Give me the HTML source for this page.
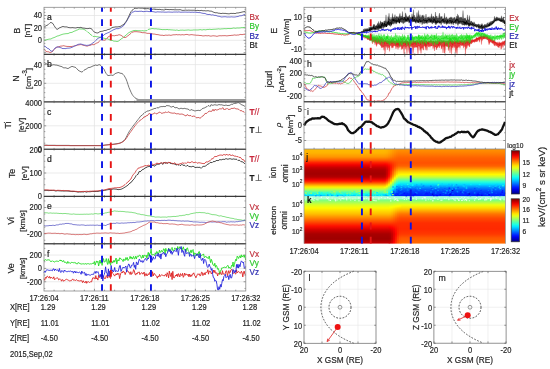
<!DOCTYPE html>
<html><head><meta charset="utf-8"><title>Figure</title>
<style>html,body{margin:0;padding:0;background:#fff;width:550px;height:369px;overflow:hidden}svg{display:block;filter:blur(0.25px)}</style>
</head><body>
<svg width="550" height="369" viewBox="0 0 550 369"><defs><linearGradient id="g1" gradientUnits="userSpaceOnUse" x1="0" y1="149.0" x2="0" y2="196.4"><stop offset="0.000" stop-color="#ffbd00"/><stop offset="0.084" stop-color="#ffb300"/><stop offset="0.169" stop-color="#ff9400"/><stop offset="0.232" stop-color="#ff6100"/><stop offset="0.285" stop-color="#ff2400"/><stop offset="0.338" stop-color="#f00000"/><stop offset="0.390" stop-color="#c70000"/><stop offset="0.443" stop-color="#ad0000"/><stop offset="0.527" stop-color="#a30000"/><stop offset="0.591" stop-color="#b30000"/><stop offset="0.633" stop-color="#db0000"/><stop offset="0.675" stop-color="#ff0f00"/><stop offset="0.717" stop-color="#ff5700"/><stop offset="0.759" stop-color="#ffa800"/><stop offset="0.802" stop-color="#fff000"/><stop offset="0.844" stop-color="#c7ff38"/><stop offset="0.886" stop-color="#80ff80"/><stop offset="0.928" stop-color="#38ffc7"/><stop offset="0.966" stop-color="#00f0ff"/><stop offset="1.000" stop-color="#00b3ff"/></linearGradient><linearGradient id="g2" gradientUnits="userSpaceOnUse" x1="0" y1="149.0" x2="0" y2="196.4"><stop offset="0.000" stop-color="#ff9400"/><stop offset="0.084" stop-color="#ff8000"/><stop offset="0.190" stop-color="#ff6100"/><stop offset="0.295" stop-color="#ff5200"/><stop offset="0.359" stop-color="#ff6100"/><stop offset="0.422" stop-color="#ff9400"/><stop offset="0.485" stop-color="#ffd100"/><stop offset="0.538" stop-color="#fffa00"/><stop offset="0.591" stop-color="#c7ff38"/><stop offset="0.643" stop-color="#75ff8a"/><stop offset="0.696" stop-color="#24ffdb"/><stop offset="0.749" stop-color="#00dbff"/><stop offset="0.802" stop-color="#0094ff"/><stop offset="0.854" stop-color="#0061ff"/><stop offset="0.907" stop-color="#003dff"/><stop offset="0.960" stop-color="#0024ff"/><stop offset="1.000" stop-color="#001aff"/></linearGradient><linearGradient id="g3" gradientUnits="userSpaceOnUse" x1="0" y1="149.0" x2="0" y2="196.4"><stop offset="0.000" stop-color="#ffbc00"/><stop offset="0.021" stop-color="#ffba00"/><stop offset="0.042" stop-color="#ffb700"/><stop offset="0.063" stop-color="#ffb500"/><stop offset="0.083" stop-color="#ffb200"/><stop offset="0.104" stop-color="#ffab00"/><stop offset="0.125" stop-color="#ffa300"/><stop offset="0.146" stop-color="#ff9c00"/><stop offset="0.167" stop-color="#ff9400"/><stop offset="0.187" stop-color="#ff8400"/><stop offset="0.208" stop-color="#ff7400"/><stop offset="0.229" stop-color="#ff6300"/><stop offset="0.250" stop-color="#ff4c00"/><stop offset="0.271" stop-color="#ff3400"/><stop offset="0.292" stop-color="#ff1e00"/><stop offset="0.312" stop-color="#ff0a00"/><stop offset="0.333" stop-color="#f50000"/><stop offset="0.354" stop-color="#e40000"/><stop offset="0.375" stop-color="#d40000"/><stop offset="0.396" stop-color="#c60000"/><stop offset="0.417" stop-color="#bd0000"/><stop offset="0.438" stop-color="#b30000"/><stop offset="0.458" stop-color="#af0000"/><stop offset="0.479" stop-color="#ac0000"/><stop offset="0.500" stop-color="#aa0000"/><stop offset="0.521" stop-color="#a80000"/><stop offset="0.542" stop-color="#aa0000"/><stop offset="0.562" stop-color="#b00000"/><stop offset="0.583" stop-color="#b50000"/><stop offset="0.604" stop-color="#c40000"/><stop offset="0.625" stop-color="#d80000"/><stop offset="0.646" stop-color="#f00000"/><stop offset="0.667" stop-color="#ff0a00"/><stop offset="0.688" stop-color="#ff2900"/><stop offset="0.708" stop-color="#ff4c00"/><stop offset="0.729" stop-color="#ff7200"/><stop offset="0.750" stop-color="#ff9a00"/><stop offset="0.771" stop-color="#ffc000"/><stop offset="0.792" stop-color="#ffe300"/><stop offset="0.812" stop-color="#f8ff07"/><stop offset="0.833" stop-color="#d5ff2a"/><stop offset="0.854" stop-color="#b2ff4d"/><stop offset="0.875" stop-color="#8fff70"/><stop offset="0.896" stop-color="#6cff93"/><stop offset="0.917" stop-color="#49ffb6"/><stop offset="0.937" stop-color="#24ffdb"/><stop offset="0.958" stop-color="#00fcff"/><stop offset="0.979" stop-color="#00d6ff"/><stop offset="1.000" stop-color="#00b1ff"/></linearGradient><linearGradient id="g4" gradientUnits="userSpaceOnUse" x1="0" y1="149.0" x2="0" y2="196.4"><stop offset="0.000" stop-color="#ffb900"/><stop offset="0.021" stop-color="#ffb600"/><stop offset="0.042" stop-color="#ffb300"/><stop offset="0.063" stop-color="#ffb100"/><stop offset="0.083" stop-color="#ffae00"/><stop offset="0.104" stop-color="#ffa700"/><stop offset="0.125" stop-color="#ff9f00"/><stop offset="0.146" stop-color="#ff9800"/><stop offset="0.167" stop-color="#ff9100"/><stop offset="0.187" stop-color="#ff8200"/><stop offset="0.208" stop-color="#ff7200"/><stop offset="0.229" stop-color="#ff6200"/><stop offset="0.250" stop-color="#ff4d00"/><stop offset="0.271" stop-color="#ff3700"/><stop offset="0.292" stop-color="#ff2200"/><stop offset="0.312" stop-color="#ff1000"/><stop offset="0.333" stop-color="#fd0000"/><stop offset="0.354" stop-color="#ee0000"/><stop offset="0.375" stop-color="#e10000"/><stop offset="0.396" stop-color="#d50000"/><stop offset="0.417" stop-color="#ce0000"/><stop offset="0.438" stop-color="#c60000"/><stop offset="0.458" stop-color="#c40000"/><stop offset="0.479" stop-color="#c40000"/><stop offset="0.500" stop-color="#c30000"/><stop offset="0.521" stop-color="#c20000"/><stop offset="0.542" stop-color="#c60000"/><stop offset="0.562" stop-color="#cd0000"/><stop offset="0.583" stop-color="#d40000"/><stop offset="0.604" stop-color="#e40000"/><stop offset="0.625" stop-color="#f90000"/><stop offset="0.646" stop-color="#ff1200"/><stop offset="0.667" stop-color="#ff2c00"/><stop offset="0.688" stop-color="#ff4b00"/><stop offset="0.708" stop-color="#ff6e00"/><stop offset="0.729" stop-color="#ff9300"/><stop offset="0.750" stop-color="#ffbb00"/><stop offset="0.771" stop-color="#ffdf00"/><stop offset="0.792" stop-color="#fcff03"/><stop offset="0.812" stop-color="#daff25"/><stop offset="0.833" stop-color="#b8ff47"/><stop offset="0.854" stop-color="#96ff69"/><stop offset="0.875" stop-color="#75ff8a"/><stop offset="0.896" stop-color="#54ffab"/><stop offset="0.917" stop-color="#32ffcd"/><stop offset="0.937" stop-color="#10ffef"/><stop offset="0.958" stop-color="#00eaff"/><stop offset="0.979" stop-color="#00c7ff"/><stop offset="1.000" stop-color="#00a4ff"/></linearGradient><linearGradient id="g5" gradientUnits="userSpaceOnUse" x1="0" y1="149.0" x2="0" y2="196.4"><stop offset="0.000" stop-color="#ffb300"/><stop offset="0.021" stop-color="#ffb000"/><stop offset="0.042" stop-color="#ffad00"/><stop offset="0.063" stop-color="#ffaa00"/><stop offset="0.083" stop-color="#ffa700"/><stop offset="0.104" stop-color="#ffa000"/><stop offset="0.125" stop-color="#ff9900"/><stop offset="0.146" stop-color="#ff9100"/><stop offset="0.167" stop-color="#ff8a00"/><stop offset="0.187" stop-color="#ff7d00"/><stop offset="0.208" stop-color="#ff6f00"/><stop offset="0.229" stop-color="#ff6100"/><stop offset="0.250" stop-color="#ff4f00"/><stop offset="0.271" stop-color="#ff3c00"/><stop offset="0.292" stop-color="#ff2900"/><stop offset="0.312" stop-color="#ff1b00"/><stop offset="0.333" stop-color="#ff0c00"/><stop offset="0.354" stop-color="#ff0100"/><stop offset="0.375" stop-color="#f70000"/><stop offset="0.396" stop-color="#ef0000"/><stop offset="0.417" stop-color="#eb0000"/><stop offset="0.438" stop-color="#e80000"/><stop offset="0.458" stop-color="#e90000"/><stop offset="0.479" stop-color="#ec0000"/><stop offset="0.500" stop-color="#ee0000"/><stop offset="0.521" stop-color="#f00000"/><stop offset="0.542" stop-color="#f60000"/><stop offset="0.562" stop-color="#ff0100"/><stop offset="0.583" stop-color="#ff0a00"/><stop offset="0.604" stop-color="#ff1c00"/><stop offset="0.625" stop-color="#ff3300"/><stop offset="0.646" stop-color="#ff4d00"/><stop offset="0.667" stop-color="#ff6700"/><stop offset="0.688" stop-color="#ff8700"/><stop offset="0.708" stop-color="#ffa900"/><stop offset="0.729" stop-color="#ffcd00"/><stop offset="0.750" stop-color="#fff200"/><stop offset="0.771" stop-color="#e9ff16"/><stop offset="0.792" stop-color="#c7ff38"/><stop offset="0.812" stop-color="#a6ff59"/><stop offset="0.833" stop-color="#87ff78"/><stop offset="0.854" stop-color="#67ff98"/><stop offset="0.875" stop-color="#48ffb7"/><stop offset="0.896" stop-color="#2affd5"/><stop offset="0.917" stop-color="#0cfff3"/><stop offset="0.937" stop-color="#00ecff"/><stop offset="0.958" stop-color="#00ccff"/><stop offset="0.979" stop-color="#00adff"/><stop offset="1.000" stop-color="#008fff"/></linearGradient><linearGradient id="g6" gradientUnits="userSpaceOnUse" x1="0" y1="149.0" x2="0" y2="196.4"><stop offset="0.000" stop-color="#ffac00"/><stop offset="0.021" stop-color="#ffa900"/><stop offset="0.042" stop-color="#ffa500"/><stop offset="0.063" stop-color="#ffa100"/><stop offset="0.083" stop-color="#ff9e00"/><stop offset="0.104" stop-color="#ff9700"/><stop offset="0.125" stop-color="#ff9000"/><stop offset="0.146" stop-color="#ff8900"/><stop offset="0.167" stop-color="#ff8200"/><stop offset="0.187" stop-color="#ff7600"/><stop offset="0.208" stop-color="#ff6b00"/><stop offset="0.229" stop-color="#ff6000"/><stop offset="0.250" stop-color="#ff5100"/><stop offset="0.271" stop-color="#ff4100"/><stop offset="0.292" stop-color="#ff3300"/><stop offset="0.312" stop-color="#ff2800"/><stop offset="0.333" stop-color="#ff1e00"/><stop offset="0.354" stop-color="#ff1600"/><stop offset="0.375" stop-color="#ff1300"/><stop offset="0.396" stop-color="#ff1100"/><stop offset="0.417" stop-color="#ff1200"/><stop offset="0.438" stop-color="#ff1300"/><stop offset="0.458" stop-color="#ff1900"/><stop offset="0.479" stop-color="#ff2000"/><stop offset="0.500" stop-color="#ff2500"/><stop offset="0.521" stop-color="#ff2a00"/><stop offset="0.542" stop-color="#ff3300"/><stop offset="0.562" stop-color="#ff4000"/><stop offset="0.583" stop-color="#ff4d00"/><stop offset="0.604" stop-color="#ff6100"/><stop offset="0.625" stop-color="#ff7a00"/><stop offset="0.646" stop-color="#ff9500"/><stop offset="0.667" stop-color="#ffb100"/><stop offset="0.688" stop-color="#ffd100"/><stop offset="0.708" stop-color="#fff200"/><stop offset="0.729" stop-color="#eaff15"/><stop offset="0.750" stop-color="#c7ff38"/><stop offset="0.771" stop-color="#a5ff5a"/><stop offset="0.792" stop-color="#84ff7b"/><stop offset="0.812" stop-color="#66ff99"/><stop offset="0.833" stop-color="#49ffb6"/><stop offset="0.854" stop-color="#2bffd4"/><stop offset="0.875" stop-color="#11ffee"/><stop offset="0.896" stop-color="#00f5ff"/><stop offset="0.917" stop-color="#00dbff"/><stop offset="0.937" stop-color="#00c1ff"/><stop offset="0.958" stop-color="#00a6ff"/><stop offset="0.979" stop-color="#008dff"/><stop offset="1.000" stop-color="#0074ff"/></linearGradient><linearGradient id="g7" gradientUnits="userSpaceOnUse" x1="0" y1="149.0" x2="0" y2="196.4"><stop offset="0.000" stop-color="#ffa400"/><stop offset="0.021" stop-color="#ffa000"/><stop offset="0.042" stop-color="#ff9c00"/><stop offset="0.063" stop-color="#ff9800"/><stop offset="0.083" stop-color="#ff9400"/><stop offset="0.104" stop-color="#ff8e00"/><stop offset="0.125" stop-color="#ff8700"/><stop offset="0.146" stop-color="#ff8100"/><stop offset="0.167" stop-color="#ff7a00"/><stop offset="0.187" stop-color="#ff7000"/><stop offset="0.208" stop-color="#ff6700"/><stop offset="0.229" stop-color="#ff5e00"/><stop offset="0.250" stop-color="#ff5300"/><stop offset="0.271" stop-color="#ff4800"/><stop offset="0.292" stop-color="#ff3d00"/><stop offset="0.312" stop-color="#ff3600"/><stop offset="0.333" stop-color="#ff3100"/><stop offset="0.354" stop-color="#ff2d00"/><stop offset="0.375" stop-color="#ff2f00"/><stop offset="0.396" stop-color="#ff3300"/><stop offset="0.417" stop-color="#ff3900"/><stop offset="0.438" stop-color="#ff4100"/><stop offset="0.458" stop-color="#ff4b00"/><stop offset="0.479" stop-color="#ff5600"/><stop offset="0.500" stop-color="#ff5f00"/><stop offset="0.521" stop-color="#ff6700"/><stop offset="0.542" stop-color="#ff7300"/><stop offset="0.562" stop-color="#ff8300"/><stop offset="0.583" stop-color="#ff9400"/><stop offset="0.604" stop-color="#ffab00"/><stop offset="0.625" stop-color="#ffc600"/><stop offset="0.646" stop-color="#ffe300"/><stop offset="0.667" stop-color="#feff01"/><stop offset="0.688" stop-color="#deff21"/><stop offset="0.708" stop-color="#beff41"/><stop offset="0.729" stop-color="#9eff61"/><stop offset="0.750" stop-color="#7cff83"/><stop offset="0.771" stop-color="#5cffa3"/><stop offset="0.792" stop-color="#3dffc2"/><stop offset="0.812" stop-color="#21ffde"/><stop offset="0.833" stop-color="#06fff9"/><stop offset="0.854" stop-color="#00ebff"/><stop offset="0.875" stop-color="#00d4ff"/><stop offset="0.896" stop-color="#00beff"/><stop offset="0.917" stop-color="#00a8ff"/><stop offset="0.937" stop-color="#0093ff"/><stop offset="0.958" stop-color="#007dff"/><stop offset="0.979" stop-color="#006aff"/><stop offset="1.000" stop-color="#0058ff"/></linearGradient><linearGradient id="g8" gradientUnits="userSpaceOnUse" x1="0" y1="149.0" x2="0" y2="196.4"><stop offset="0.000" stop-color="#ff9d00"/><stop offset="0.021" stop-color="#ff9900"/><stop offset="0.042" stop-color="#ff9400"/><stop offset="0.063" stop-color="#ff9000"/><stop offset="0.083" stop-color="#ff8c00"/><stop offset="0.104" stop-color="#ff8500"/><stop offset="0.125" stop-color="#ff7f00"/><stop offset="0.146" stop-color="#ff7800"/><stop offset="0.167" stop-color="#ff7200"/><stop offset="0.187" stop-color="#ff6a00"/><stop offset="0.208" stop-color="#ff6300"/><stop offset="0.229" stop-color="#ff5d00"/><stop offset="0.250" stop-color="#ff5500"/><stop offset="0.271" stop-color="#ff4d00"/><stop offset="0.292" stop-color="#ff4600"/><stop offset="0.312" stop-color="#ff4400"/><stop offset="0.333" stop-color="#ff4300"/><stop offset="0.354" stop-color="#ff4300"/><stop offset="0.375" stop-color="#ff4a00"/><stop offset="0.396" stop-color="#ff5400"/><stop offset="0.417" stop-color="#ff5e00"/><stop offset="0.438" stop-color="#ff6b00"/><stop offset="0.458" stop-color="#ff7900"/><stop offset="0.479" stop-color="#ff8800"/><stop offset="0.500" stop-color="#ff9500"/><stop offset="0.521" stop-color="#ffa100"/><stop offset="0.542" stop-color="#ffaf00"/><stop offset="0.562" stop-color="#ffc200"/><stop offset="0.583" stop-color="#ffd600"/><stop offset="0.604" stop-color="#fff000"/><stop offset="0.625" stop-color="#f0ff0f"/><stop offset="0.646" stop-color="#d2ff2d"/><stop offset="0.667" stop-color="#b4ff4b"/><stop offset="0.688" stop-color="#94ff6b"/><stop offset="0.708" stop-color="#75ff8a"/><stop offset="0.729" stop-color="#56ffa9"/><stop offset="0.750" stop-color="#37ffc8"/><stop offset="0.771" stop-color="#19ffe6"/><stop offset="0.792" stop-color="#00faff"/><stop offset="0.812" stop-color="#00dfff"/><stop offset="0.833" stop-color="#00c8ff"/><stop offset="0.854" stop-color="#00b0ff"/><stop offset="0.875" stop-color="#009dff"/><stop offset="0.896" stop-color="#008aff"/><stop offset="0.917" stop-color="#0078ff"/><stop offset="0.937" stop-color="#0068ff"/><stop offset="0.958" stop-color="#0057ff"/><stop offset="0.979" stop-color="#004aff"/><stop offset="1.000" stop-color="#003dff"/></linearGradient><linearGradient id="g9" gradientUnits="userSpaceOnUse" x1="0" y1="149.0" x2="0" y2="196.4"><stop offset="0.000" stop-color="#ff9800"/><stop offset="0.021" stop-color="#ff9300"/><stop offset="0.042" stop-color="#ff8e00"/><stop offset="0.063" stop-color="#ff8900"/><stop offset="0.083" stop-color="#ff8400"/><stop offset="0.104" stop-color="#ff7e00"/><stop offset="0.125" stop-color="#ff7800"/><stop offset="0.146" stop-color="#ff7200"/><stop offset="0.167" stop-color="#ff6c00"/><stop offset="0.187" stop-color="#ff6500"/><stop offset="0.208" stop-color="#ff6000"/><stop offset="0.229" stop-color="#ff5c00"/><stop offset="0.250" stop-color="#ff5700"/><stop offset="0.271" stop-color="#ff5200"/><stop offset="0.292" stop-color="#ff4d00"/><stop offset="0.312" stop-color="#ff4f00"/><stop offset="0.333" stop-color="#ff5100"/><stop offset="0.354" stop-color="#ff5400"/><stop offset="0.375" stop-color="#ff6000"/><stop offset="0.396" stop-color="#ff6e00"/><stop offset="0.417" stop-color="#ff7c00"/><stop offset="0.438" stop-color="#ff8d00"/><stop offset="0.458" stop-color="#ff9e00"/><stop offset="0.479" stop-color="#ffb100"/><stop offset="0.500" stop-color="#ffc000"/><stop offset="0.521" stop-color="#ffce00"/><stop offset="0.542" stop-color="#ffdf00"/><stop offset="0.562" stop-color="#fff500"/><stop offset="0.583" stop-color="#f3ff0c"/><stop offset="0.604" stop-color="#d7ff28"/><stop offset="0.625" stop-color="#b7ff48"/><stop offset="0.646" stop-color="#98ff67"/><stop offset="0.667" stop-color="#78ff87"/><stop offset="0.688" stop-color="#58ffa7"/><stop offset="0.708" stop-color="#3affc5"/><stop offset="0.729" stop-color="#1dffe2"/><stop offset="0.750" stop-color="#00ffff"/><stop offset="0.771" stop-color="#00e1ff"/><stop offset="0.792" stop-color="#00c5ff"/><stop offset="0.812" stop-color="#00acff"/><stop offset="0.833" stop-color="#0096ff"/><stop offset="0.854" stop-color="#0080ff"/><stop offset="0.875" stop-color="#0070ff"/><stop offset="0.896" stop-color="#0060ff"/><stop offset="0.917" stop-color="#0052ff"/><stop offset="0.937" stop-color="#0045ff"/><stop offset="0.958" stop-color="#0039ff"/><stop offset="0.979" stop-color="#0030ff"/><stop offset="1.000" stop-color="#0028ff"/></linearGradient><linearGradient id="g10" gradientUnits="userSpaceOnUse" x1="0" y1="149.0" x2="0" y2="196.4"><stop offset="0.000" stop-color="#ff9400"/><stop offset="0.021" stop-color="#ff8f00"/><stop offset="0.042" stop-color="#ff8a00"/><stop offset="0.063" stop-color="#ff8500"/><stop offset="0.083" stop-color="#ff8000"/><stop offset="0.104" stop-color="#ff7a00"/><stop offset="0.125" stop-color="#ff7400"/><stop offset="0.146" stop-color="#ff6e00"/><stop offset="0.167" stop-color="#ff6800"/><stop offset="0.187" stop-color="#ff6200"/><stop offset="0.208" stop-color="#ff5e00"/><stop offset="0.229" stop-color="#ff5b00"/><stop offset="0.250" stop-color="#ff5800"/><stop offset="0.271" stop-color="#ff5500"/><stop offset="0.292" stop-color="#ff5200"/><stop offset="0.312" stop-color="#ff5500"/><stop offset="0.333" stop-color="#ff5a00"/><stop offset="0.354" stop-color="#ff5e00"/><stop offset="0.375" stop-color="#ff6c00"/><stop offset="0.396" stop-color="#ff7d00"/><stop offset="0.417" stop-color="#ff8d00"/><stop offset="0.438" stop-color="#ffa000"/><stop offset="0.458" stop-color="#ffb400"/><stop offset="0.479" stop-color="#ffc800"/><stop offset="0.500" stop-color="#ffd900"/><stop offset="0.521" stop-color="#ffe900"/><stop offset="0.542" stop-color="#fffa00"/><stop offset="0.562" stop-color="#ecff13"/><stop offset="0.583" stop-color="#d4ff2b"/><stop offset="0.604" stop-color="#b7ff48"/><stop offset="0.625" stop-color="#96ff69"/><stop offset="0.646" stop-color="#76ff89"/><stop offset="0.667" stop-color="#56ffa9"/><stop offset="0.688" stop-color="#36ffc9"/><stop offset="0.708" stop-color="#18ffe7"/><stop offset="0.729" stop-color="#00fbff"/><stop offset="0.750" stop-color="#00deff"/><stop offset="0.771" stop-color="#00c2ff"/><stop offset="0.792" stop-color="#00a6ff"/><stop offset="0.812" stop-color="#008eff"/><stop offset="0.833" stop-color="#0079ff"/><stop offset="0.854" stop-color="#0065ff"/><stop offset="0.875" stop-color="#0057ff"/><stop offset="0.896" stop-color="#0048ff"/><stop offset="0.917" stop-color="#003cff"/><stop offset="0.937" stop-color="#0031ff"/><stop offset="0.958" stop-color="#0027ff"/><stop offset="0.979" stop-color="#0021ff"/><stop offset="1.000" stop-color="#001bff"/></linearGradient><linearGradient id="g11" gradientUnits="userSpaceOnUse" x1="0" y1="196.4" x2="0" y2="243.6"><stop offset="0.000" stop-color="#57ffa8"/><stop offset="0.055" stop-color="#6bff94"/><stop offset="0.119" stop-color="#9eff61"/><stop offset="0.182" stop-color="#dbff24"/><stop offset="0.246" stop-color="#fffa00"/><stop offset="0.309" stop-color="#ffdb00"/><stop offset="0.373" stop-color="#ffbd00"/><stop offset="0.458" stop-color="#ff8500"/><stop offset="0.542" stop-color="#ff4c00"/><stop offset="0.627" stop-color="#ff0f00"/><stop offset="0.712" stop-color="#d10000"/><stop offset="0.797" stop-color="#a80000"/><stop offset="0.903" stop-color="#9e0000"/><stop offset="1.000" stop-color="#c70000"/></linearGradient><linearGradient id="g12" gradientUnits="userSpaceOnUse" x1="0" y1="196.4" x2="0" y2="243.6"><stop offset="0.000" stop-color="#42ffbd"/><stop offset="0.055" stop-color="#61ff9e"/><stop offset="0.119" stop-color="#a8ff57"/><stop offset="0.182" stop-color="#f0ff0f"/><stop offset="0.246" stop-color="#ffdb00"/><stop offset="0.309" stop-color="#ffa800"/><stop offset="0.373" stop-color="#ff7500"/><stop offset="0.458" stop-color="#ff4c00"/><stop offset="0.564" stop-color="#ff2e00"/><stop offset="0.691" stop-color="#ff2900"/><stop offset="0.797" stop-color="#ff3800"/><stop offset="0.881" stop-color="#ff5700"/><stop offset="1.000" stop-color="#ff6b00"/></linearGradient><linearGradient id="g13" gradientUnits="userSpaceOnUse" x1="0" y1="196.4" x2="0" y2="243.6"><stop offset="0.000" stop-color="#56ffa9"/><stop offset="0.021" stop-color="#5effa1"/><stop offset="0.042" stop-color="#66ff99"/><stop offset="0.062" stop-color="#71ff8e"/><stop offset="0.083" stop-color="#82ff7d"/><stop offset="0.104" stop-color="#93ff6c"/><stop offset="0.125" stop-color="#a4ff5b"/><stop offset="0.146" stop-color="#b9ff46"/><stop offset="0.167" stop-color="#cdff32"/><stop offset="0.187" stop-color="#dfff20"/><stop offset="0.208" stop-color="#edff12"/><stop offset="0.229" stop-color="#faff05"/><stop offset="0.250" stop-color="#fff700"/><stop offset="0.271" stop-color="#ffed00"/><stop offset="0.292" stop-color="#ffe300"/><stop offset="0.313" stop-color="#ffd900"/><stop offset="0.333" stop-color="#ffcf00"/><stop offset="0.354" stop-color="#ffc400"/><stop offset="0.375" stop-color="#ffba00"/><stop offset="0.396" stop-color="#ffac00"/><stop offset="0.417" stop-color="#ff9e00"/><stop offset="0.438" stop-color="#ff9100"/><stop offset="0.458" stop-color="#ff8300"/><stop offset="0.479" stop-color="#ff7500"/><stop offset="0.500" stop-color="#ff6800"/><stop offset="0.521" stop-color="#ff5a00"/><stop offset="0.542" stop-color="#ff4c00"/><stop offset="0.562" stop-color="#ff3e00"/><stop offset="0.583" stop-color="#ff2f00"/><stop offset="0.604" stop-color="#ff2000"/><stop offset="0.625" stop-color="#ff1100"/><stop offset="0.646" stop-color="#ff0300"/><stop offset="0.667" stop-color="#f30000"/><stop offset="0.687" stop-color="#e40000"/><stop offset="0.708" stop-color="#d50000"/><stop offset="0.729" stop-color="#cb0000"/><stop offset="0.750" stop-color="#c10000"/><stop offset="0.771" stop-color="#b70000"/><stop offset="0.792" stop-color="#ad0000"/><stop offset="0.813" stop-color="#aa0000"/><stop offset="0.833" stop-color="#a80000"/><stop offset="0.854" stop-color="#a60000"/><stop offset="0.875" stop-color="#a40000"/><stop offset="0.896" stop-color="#a20000"/><stop offset="0.917" stop-color="#a80000"/><stop offset="0.937" stop-color="#b00000"/><stop offset="0.958" stop-color="#b90000"/><stop offset="0.979" stop-color="#c10000"/><stop offset="1.000" stop-color="#ca0000"/></linearGradient><linearGradient id="g14" gradientUnits="userSpaceOnUse" x1="0" y1="196.4" x2="0" y2="243.6"><stop offset="0.000" stop-color="#54ffab"/><stop offset="0.021" stop-color="#5cffa3"/><stop offset="0.042" stop-color="#64ff9b"/><stop offset="0.062" stop-color="#70ff8f"/><stop offset="0.083" stop-color="#82ff7d"/><stop offset="0.104" stop-color="#93ff6c"/><stop offset="0.125" stop-color="#a6ff59"/><stop offset="0.146" stop-color="#bbff44"/><stop offset="0.167" stop-color="#cfff30"/><stop offset="0.187" stop-color="#e2ff1d"/><stop offset="0.208" stop-color="#f0ff0f"/><stop offset="0.229" stop-color="#feff01"/><stop offset="0.250" stop-color="#fff300"/><stop offset="0.271" stop-color="#ffe800"/><stop offset="0.292" stop-color="#ffdd00"/><stop offset="0.313" stop-color="#ffd200"/><stop offset="0.333" stop-color="#ffc700"/><stop offset="0.354" stop-color="#ffbb00"/><stop offset="0.375" stop-color="#ffb000"/><stop offset="0.396" stop-color="#ffa300"/><stop offset="0.417" stop-color="#ff9600"/><stop offset="0.438" stop-color="#ff8900"/><stop offset="0.458" stop-color="#ff7b00"/><stop offset="0.479" stop-color="#ff6f00"/><stop offset="0.500" stop-color="#ff6200"/><stop offset="0.521" stop-color="#ff5600"/><stop offset="0.542" stop-color="#ff4900"/><stop offset="0.562" stop-color="#ff3c00"/><stop offset="0.583" stop-color="#ff2f00"/><stop offset="0.604" stop-color="#ff2200"/><stop offset="0.625" stop-color="#ff1500"/><stop offset="0.646" stop-color="#ff0800"/><stop offset="0.667" stop-color="#fa0000"/><stop offset="0.687" stop-color="#ee0000"/><stop offset="0.708" stop-color="#e10000"/><stop offset="0.729" stop-color="#d80000"/><stop offset="0.750" stop-color="#d00000"/><stop offset="0.771" stop-color="#c90000"/><stop offset="0.792" stop-color="#c10000"/><stop offset="0.813" stop-color="#be0000"/><stop offset="0.833" stop-color="#be0000"/><stop offset="0.854" stop-color="#bd0000"/><stop offset="0.875" stop-color="#bd0000"/><stop offset="0.896" stop-color="#bc0000"/><stop offset="0.917" stop-color="#c10000"/><stop offset="0.937" stop-color="#c90000"/><stop offset="0.958" stop-color="#d10000"/><stop offset="0.979" stop-color="#d80000"/><stop offset="1.000" stop-color="#e00000"/></linearGradient><linearGradient id="g15" gradientUnits="userSpaceOnUse" x1="0" y1="196.4" x2="0" y2="243.6"><stop offset="0.000" stop-color="#4fffb0"/><stop offset="0.021" stop-color="#58ffa7"/><stop offset="0.042" stop-color="#61ff9e"/><stop offset="0.062" stop-color="#6eff91"/><stop offset="0.083" stop-color="#81ff7e"/><stop offset="0.104" stop-color="#95ff6a"/><stop offset="0.125" stop-color="#a8ff57"/><stop offset="0.146" stop-color="#beff41"/><stop offset="0.167" stop-color="#d3ff2c"/><stop offset="0.187" stop-color="#e7ff18"/><stop offset="0.208" stop-color="#f5ff0a"/><stop offset="0.229" stop-color="#fffa00"/><stop offset="0.250" stop-color="#ffec00"/><stop offset="0.271" stop-color="#ffdf00"/><stop offset="0.292" stop-color="#ffd300"/><stop offset="0.313" stop-color="#ffc600"/><stop offset="0.333" stop-color="#ffba00"/><stop offset="0.354" stop-color="#ffad00"/><stop offset="0.375" stop-color="#ffa100"/><stop offset="0.396" stop-color="#ff9400"/><stop offset="0.417" stop-color="#ff8800"/><stop offset="0.438" stop-color="#ff7b00"/><stop offset="0.458" stop-color="#ff6f00"/><stop offset="0.479" stop-color="#ff6400"/><stop offset="0.500" stop-color="#ff5900"/><stop offset="0.521" stop-color="#ff4f00"/><stop offset="0.542" stop-color="#ff4400"/><stop offset="0.562" stop-color="#ff3800"/><stop offset="0.583" stop-color="#ff2e00"/><stop offset="0.604" stop-color="#ff2500"/><stop offset="0.625" stop-color="#ff1b00"/><stop offset="0.646" stop-color="#ff1100"/><stop offset="0.667" stop-color="#ff0700"/><stop offset="0.687" stop-color="#fd0000"/><stop offset="0.708" stop-color="#f40000"/><stop offset="0.729" stop-color="#ef0000"/><stop offset="0.750" stop-color="#e90000"/><stop offset="0.771" stop-color="#e40000"/><stop offset="0.792" stop-color="#df0000"/><stop offset="0.813" stop-color="#df0000"/><stop offset="0.833" stop-color="#e10000"/><stop offset="0.854" stop-color="#e20000"/><stop offset="0.875" stop-color="#e40000"/><stop offset="0.896" stop-color="#e50000"/><stop offset="0.917" stop-color="#e90000"/><stop offset="0.937" stop-color="#f00000"/><stop offset="0.958" stop-color="#f70000"/><stop offset="0.979" stop-color="#fe0000"/><stop offset="1.000" stop-color="#ff0500"/></linearGradient><linearGradient id="g16" gradientUnits="userSpaceOnUse" x1="0" y1="196.4" x2="0" y2="243.6"><stop offset="0.000" stop-color="#4affb5"/><stop offset="0.021" stop-color="#54ffab"/><stop offset="0.042" stop-color="#5effa1"/><stop offset="0.062" stop-color="#6cff93"/><stop offset="0.083" stop-color="#81ff7e"/><stop offset="0.104" stop-color="#96ff69"/><stop offset="0.125" stop-color="#abff54"/><stop offset="0.146" stop-color="#c1ff3e"/><stop offset="0.167" stop-color="#d8ff27"/><stop offset="0.187" stop-color="#ecff13"/><stop offset="0.208" stop-color="#fbff04"/><stop offset="0.229" stop-color="#fff300"/><stop offset="0.250" stop-color="#ffe400"/><stop offset="0.271" stop-color="#ffd600"/><stop offset="0.292" stop-color="#ffc800"/><stop offset="0.313" stop-color="#ffb900"/><stop offset="0.333" stop-color="#ffab00"/><stop offset="0.354" stop-color="#ff9d00"/><stop offset="0.375" stop-color="#ff8f00"/><stop offset="0.396" stop-color="#ff8400"/><stop offset="0.417" stop-color="#ff7800"/><stop offset="0.438" stop-color="#ff6d00"/><stop offset="0.458" stop-color="#ff6100"/><stop offset="0.479" stop-color="#ff5800"/><stop offset="0.500" stop-color="#ff4f00"/><stop offset="0.521" stop-color="#ff4600"/><stop offset="0.542" stop-color="#ff3e00"/><stop offset="0.562" stop-color="#ff3400"/><stop offset="0.583" stop-color="#ff2e00"/><stop offset="0.604" stop-color="#ff2800"/><stop offset="0.625" stop-color="#ff2100"/><stop offset="0.646" stop-color="#ff1b00"/><stop offset="0.667" stop-color="#ff1500"/><stop offset="0.687" stop-color="#ff0f00"/><stop offset="0.708" stop-color="#ff0b00"/><stop offset="0.729" stop-color="#ff0900"/><stop offset="0.750" stop-color="#ff0700"/><stop offset="0.771" stop-color="#ff0500"/><stop offset="0.792" stop-color="#ff0300"/><stop offset="0.813" stop-color="#ff0500"/><stop offset="0.833" stop-color="#ff0900"/><stop offset="0.854" stop-color="#ff0d00"/><stop offset="0.875" stop-color="#ff1100"/><stop offset="0.896" stop-color="#ff1300"/><stop offset="0.917" stop-color="#ff1800"/><stop offset="0.937" stop-color="#ff1d00"/><stop offset="0.958" stop-color="#ff2300"/><stop offset="0.979" stop-color="#ff2800"/><stop offset="1.000" stop-color="#ff2e00"/></linearGradient><linearGradient id="g17" gradientUnits="userSpaceOnUse" x1="0" y1="196.4" x2="0" y2="243.6"><stop offset="0.000" stop-color="#45ffba"/><stop offset="0.021" stop-color="#50ffaf"/><stop offset="0.042" stop-color="#5bffa4"/><stop offset="0.062" stop-color="#6aff95"/><stop offset="0.083" stop-color="#81ff7e"/><stop offset="0.104" stop-color="#97ff68"/><stop offset="0.125" stop-color="#aeff51"/><stop offset="0.146" stop-color="#c5ff3a"/><stop offset="0.167" stop-color="#dbff24"/><stop offset="0.187" stop-color="#f1ff0e"/><stop offset="0.208" stop-color="#fffd00"/><stop offset="0.229" stop-color="#ffed00"/><stop offset="0.250" stop-color="#ffdd00"/><stop offset="0.271" stop-color="#ffcd00"/><stop offset="0.292" stop-color="#ffbe00"/><stop offset="0.313" stop-color="#ffae00"/><stop offset="0.333" stop-color="#ff9e00"/><stop offset="0.354" stop-color="#ff8f00"/><stop offset="0.375" stop-color="#ff7f00"/><stop offset="0.396" stop-color="#ff7500"/><stop offset="0.417" stop-color="#ff6a00"/><stop offset="0.438" stop-color="#ff6000"/><stop offset="0.458" stop-color="#ff5500"/><stop offset="0.479" stop-color="#ff4e00"/><stop offset="0.500" stop-color="#ff4700"/><stop offset="0.521" stop-color="#ff3f00"/><stop offset="0.542" stop-color="#ff3800"/><stop offset="0.562" stop-color="#ff3100"/><stop offset="0.583" stop-color="#ff2d00"/><stop offset="0.604" stop-color="#ff2a00"/><stop offset="0.625" stop-color="#ff2700"/><stop offset="0.646" stop-color="#ff2400"/><stop offset="0.667" stop-color="#ff2100"/><stop offset="0.687" stop-color="#ff1e00"/><stop offset="0.708" stop-color="#ff1e00"/><stop offset="0.729" stop-color="#ff1f00"/><stop offset="0.750" stop-color="#ff2000"/><stop offset="0.771" stop-color="#ff2100"/><stop offset="0.792" stop-color="#ff2200"/><stop offset="0.813" stop-color="#ff2600"/><stop offset="0.833" stop-color="#ff2c00"/><stop offset="0.854" stop-color="#ff3200"/><stop offset="0.875" stop-color="#ff3800"/><stop offset="0.896" stop-color="#ff3c00"/><stop offset="0.917" stop-color="#ff4000"/><stop offset="0.937" stop-color="#ff4400"/><stop offset="0.958" stop-color="#ff4900"/><stop offset="0.979" stop-color="#ff4d00"/><stop offset="1.000" stop-color="#ff5200"/></linearGradient><linearGradient id="g18" gradientUnits="userSpaceOnUse" x1="0" y1="196.4" x2="0" y2="243.6"><stop offset="0.000" stop-color="#43ffbc"/><stop offset="0.021" stop-color="#4effb1"/><stop offset="0.042" stop-color="#5affa5"/><stop offset="0.062" stop-color="#69ff96"/><stop offset="0.083" stop-color="#81ff7e"/><stop offset="0.104" stop-color="#98ff67"/><stop offset="0.125" stop-color="#afff50"/><stop offset="0.146" stop-color="#c7ff38"/><stop offset="0.167" stop-color="#deff21"/><stop offset="0.187" stop-color="#f4ff0b"/><stop offset="0.208" stop-color="#fffa00"/><stop offset="0.229" stop-color="#ffe900"/><stop offset="0.250" stop-color="#ffd900"/><stop offset="0.271" stop-color="#ffc800"/><stop offset="0.292" stop-color="#ffb700"/><stop offset="0.313" stop-color="#ffa700"/><stop offset="0.333" stop-color="#ff9600"/><stop offset="0.354" stop-color="#ff8600"/><stop offset="0.375" stop-color="#ff7600"/><stop offset="0.396" stop-color="#ff6c00"/><stop offset="0.417" stop-color="#ff6100"/><stop offset="0.438" stop-color="#ff5700"/><stop offset="0.458" stop-color="#ff4d00"/><stop offset="0.479" stop-color="#ff4700"/><stop offset="0.500" stop-color="#ff4100"/><stop offset="0.521" stop-color="#ff3b00"/><stop offset="0.542" stop-color="#ff3500"/><stop offset="0.562" stop-color="#ff2f00"/><stop offset="0.583" stop-color="#ff2d00"/><stop offset="0.604" stop-color="#ff2c00"/><stop offset="0.625" stop-color="#ff2b00"/><stop offset="0.646" stop-color="#ff2a00"/><stop offset="0.667" stop-color="#ff2900"/><stop offset="0.687" stop-color="#ff2800"/><stop offset="0.708" stop-color="#ff2a00"/><stop offset="0.729" stop-color="#ff2c00"/><stop offset="0.750" stop-color="#ff2f00"/><stop offset="0.771" stop-color="#ff3200"/><stop offset="0.792" stop-color="#ff3500"/><stop offset="0.813" stop-color="#ff3b00"/><stop offset="0.833" stop-color="#ff4200"/><stop offset="0.854" stop-color="#ff4a00"/><stop offset="0.875" stop-color="#ff5100"/><stop offset="0.896" stop-color="#ff5600"/><stop offset="0.917" stop-color="#ff5900"/><stop offset="0.937" stop-color="#ff5d00"/><stop offset="0.958" stop-color="#ff6100"/><stop offset="0.979" stop-color="#ff6400"/><stop offset="1.000" stop-color="#ff6800"/></linearGradient><linearGradient id="g19" gradientUnits="userSpaceOnUse" x1="0" y1="150.7" x2="0" y2="194.0"><stop offset="0.000" stop-color="#800000"/><stop offset="0.050" stop-color="#b30000"/><stop offset="0.100" stop-color="#e50000"/><stop offset="0.150" stop-color="#ff1a00"/><stop offset="0.200" stop-color="#ff4c00"/><stop offset="0.250" stop-color="#ff8000"/><stop offset="0.300" stop-color="#ffb300"/><stop offset="0.350" stop-color="#ffe500"/><stop offset="0.400" stop-color="#e5ff1a"/><stop offset="0.450" stop-color="#b3ff4c"/><stop offset="0.500" stop-color="#80ff80"/><stop offset="0.550" stop-color="#4cffb3"/><stop offset="0.600" stop-color="#1affe5"/><stop offset="0.650" stop-color="#00e5ff"/><stop offset="0.700" stop-color="#00b3ff"/><stop offset="0.750" stop-color="#0080ff"/><stop offset="0.800" stop-color="#004cff"/><stop offset="0.850" stop-color="#001aff"/><stop offset="0.900" stop-color="#0000e5"/><stop offset="0.950" stop-color="#0000b3"/><stop offset="1.000" stop-color="#000080"/></linearGradient><linearGradient id="g20" gradientUnits="userSpaceOnUse" x1="0" y1="198.8" x2="0" y2="241.8"><stop offset="0.000" stop-color="#800000"/><stop offset="0.050" stop-color="#b30000"/><stop offset="0.100" stop-color="#e50000"/><stop offset="0.150" stop-color="#ff1a00"/><stop offset="0.200" stop-color="#ff4c00"/><stop offset="0.250" stop-color="#ff8000"/><stop offset="0.300" stop-color="#ffb300"/><stop offset="0.350" stop-color="#ffe500"/><stop offset="0.400" stop-color="#e5ff1a"/><stop offset="0.450" stop-color="#b3ff4c"/><stop offset="0.500" stop-color="#80ff80"/><stop offset="0.550" stop-color="#4cffb3"/><stop offset="0.600" stop-color="#1affe5"/><stop offset="0.650" stop-color="#00e5ff"/><stop offset="0.700" stop-color="#00b3ff"/><stop offset="0.750" stop-color="#0080ff"/><stop offset="0.800" stop-color="#004cff"/><stop offset="0.850" stop-color="#001aff"/><stop offset="0.900" stop-color="#0000e5"/><stop offset="0.950" stop-color="#0000b3"/><stop offset="1.000" stop-color="#000080"/></linearGradient></defs><rect width="550" height="369" fill="#fff"/><g font-family='"Liberation Sans", Arial, Helvetica, sans-serif'>
<line x1="44.0" y1="15.50" x2="245.8" y2="15.50" stroke="#e2e2e2" stroke-width="0.7"/>
<line x1="44.0" y1="27.90" x2="245.8" y2="27.90" stroke="#e2e2e2" stroke-width="0.7"/>
<line x1="44.0" y1="40.30" x2="245.8" y2="40.30" stroke="#e2e2e2" stroke-width="0.7"/>
<line x1="94.45" y1="7.3" x2="94.45" y2="54.4" stroke="#e2e2e2" stroke-width="0.7"/>
<line x1="144.90" y1="7.3" x2="144.90" y2="54.4" stroke="#e2e2e2" stroke-width="0.7"/>
<line x1="195.35" y1="7.3" x2="195.35" y2="54.4" stroke="#e2e2e2" stroke-width="0.7"/>
<path d="M44.0,15.50h2.2M245.8,15.50h-2.2M44.0,27.90h2.2M245.8,27.90h-2.2M44.0,40.30h2.2M245.8,40.30h-2.2M44.0,52.70h2.2M245.8,52.70h-2.2M44.0,49.60h1.3M245.8,49.60h-1.3M44.0,46.50h1.3M245.8,46.50h-1.3M44.0,43.40h1.3M245.8,43.40h-1.3M44.0,37.20h1.3M245.8,37.20h-1.3M44.0,34.10h1.3M245.8,34.10h-1.3M44.0,31.00h1.3M245.8,31.00h-1.3M44.0,24.80h1.3M245.8,24.80h-1.3M44.0,21.70h1.3M245.8,21.70h-1.3M44.0,18.60h1.3M245.8,18.60h-1.3M44.0,12.40h1.3M245.8,12.40h-1.3M44.0,9.30h1.3M245.8,9.30h-1.3M94.45,7.3v2.2M94.45,54.4v-2.2M144.90,7.3v2.2M144.90,54.4v-2.2M195.35,7.3v2.2M195.35,54.4v-2.2M54.09,7.3v1.3M54.09,54.4v-1.3M64.18,7.3v1.3M64.18,54.4v-1.3M74.27,7.3v1.3M74.27,54.4v-1.3M84.36,7.3v1.3M84.36,54.4v-1.3M104.54,7.3v1.3M104.54,54.4v-1.3M114.63,7.3v1.3M114.63,54.4v-1.3M124.72,7.3v1.3M124.72,54.4v-1.3M134.81,7.3v1.3M134.81,54.4v-1.3M154.99,7.3v1.3M154.99,54.4v-1.3M165.08,7.3v1.3M165.08,54.4v-1.3M175.17,7.3v1.3M175.17,54.4v-1.3M185.26,7.3v1.3M185.26,54.4v-1.3M205.44,7.3v1.3M205.44,54.4v-1.3M215.53,7.3v1.3M215.53,54.4v-1.3M225.62,7.3v1.3M225.62,54.4v-1.3M235.71,7.3v1.3M235.71,54.4v-1.3" stroke="#555" stroke-width="0.6" fill="none"/>
<path d="M44.0,40.2 L45.0,40.1 L46.0,39.9 L47.0,39.6 L48.0,39.4 L49.0,39.1 L50.0,39.0 L51.0,39.0 L52.0,38.3 L53.0,37.9 L54.0,37.6 L55.0,37.2 L56.0,36.7 L57.0,36.1 L58.0,35.9 L59.0,35.7 L60.0,35.1 L61.0,34.9 L62.0,34.4 L63.0,34.2 L64.0,33.9 L65.0,33.9 L66.0,33.6 L67.0,33.7 L68.0,33.5 L69.0,33.2 L70.0,32.5 L71.0,32.6 L72.0,32.3 L73.0,31.9 L74.0,31.2 L75.0,31.0 L76.0,30.5 L77.0,30.0 L78.0,29.8 L79.0,29.0 L80.0,28.9 L81.0,29.1 L82.0,28.9 L83.0,29.1 L84.0,29.4 L85.0,30.0 L86.0,30.5 L87.0,31.5 L88.0,32.5 L89.0,32.7 L90.0,34.1 L91.0,34.9 L92.0,35.5 L93.0,36.5 L94.0,36.5 L95.0,36.3 L96.0,36.6 L97.0,36.8 L98.0,36.8 L99.0,37.1 L100.0,37.2 L101.0,37.6 L102.0,38.0 L103.0,37.9 L104.0,38.3 L105.0,38.4 L106.0,38.7 L107.0,38.7 L108.0,39.1 L109.0,39.5 L110.0,40.0 L111.0,40.5 L112.0,40.4 L113.0,40.7 L114.0,41.3 L115.0,41.0 L116.0,41.4 L117.0,41.4 L118.0,41.4 L119.0,40.7 L120.0,39.9 L121.0,39.1 L122.0,38.3 L123.0,37.9 L124.0,36.8 L125.0,35.9 L126.0,35.1 L127.0,34.2 L128.0,33.3 L129.0,32.5 L130.0,32.1 L131.0,31.5 L132.0,31.3 L133.0,30.8 L134.0,30.5 L135.0,30.5 L136.0,30.4 L137.0,30.7 L138.0,30.6 L139.0,30.8 L140.0,30.6 L141.0,31.0 L142.0,30.7 L143.0,30.7 L144.0,31.0 L145.0,30.8 L146.0,30.7 L147.0,30.6 L148.0,29.6 L149.0,29.2 L150.0,29.0 L151.0,28.8 L152.0,28.6 L153.0,28.6 L154.0,28.8 L155.0,28.9 L156.0,28.7 L157.0,29.0 L158.0,29.1 L159.0,29.0 L160.0,29.4 L161.0,29.3 L162.0,29.7 L163.0,29.6 L164.0,29.6 L165.0,29.6 L166.0,29.7 L167.0,29.4 L168.0,29.6 L169.0,29.9 L170.0,29.5 L171.0,30.1 L172.0,29.7 L173.0,30.2 L174.0,29.9 L175.0,30.3 L176.0,30.2 L177.0,29.9 L178.0,30.4 L179.0,30.5 L180.0,30.2 L181.0,30.1 L182.0,30.2 L183.0,30.0 L184.0,30.4 L185.0,30.1 L186.0,30.2 L187.0,30.0 L188.0,30.0 L189.0,29.9 L190.0,30.3 L191.0,30.1 L192.0,30.2 L193.0,30.0 L194.0,29.9 L195.0,30.0 L196.0,29.9 L197.0,30.0 L198.0,29.9 L199.0,29.9 L200.0,29.6 L201.0,29.7 L202.0,30.1 L203.0,29.7 L204.0,29.6 L205.0,29.8 L206.0,29.9 L207.0,29.4 L208.0,29.5 L209.0,29.4 L210.0,29.2 L211.0,29.6 L212.0,29.4 L213.0,29.4 L214.0,29.2 L215.0,29.3 L216.0,29.1 L217.0,29.1 L218.0,28.9 L219.0,28.8 L220.0,29.2 L221.0,28.9 L222.0,28.9 L223.0,28.8 L224.0,28.7 L225.0,28.6 L226.0,28.8 L227.0,28.6 L228.0,28.5 L229.0,28.5 L230.0,28.6 L231.0,28.5 L232.0,28.4 L233.0,28.1 L234.0,27.9 L235.0,28.3 L236.0,28.2 L237.0,27.9 L238.0,28.0 L239.0,28.0 L240.0,27.9 L241.0,27.8 L242.0,27.5 L243.0,27.8 L244.0,27.2 L245.0,27.5" fill="none" stroke="#6ad86a" stroke-width="0.9" stroke-linejoin="round" />
<path d="M44.0,49.4 L45.0,50.4 L46.0,51.3 L47.0,51.8 L48.0,51.7 L49.0,52.0 L50.0,52.6 L51.0,52.2 L52.0,51.9 L53.0,51.1 L54.0,49.6 L55.0,48.4 L56.0,47.9 L57.0,47.3 L58.0,46.9 L59.0,46.7 L60.0,46.3 L61.0,46.0 L62.0,46.1 L63.0,45.8 L64.0,45.7 L65.0,46.2 L66.0,46.2 L67.0,46.5 L68.0,46.4 L69.0,46.5 L70.0,46.5 L71.0,46.5 L72.0,46.5 L73.0,46.2 L74.0,46.1 L75.0,45.8 L76.0,45.8 L77.0,45.0 L78.0,45.1 L79.0,44.8 L80.0,44.7 L81.0,44.5 L82.0,44.8 L83.0,45.3 L84.0,45.4 L85.0,45.7 L86.0,45.9 L87.0,46.2 L88.0,45.9 L89.0,45.4 L90.0,45.5 L91.0,45.0 L92.0,44.5 L93.0,44.7 L94.0,44.7 L95.0,44.1 L96.0,43.4 L97.0,42.9 L98.0,42.7 L99.0,41.8 L100.0,40.5 L101.0,39.5 L102.0,39.6 L103.0,40.0 L104.0,40.2 L105.0,40.2 L106.0,39.5 L107.0,38.5 L108.0,36.9 L109.0,36.5 L110.0,35.9 L111.0,35.9 L112.0,35.8 L113.0,35.5 L114.0,35.9 L115.0,35.7 L116.0,35.3 L117.0,35.4 L118.0,35.2 L119.0,34.6 L120.0,35.0 L121.0,35.2 L122.0,36.0 L123.0,36.7 L124.0,37.5 L125.0,37.5 L126.0,37.3 L127.0,36.5 L128.0,35.6 L129.0,35.1 L130.0,34.0 L131.0,33.3 L132.0,32.2 L133.0,32.1 L134.0,31.7 L135.0,31.7 L136.0,31.7 L137.0,31.7 L138.0,31.9 L139.0,31.9 L140.0,32.1 L141.0,32.3 L142.0,32.7 L143.0,32.7 L144.0,32.7 L145.0,32.8 L146.0,32.9 L147.0,33.4 L148.0,33.3 L149.0,33.4 L150.0,33.4 L151.0,33.4 L152.0,33.7 L153.0,34.1 L154.0,34.0 L155.0,34.2 L156.0,34.4 L157.0,34.7 L158.0,34.5 L159.0,35.0 L160.0,35.0 L161.0,35.4 L162.0,35.1 L163.0,35.4 L164.0,35.6 L165.0,35.2 L166.0,35.1 L167.0,35.3 L168.0,35.2 L169.0,35.0 L170.0,35.2 L171.0,35.4 L172.0,35.0 L173.0,34.9 L174.0,34.7 L175.0,34.9 L176.0,34.6 L177.0,34.6 L178.0,35.0 L179.0,34.5 L180.0,34.9 L181.0,34.9 L182.0,34.7 L183.0,34.7 L184.0,35.0 L185.0,34.6 L186.0,34.5 L187.0,34.4 L188.0,34.7 L189.0,35.0 L190.0,34.9 L191.0,34.6 L192.0,34.7 L193.0,34.8 L194.0,35.0 L195.0,35.0 L196.0,35.2 L197.0,35.3 L198.0,35.2 L199.0,35.4 L200.0,35.5 L201.0,35.5 L202.0,35.7 L203.0,36.0 L204.0,35.8 L205.0,35.8 L206.0,35.5 L207.0,36.0 L208.0,35.6 L209.0,35.7 L210.0,36.1 L211.0,36.1 L212.0,36.0 L213.0,35.7 L214.0,35.9 L215.0,35.9 L216.0,36.1 L217.0,36.4 L218.0,36.0 L219.0,35.8 L220.0,35.7 L221.0,35.8 L222.0,35.8 L223.0,35.6 L224.0,35.8 L225.0,35.5 L226.0,35.9 L227.0,35.8 L228.0,35.8 L229.0,35.5 L230.0,35.6 L231.0,35.4 L232.0,35.3 L233.0,35.3 L234.0,35.0 L235.0,34.9 L236.0,35.3 L237.0,35.0 L238.0,35.0 L239.0,35.0 L240.0,34.4 L241.0,34.5 L242.0,34.6 L243.0,34.5 L244.0,34.2 L245.0,34.4" fill="none" stroke="#d06060" stroke-width="0.9" stroke-linejoin="round" />
<path d="M44.0,46.0 L45.0,46.4 L46.0,47.0 L47.0,48.0 L48.0,48.6 L49.0,48.8 L50.0,50.2 L51.0,51.0 L52.0,51.4 L53.0,50.5 L54.0,49.4 L55.0,48.0 L56.0,47.6 L57.0,46.7 L58.0,47.1 L59.0,47.0 L60.0,47.6 L61.0,47.7 L62.0,48.3 L63.0,48.7 L64.0,48.4 L65.0,48.7 L66.0,48.5 L67.0,48.2 L68.0,48.2 L69.0,48.1 L70.0,48.0 L71.0,47.7 L72.0,47.3 L73.0,46.9 L74.0,46.3 L75.0,45.7 L76.0,45.4 L77.0,45.1 L78.0,44.3 L79.0,44.3 L80.0,44.0 L81.0,44.0 L82.0,44.4 L83.0,44.5 L84.0,45.1 L85.0,45.0 L86.0,45.4 L87.0,45.4 L88.0,45.2 L89.0,45.2 L90.0,44.6 L91.0,44.3 L92.0,43.6 L93.0,42.8 L94.0,42.3 L95.0,41.3 L96.0,40.3 L97.0,39.0 L98.0,38.5 L99.0,37.7 L100.0,37.6 L101.0,36.8 L102.0,36.1 L103.0,35.7 L104.0,35.1 L105.0,34.0 L106.0,33.6 L107.0,33.2 L108.0,32.7 L109.0,32.5 L110.0,31.7 L111.0,31.1 L112.0,30.7 L113.0,29.9 L114.0,29.7 L115.0,29.1 L116.0,28.8 L117.0,28.5 L118.0,28.9 L119.0,28.3 L120.0,28.0 L121.0,27.5 L122.0,26.8 L123.0,26.0 L124.0,25.3 L125.0,23.7 L126.0,22.1 L127.0,20.7 L128.0,18.7 L129.0,17.0 L130.0,15.3 L131.0,13.5 L132.0,12.3 L133.0,11.9 L134.0,11.8 L135.0,10.9 L136.0,11.5 L137.0,11.2 L138.0,11.6 L139.0,11.2 L140.0,11.4 L141.0,11.2 L142.0,11.3 L143.0,11.7 L144.0,11.6 L145.0,11.4 L146.0,11.4 L147.0,11.2 L148.0,11.5 L149.0,11.6 L150.0,11.6 L151.0,11.6 L152.0,11.5 L153.0,11.7 L154.0,11.8 L155.0,12.1 L156.0,12.2 L157.0,11.9 L158.0,11.8 L159.0,12.0 L160.0,11.9 L161.0,12.0 L162.0,12.1 L163.0,11.9 L164.0,12.2 L165.0,12.1 L166.0,12.2 L167.0,12.1 L168.0,12.0 L169.0,12.0 L170.0,12.1 L171.0,12.1 L172.0,12.2 L173.0,12.2 L174.0,11.9 L175.0,12.2 L176.0,11.9 L177.0,12.1 L178.0,12.1 L179.0,11.8 L180.0,12.2 L181.0,12.2 L182.0,12.2 L183.0,12.1 L184.0,12.2 L185.0,12.0 L186.0,12.2 L187.0,12.1 L188.0,12.3 L189.0,12.0 L190.0,12.3 L191.0,12.3 L192.0,12.2 L193.0,12.2 L194.0,12.4 L195.0,12.0 L196.0,12.4 L197.0,12.4 L198.0,12.5 L199.0,12.6 L200.0,12.6 L201.0,12.8 L202.0,13.2 L203.0,13.3 L204.0,13.5 L205.0,13.4 L206.0,14.0 L207.0,14.3 L208.0,14.5 L209.0,14.5 L210.0,14.4 L211.0,15.0 L212.0,15.0 L213.0,14.7 L214.0,15.4 L215.0,15.3 L216.0,15.5 L217.0,15.8 L218.0,16.3 L219.0,16.2 L220.0,16.5 L221.0,16.9 L222.0,17.0 L223.0,16.8 L224.0,16.8 L225.0,16.7 L226.0,16.8 L227.0,17.0 L228.0,17.0 L229.0,16.9 L230.0,17.1 L231.0,16.8 L232.0,16.9 L233.0,17.0 L234.0,17.0 L235.0,17.0 L236.0,16.8 L237.0,16.6 L238.0,16.5 L239.0,16.1 L240.0,15.7 L241.0,15.9 L242.0,15.5 L243.0,15.2 L244.0,14.5 L245.0,14.4" fill="none" stroke="#6262c8" stroke-width="0.9" stroke-linejoin="round" />
<path d="M44.0,27.1 L45.0,26.5 L46.0,25.7 L47.0,25.4 L48.0,24.8 L49.0,23.8 L50.0,22.8 L51.0,22.4 L52.0,23.0 L53.0,23.6 L54.0,25.5 L55.0,27.0 L56.0,28.5 L57.0,29.4 L58.0,29.0 L59.0,28.1 L60.0,27.6 L61.0,27.3 L62.0,26.7 L63.0,26.5 L64.0,26.7 L65.0,27.0 L66.0,26.8 L67.0,27.0 L68.0,27.3 L69.0,27.7 L70.0,27.6 L71.0,27.9 L72.0,27.5 L73.0,27.7 L74.0,27.8 L75.0,27.9 L76.0,28.0 L77.0,27.5 L78.0,27.5 L79.0,27.7 L80.0,27.5 L81.0,27.3 L82.0,27.9 L83.0,28.0 L84.0,28.2 L85.0,28.2 L86.0,28.6 L87.0,28.5 L88.0,28.7 L89.0,28.3 L90.0,28.3 L91.0,28.6 L92.0,29.2 L93.0,30.7 L94.0,31.9 L95.0,32.3 L96.0,32.8 L97.0,32.9 L98.0,33.0 L99.0,32.2 L100.0,31.6 L101.0,31.4 L102.0,31.3 L103.0,31.1 L104.0,30.6 L105.0,30.4 L106.0,30.5 L107.0,29.9 L108.0,29.5 L109.0,29.4 L110.0,29.1 L111.0,28.3 L112.0,27.7 L113.0,27.2 L114.0,27.3 L115.0,26.9 L116.0,26.9 L117.0,26.9 L118.0,26.9 L119.0,26.6 L120.0,26.6 L121.0,26.0 L122.0,25.5 L123.0,24.7 L124.0,24.2 L125.0,22.9 L126.0,21.5 L127.0,20.0 L128.0,18.0 L129.0,15.9 L130.0,13.5 L131.0,11.7 L132.0,10.3 L133.0,9.8 L134.0,8.6 L135.0,8.2 L136.0,8.2 L137.0,8.4 L138.0,8.0 L139.0,7.9 L140.0,8.2 L141.0,8.1 L142.0,8.2 L143.0,8.1 L144.0,8.6 L145.0,8.7 L146.0,8.6 L147.0,8.8 L148.0,8.4 L149.0,9.0 L150.0,9.0 L151.0,9.2 L152.0,9.3 L153.0,9.2 L154.0,9.0 L155.0,9.5 L156.0,9.3 L157.0,9.4 L158.0,9.4 L159.0,9.5 L160.0,9.2 L161.0,9.8 L162.0,9.7 L163.0,9.8 L164.0,10.0 L165.0,9.7 L166.0,9.3 L167.0,9.5 L168.0,9.5 L169.0,9.6 L170.0,9.7 L171.0,9.4 L172.0,9.8 L173.0,9.5 L174.0,9.8 L175.0,9.8 L176.0,9.8 L177.0,9.8 L178.0,9.8 L179.0,9.8 L180.0,9.6 L181.0,9.9 L182.0,10.3 L183.0,10.4 L184.0,10.3 L185.0,10.2 L186.0,10.0 L187.0,10.4 L188.0,10.1 L189.0,10.2 L190.0,10.2 L191.0,10.3 L192.0,10.2 L193.0,10.3 L194.0,10.2 L195.0,10.3 L196.0,10.8 L197.0,10.4 L198.0,10.4 L199.0,10.6 L200.0,10.7 L201.0,10.3 L202.0,10.5 L203.0,10.8 L204.0,10.7 L205.0,10.7 L206.0,11.0 L207.0,10.7 L208.0,10.8 L209.0,10.8 L210.0,11.3 L211.0,10.9 L212.0,11.5 L213.0,11.9 L214.0,12.4 L215.0,12.6 L216.0,12.9 L217.0,12.6 L218.0,13.2 L219.0,13.2 L220.0,13.3 L221.0,13.6 L222.0,13.4 L223.0,13.2 L224.0,13.5 L225.0,13.3 L226.0,13.5 L227.0,13.7 L228.0,13.7 L229.0,13.9 L230.0,13.6 L231.0,13.3 L232.0,13.5 L233.0,13.4 L234.0,13.4 L235.0,13.6 L236.0,13.3 L237.0,12.8 L238.0,13.1 L239.0,12.7 L240.0,12.6 L241.0,12.3 L242.0,12.1 L243.0,11.8 L244.0,11.7 L245.0,11.2" fill="none" stroke="#555555" stroke-width="0.9" stroke-linejoin="round" />
<text transform="translate(47.00,20.20) scale(1.0,1)" font-size="8.6" text-anchor="start" fill="#222" stroke="#222" stroke-width="0.2" >a</text>
<text transform="translate(42.00,18.47) scale(0.835,1)" font-size="9.0" text-anchor="end" fill="#262626" stroke="#262626" stroke-width="0.2" >40</text>
<text transform="translate(42.00,30.87) scale(0.835,1)" font-size="9.0" text-anchor="end" fill="#262626" stroke="#262626" stroke-width="0.2" >20</text>
<text transform="translate(42.00,43.27) scale(0.835,1)" font-size="9.0" text-anchor="end" fill="#262626" stroke="#262626" stroke-width="0.2" >0</text>
<line x1="44.0" y1="64.60" x2="245.8" y2="64.60" stroke="#e2e2e2" stroke-width="0.7"/>
<line x1="44.0" y1="83.30" x2="245.8" y2="83.30" stroke="#e2e2e2" stroke-width="0.7"/>
<line x1="94.45" y1="54.4" x2="94.45" y2="101.8" stroke="#e2e2e2" stroke-width="0.7"/>
<line x1="144.90" y1="54.4" x2="144.90" y2="101.8" stroke="#e2e2e2" stroke-width="0.7"/>
<line x1="195.35" y1="54.4" x2="195.35" y2="101.8" stroke="#e2e2e2" stroke-width="0.7"/>
<path d="M44.0,64.60h2.2M245.8,64.60h-2.2M44.0,83.30h2.2M245.8,83.30h-2.2M44.0,97.33h1.3M245.8,97.33h-1.3M44.0,92.65h1.3M245.8,92.65h-1.3M44.0,87.97h1.3M245.8,87.97h-1.3M44.0,78.62h1.3M245.8,78.62h-1.3M44.0,73.95h1.3M245.8,73.95h-1.3M44.0,69.28h1.3M245.8,69.28h-1.3M44.0,59.92h1.3M245.8,59.92h-1.3M94.45,54.4v2.2M94.45,101.8v-2.2M144.90,54.4v2.2M144.90,101.8v-2.2M195.35,54.4v2.2M195.35,101.8v-2.2M54.09,54.4v1.3M54.09,101.8v-1.3M64.18,54.4v1.3M64.18,101.8v-1.3M74.27,54.4v1.3M74.27,101.8v-1.3M84.36,54.4v1.3M84.36,101.8v-1.3M104.54,54.4v1.3M104.54,101.8v-1.3M114.63,54.4v1.3M114.63,101.8v-1.3M124.72,54.4v1.3M124.72,101.8v-1.3M134.81,54.4v1.3M134.81,101.8v-1.3M154.99,54.4v1.3M154.99,101.8v-1.3M165.08,54.4v1.3M165.08,101.8v-1.3M175.17,54.4v1.3M175.17,101.8v-1.3M185.26,54.4v1.3M185.26,101.8v-1.3M205.44,54.4v1.3M205.44,101.8v-1.3M215.53,54.4v1.3M215.53,101.8v-1.3M225.62,54.4v1.3M225.62,101.8v-1.3M235.71,54.4v1.3M235.71,101.8v-1.3" stroke="#555" stroke-width="0.6" fill="none"/>
<path d="M44.0,62.4 L45.0,63.1 L46.0,63.4 L47.0,64.3 L48.0,64.7 L49.0,65.1 L50.0,64.8 L51.0,65.5 L52.0,65.1 L53.0,64.8 L54.0,64.7 L55.0,65.0 L56.0,65.1 L57.0,65.1 L58.0,65.6 L59.0,65.7 L60.0,66.3 L61.0,66.3 L62.0,66.8 L63.0,67.4 L64.0,68.1 L65.0,67.6 L66.0,68.0 L67.0,68.2 L68.0,68.7 L69.0,67.9 L70.0,67.4 L71.0,66.8 L72.0,66.4 L73.0,66.6 L74.0,67.1 L75.0,67.1 L76.0,67.8 L77.0,68.9 L78.0,70.0 L79.0,70.9 L80.0,71.2 L81.0,71.9 L82.0,72.0 L83.0,71.3 L84.0,70.3 L85.0,69.5 L86.0,69.3 L87.0,68.5 L88.0,67.8 L89.0,67.4 L90.0,67.5 L91.0,66.8 L92.0,66.6 L93.0,65.8 L94.0,65.8 L95.0,65.1 L96.0,65.0 L97.0,65.6 L98.0,65.1 L99.0,64.7 L100.0,64.8 L101.0,65.7 L102.0,67.2 L103.0,68.2 L104.0,69.2 L105.0,71.4 L106.0,73.3 L107.0,74.7 L108.0,75.6 L109.0,75.4 L110.0,75.4 L111.0,74.9 L112.0,75.3 L113.0,75.4 L114.0,74.6 L115.0,73.8 L116.0,73.1 L117.0,73.1 L118.0,72.4 L119.0,72.7 L120.0,73.1 L121.0,73.4 L122.0,73.4 L123.0,74.3 L124.0,75.4 L125.0,77.1 L126.0,78.9 L127.0,81.5 L128.0,84.6 L129.0,87.6 L130.0,89.9 L131.0,92.2 L132.0,94.2 L133.0,95.7 L134.0,96.8 L135.0,97.8 L136.0,98.5 L137.0,99.0 L138.0,99.3 L139.0,99.6 L140.0,99.8 L141.0,100.0 L142.0,100.1 L143.0,100.2 L144.0,100.3 L145.0,100.4 L146.0,100.4 L147.0,100.4 L148.0,100.4 L149.0,100.4 L150.0,100.4 L151.0,100.4 L152.0,100.5 L153.0,100.5 L154.0,100.5 L155.0,100.5 L156.0,100.5 L157.0,100.5 L158.0,100.5 L159.0,100.5 L160.0,100.5 L161.0,100.5 L162.0,100.5 L163.0,100.5 L164.0,100.5 L165.0,100.5 L166.0,100.5 L167.0,100.5 L168.0,100.5 L169.0,100.5 L170.0,100.6 L171.0,100.6 L172.0,100.6 L173.0,100.6 L174.0,100.6 L175.0,100.6 L176.0,100.6 L177.0,100.6 L178.0,100.6 L179.0,100.6 L180.0,100.6 L181.0,100.6 L182.0,100.6 L183.0,100.6 L184.0,100.6 L185.0,100.6 L186.0,100.6 L187.0,100.6 L188.0,100.6 L189.0,100.6 L190.0,100.6 L191.0,100.6 L192.0,100.6 L193.0,100.6 L194.0,100.6 L195.0,100.6 L196.0,100.6 L197.0,100.6 L198.0,100.6 L199.0,100.6 L200.0,100.6 L201.0,100.6 L202.0,100.6 L203.0,100.6 L204.0,100.6 L205.0,100.6 L206.0,100.6 L207.0,100.6 L208.0,100.6 L209.0,100.6 L210.0,100.6 L211.0,100.6 L212.0,100.6 L213.0,100.6 L214.0,100.6 L215.0,100.6 L216.0,100.6 L217.0,100.6 L218.0,100.6 L219.0,100.6 L220.0,100.6 L221.0,100.6 L222.0,100.6 L223.0,100.6 L224.0,100.6 L225.0,100.6 L226.0,100.6 L227.0,100.6 L228.0,100.6 L229.0,100.6 L230.0,100.6 L231.0,100.6 L232.0,100.6 L233.0,100.6 L234.0,100.6 L235.0,100.6 L236.0,100.6 L237.0,100.6 L238.0,100.6 L239.0,100.6 L240.0,100.6 L241.0,100.6 L242.0,100.6 L243.0,100.6 L244.0,100.6 L245.0,100.6" fill="none" stroke="#666" stroke-width="0.9" stroke-linejoin="round" />
<text transform="translate(47.00,67.30) scale(1.0,1)" font-size="8.6" text-anchor="start" fill="#222" stroke="#222" stroke-width="0.2" >b</text>
<text transform="translate(42.00,67.57) scale(0.835,1)" font-size="9.0" text-anchor="end" fill="#262626" stroke="#262626" stroke-width="0.2" >40</text>
<text transform="translate(42.00,86.27) scale(0.835,1)" font-size="9.0" text-anchor="end" fill="#262626" stroke="#262626" stroke-width="0.2" >20</text>
<line x1="44.0" y1="125.80" x2="245.8" y2="125.80" stroke="#e2e2e2" stroke-width="0.7"/>
<line x1="94.45" y1="101.8" x2="94.45" y2="149.2" stroke="#e2e2e2" stroke-width="0.7"/>
<line x1="144.90" y1="101.8" x2="144.90" y2="149.2" stroke="#e2e2e2" stroke-width="0.7"/>
<line x1="195.35" y1="101.8" x2="195.35" y2="149.2" stroke="#e2e2e2" stroke-width="0.7"/>
<path d="M44.0,125.80h2.2M245.8,125.80h-2.2M44.0,143.20h1.3M245.8,143.20h-1.3M44.0,137.40h1.3M245.8,137.40h-1.3M44.0,131.60h1.3M245.8,131.60h-1.3M44.0,120.00h1.3M245.8,120.00h-1.3M44.0,114.20h1.3M245.8,114.20h-1.3M44.0,108.40h1.3M245.8,108.40h-1.3M94.45,101.8v2.2M94.45,149.2v-2.2M144.90,101.8v2.2M144.90,149.2v-2.2M195.35,101.8v2.2M195.35,149.2v-2.2M54.09,101.8v1.3M54.09,149.2v-1.3M64.18,101.8v1.3M64.18,149.2v-1.3M74.27,101.8v1.3M74.27,149.2v-1.3M84.36,101.8v1.3M84.36,149.2v-1.3M104.54,101.8v1.3M104.54,149.2v-1.3M114.63,101.8v1.3M114.63,149.2v-1.3M124.72,101.8v1.3M124.72,149.2v-1.3M134.81,101.8v1.3M134.81,149.2v-1.3M154.99,101.8v1.3M154.99,149.2v-1.3M165.08,101.8v1.3M165.08,149.2v-1.3M175.17,101.8v1.3M175.17,149.2v-1.3M185.26,101.8v1.3M185.26,149.2v-1.3M205.44,101.8v1.3M205.44,149.2v-1.3M215.53,101.8v1.3M215.53,149.2v-1.3M225.62,101.8v1.3M225.62,149.2v-1.3M235.71,101.8v1.3M235.71,149.2v-1.3" stroke="#555" stroke-width="0.6" fill="none"/>
<path d="M44.0,145.2 L45.0,145.2 L46.0,145.2 L47.0,145.2 L48.0,145.3 L49.0,145.3 L50.0,145.3 L51.0,145.3 L52.0,145.3 L53.0,145.3 L54.0,145.3 L55.0,145.3 L56.0,145.4 L57.0,145.4 L58.0,145.4 L59.0,145.4 L60.0,145.4 L61.0,145.4 L62.0,145.4 L63.0,145.4 L64.0,145.4 L65.0,145.4 L66.0,145.4 L67.0,145.4 L68.0,145.4 L69.0,145.4 L70.0,145.5 L71.0,145.5 L72.0,145.5 L73.0,145.5 L74.0,145.5 L75.0,145.5 L76.0,145.5 L77.0,145.5 L78.0,145.5 L79.0,145.5 L80.0,145.5 L81.0,145.5 L82.0,145.5 L83.0,145.5 L84.0,145.5 L85.0,145.5 L86.0,145.5 L87.0,145.5 L88.0,145.5 L89.0,145.5 L90.0,145.5 L91.0,145.5 L92.0,145.5 L93.0,145.5 L94.0,145.5 L95.0,145.5 L96.0,145.5 L97.0,145.5 L98.0,145.5 L99.0,145.5 L100.0,145.5 L101.0,145.5 L102.0,145.4 L103.0,145.3 L104.0,145.2 L105.0,145.0 L106.0,144.9 L107.0,144.8 L108.0,144.7 L109.0,144.6 L110.0,144.5 L111.0,144.4 L112.0,144.3 L113.0,144.2 L114.0,144.1 L115.0,143.9 L116.0,143.8 L117.0,143.6 L118.0,143.5 L119.0,143.3 L120.0,143.0 L121.0,142.6 L122.0,142.1 L123.0,141.3 L124.0,140.5 L125.0,139.3 L126.0,137.7 L127.0,135.7 L128.0,133.8 L129.0,131.9 L130.0,130.3 L131.0,128.9 L132.0,127.5 L133.0,126.1 L134.0,124.8 L135.0,123.5 L136.0,122.2 L137.0,120.9 L138.0,119.6 L139.0,118.3 L140.0,117.0 L141.0,115.7 L142.0,115.4 L143.0,114.1 L144.0,113.3 L145.0,112.3 L146.0,112.1 L147.0,111.1 L148.0,110.9 L149.0,110.9 L150.0,110.2 L151.0,109.9 L152.0,109.5 L153.0,109.1 L154.0,108.7 L155.0,108.3 L156.0,108.5 L157.0,107.4 L158.0,108.2 L159.0,107.4 L160.0,106.8 L161.0,106.7 L162.0,106.5 L163.0,106.7 L164.0,106.2 L165.0,106.9 L166.0,106.0 L167.0,105.3 L168.0,106.0 L169.0,105.5 L170.0,106.4 L171.0,107.0 L172.0,107.0 L173.0,106.2 L174.0,106.7 L175.0,108.0 L176.0,107.5 L177.0,107.6 L178.0,108.2 L179.0,109.0 L180.0,108.6 L181.0,108.2 L182.0,108.5 L183.0,108.8 L184.0,108.4 L185.0,108.3 L186.0,109.0 L187.0,108.7 L188.0,109.3 L189.0,109.5 L190.0,110.7 L191.0,109.4 L192.0,110.0 L193.0,110.2 L194.0,110.6 L195.0,111.1 L196.0,110.6 L197.0,110.6 L198.0,110.3 L199.0,110.4 L200.0,110.7 L201.0,109.9 L202.0,108.8 L203.0,108.4 L204.0,108.0 L205.0,107.8 L206.0,106.9 L207.0,106.7 L208.0,105.7 L209.0,105.6 L210.0,106.6 L211.0,104.6 L212.0,105.2 L213.0,105.3 L214.0,104.9 L215.0,104.7 L216.0,105.1 L217.0,105.1 L218.0,105.1 L219.0,104.3 L220.0,105.0 L221.0,104.7 L222.0,104.9 L223.0,105.2 L224.0,105.4 L225.0,105.5 L226.0,104.9 L227.0,105.5 L228.0,105.5 L229.0,105.4 L230.0,105.3 L231.0,104.4 L232.0,104.1 L233.0,104.4 L234.0,103.1 L235.0,103.6 L236.0,103.1 L237.0,103.1 L238.0,102.4 L239.0,102.9 L240.0,103.5 L241.0,104.4 L242.0,105.0 L243.0,105.2 L244.0,105.9 L245.0,106.4" fill="none" stroke="#555555" stroke-width="0.8" stroke-linejoin="round" />
<path d="M44.0,145.4 L45.0,145.4 L46.0,145.4 L47.0,145.4 L48.0,145.5 L49.0,145.5 L50.0,145.5 L51.0,145.5 L52.0,145.5 L53.0,145.5 L54.0,145.5 L55.0,145.5 L56.0,145.6 L57.0,145.6 L58.0,145.6 L59.0,145.6 L60.0,145.6 L61.0,145.6 L62.0,145.6 L63.0,145.6 L64.0,145.6 L65.0,145.6 L66.0,145.6 L67.0,145.6 L68.0,145.6 L69.0,145.6 L70.0,145.7 L71.0,145.7 L72.0,145.7 L73.0,145.7 L74.0,145.7 L75.0,145.7 L76.0,145.7 L77.0,145.7 L78.0,145.7 L79.0,145.7 L80.0,145.7 L81.0,145.7 L82.0,145.7 L83.0,145.7 L84.0,145.7 L85.0,145.7 L86.0,145.7 L87.0,145.7 L88.0,145.7 L89.0,145.7 L90.0,145.7 L91.0,145.7 L92.0,145.7 L93.0,145.7 L94.0,145.7 L95.0,145.7 L96.0,145.7 L97.0,145.7 L98.0,145.7 L99.0,145.7 L100.0,145.7 L101.0,145.7 L102.0,145.6 L103.0,145.5 L104.0,145.4 L105.0,145.2 L106.0,145.1 L107.0,145.0 L108.0,144.9 L109.0,144.8 L110.0,144.7 L111.0,144.7 L112.0,144.6 L113.0,144.5 L114.0,144.4 L115.0,144.2 L116.0,144.1 L117.0,143.9 L118.0,143.7 L119.0,143.5 L120.0,143.2 L121.0,142.8 L122.0,142.3 L123.0,141.7 L124.0,141.0 L125.0,140.0 L126.0,138.8 L127.0,137.3 L128.0,135.7 L129.0,134.2 L130.0,132.8 L131.0,131.4 L132.0,130.0 L133.0,128.5 L134.0,127.2 L135.0,125.8 L136.0,124.6 L137.0,123.4 L138.0,122.3 L139.0,121.3 L140.0,120.4 L141.0,119.9 L142.0,118.8 L143.0,118.4 L144.0,116.7 L145.0,117.2 L146.0,115.8 L147.0,115.8 L148.0,115.1 L149.0,113.4 L150.0,113.9 L151.0,114.1 L152.0,114.5 L153.0,113.8 L154.0,113.6 L155.0,112.7 L156.0,113.8 L157.0,113.8 L158.0,112.9 L159.0,112.6 L160.0,111.9 L161.0,112.9 L162.0,113.6 L163.0,112.7 L164.0,112.9 L165.0,112.5 L166.0,111.8 L167.0,112.8 L168.0,111.7 L169.0,112.2 L170.0,112.6 L171.0,113.0 L172.0,113.0 L173.0,113.3 L174.0,113.0 L175.0,113.0 L176.0,113.9 L177.0,113.8 L178.0,113.7 L179.0,113.9 L180.0,114.4 L181.0,113.9 L182.0,114.2 L183.0,114.2 L184.0,115.1 L185.0,115.3 L186.0,116.1 L187.0,114.6 L188.0,115.0 L189.0,115.9 L190.0,115.5 L191.0,115.6 L192.0,116.7 L193.0,116.1 L194.0,116.1 L195.0,116.4 L196.0,117.6 L197.0,117.9 L198.0,117.4 L199.0,117.7 L200.0,118.2 L201.0,117.7 L202.0,116.3 L203.0,116.0 L204.0,115.1 L205.0,113.4 L206.0,113.5 L207.0,113.2 L208.0,112.2 L209.0,111.0 L210.0,111.3 L211.0,111.3 L212.0,111.2 L213.0,109.2 L214.0,111.1 L215.0,109.2 L216.0,110.0 L217.0,110.0 L218.0,109.7 L219.0,109.2 L220.0,108.5 L221.0,109.2 L222.0,108.5 L223.0,107.6 L224.0,109.9 L225.0,108.9 L226.0,109.4 L227.0,108.2 L228.0,109.3 L229.0,109.4 L230.0,109.4 L231.0,108.7 L232.0,108.2 L233.0,108.7 L234.0,107.9 L235.0,108.2 L236.0,109.1 L237.0,108.7 L238.0,109.2 L239.0,109.4 L240.0,110.6 L241.0,110.8 L242.0,110.7 L243.0,111.9 L244.0,111.7 L245.0,112.7" fill="none" stroke="#c84040" stroke-width="0.8" stroke-linejoin="round" />
<text transform="translate(47.00,114.70) scale(1.0,1)" font-size="8.6" text-anchor="start" fill="#222" stroke="#222" stroke-width="0.2" >c</text>
<text transform="translate(42.00,106.17) scale(0.835,1)" font-size="9.0" text-anchor="end" fill="#262626" stroke="#262626" stroke-width="0.2" >4000</text>
<text transform="translate(42.00,128.77) scale(0.835,1)" font-size="9.0" text-anchor="end" fill="#262626" stroke="#262626" stroke-width="0.2" >2000</text>
<line x1="44.0" y1="173.00" x2="245.8" y2="173.00" stroke="#e2e2e2" stroke-width="0.7"/>
<line x1="94.45" y1="149.2" x2="94.45" y2="196.4" stroke="#e2e2e2" stroke-width="0.7"/>
<line x1="144.90" y1="149.2" x2="144.90" y2="196.4" stroke="#e2e2e2" stroke-width="0.7"/>
<line x1="195.35" y1="149.2" x2="195.35" y2="196.4" stroke="#e2e2e2" stroke-width="0.7"/>
<path d="M44.0,173.00h2.2M245.8,173.00h-2.2M44.0,190.62h1.3M245.8,190.62h-1.3M44.0,184.75h1.3M245.8,184.75h-1.3M44.0,178.88h1.3M245.8,178.88h-1.3M44.0,167.12h1.3M245.8,167.12h-1.3M44.0,161.25h1.3M245.8,161.25h-1.3M44.0,155.38h1.3M245.8,155.38h-1.3M94.45,149.2v2.2M94.45,196.4v-2.2M144.90,149.2v2.2M144.90,196.4v-2.2M195.35,149.2v2.2M195.35,196.4v-2.2M54.09,149.2v1.3M54.09,196.4v-1.3M64.18,149.2v1.3M64.18,196.4v-1.3M74.27,149.2v1.3M74.27,196.4v-1.3M84.36,149.2v1.3M84.36,196.4v-1.3M104.54,149.2v1.3M104.54,196.4v-1.3M114.63,149.2v1.3M114.63,196.4v-1.3M124.72,149.2v1.3M124.72,196.4v-1.3M134.81,149.2v1.3M134.81,196.4v-1.3M154.99,149.2v1.3M154.99,196.4v-1.3M165.08,149.2v1.3M165.08,196.4v-1.3M175.17,149.2v1.3M175.17,196.4v-1.3M185.26,149.2v1.3M185.26,196.4v-1.3M205.44,149.2v1.3M205.44,196.4v-1.3M215.53,149.2v1.3M215.53,196.4v-1.3M225.62,149.2v1.3M225.62,196.4v-1.3M235.71,149.2v1.3M235.71,196.4v-1.3" stroke="#555" stroke-width="0.6" fill="none"/>
<path d="M44.0,190.5 L45.0,190.2 L46.0,190.4 L47.0,190.3 L48.0,190.5 L49.0,190.7 L50.0,190.4 L51.0,190.6 L52.0,190.4 L53.0,190.4 L54.0,190.4 L55.0,190.9 L56.0,191.0 L57.0,190.8 L58.0,190.6 L59.0,190.9 L60.0,190.8 L61.0,191.0 L62.0,190.9 L63.0,191.0 L64.0,191.1 L65.0,190.9 L66.0,191.0 L67.0,190.9 L68.0,191.1 L69.0,191.1 L70.0,191.3 L71.0,191.3 L72.0,191.5 L73.0,191.6 L74.0,191.4 L75.0,191.6 L76.0,191.6 L77.0,191.9 L78.0,192.1 L79.0,192.0 L80.0,191.8 L81.0,192.1 L82.0,191.7 L83.0,192.1 L84.0,191.8 L85.0,191.4 L86.0,192.2 L87.0,192.0 L88.0,191.6 L89.0,191.8 L90.0,191.7 L91.0,191.7 L92.0,191.4 L93.0,191.4 L94.0,191.6 L95.0,191.5 L96.0,191.5 L97.0,191.3 L98.0,191.6 L99.0,191.0 L100.0,191.1 L101.0,190.7 L102.0,190.6 L103.0,190.8 L104.0,190.3 L105.0,190.3 L106.0,190.1 L107.0,189.8 L108.0,189.7 L109.0,189.5 L110.0,189.4 L111.0,189.4 L112.0,189.3 L113.0,189.0 L114.0,188.9 L115.0,189.1 L116.0,189.1 L117.0,189.3 L118.0,189.7 L119.0,189.5 L120.0,189.4 L121.0,189.3 L122.0,188.8 L123.0,188.4 L124.0,187.7 L125.0,187.2 L126.0,186.4 L127.0,185.9 L128.0,185.0 L129.0,184.1 L130.0,182.9 L131.0,182.7 L132.0,181.0 L133.0,180.3 L134.0,178.7 L135.0,177.8 L136.0,175.7 L137.0,174.7 L138.0,174.4 L139.0,171.6 L140.0,171.7 L141.0,171.2 L142.0,169.9 L143.0,169.4 L144.0,169.1 L145.0,167.8 L146.0,167.9 L147.0,167.0 L148.0,166.7 L149.0,166.5 L150.0,166.4 L151.0,166.3 L152.0,166.1 L153.0,165.0 L154.0,166.3 L155.0,165.6 L156.0,165.1 L157.0,164.3 L158.0,164.2 L159.0,164.2 L160.0,163.9 L161.0,162.7 L162.0,163.6 L163.0,164.4 L164.0,162.1 L165.0,163.3 L166.0,162.9 L167.0,162.7 L168.0,163.4 L169.0,162.3 L170.0,163.0 L171.0,163.8 L172.0,163.3 L173.0,163.5 L174.0,164.0 L175.0,164.0 L176.0,165.2 L177.0,164.3 L178.0,165.3 L179.0,164.5 L180.0,165.5 L181.0,165.3 L182.0,164.2 L183.0,165.5 L184.0,165.1 L185.0,165.5 L186.0,166.5 L187.0,165.4 L188.0,165.5 L189.0,166.8 L190.0,166.3 L191.0,167.0 L192.0,166.6 L193.0,166.2 L194.0,166.7 L195.0,167.5 L196.0,167.5 L197.0,167.2 L198.0,167.4 L199.0,167.4 L200.0,167.2 L201.0,168.4 L202.0,167.3 L203.0,166.4 L204.0,166.3 L205.0,166.3 L206.0,165.7 L207.0,164.8 L208.0,164.0 L209.0,163.8 L210.0,162.5 L211.0,162.3 L212.0,162.8 L213.0,161.7 L214.0,161.6 L215.0,161.5 L216.0,160.8 L217.0,160.2 L218.0,160.9 L219.0,160.0 L220.0,159.5 L221.0,159.9 L222.0,159.7 L223.0,159.1 L224.0,159.5 L225.0,159.3 L226.0,158.4 L227.0,159.2 L228.0,159.1 L229.0,159.0 L230.0,158.5 L231.0,159.1 L232.0,159.2 L233.0,159.2 L234.0,158.7 L235.0,159.6 L236.0,158.9 L237.0,159.6 L238.0,160.6 L239.0,160.1 L240.0,160.6 L241.0,161.8 L242.0,161.6 L243.0,162.2 L244.0,163.0 L245.0,163.9" fill="none" stroke="#222222" stroke-width="0.8" stroke-linejoin="round" />
<path d="M44.0,189.7 L45.0,189.9 L46.0,189.9 L47.0,189.9 L48.0,189.9 L49.0,190.0 L50.0,190.2 L51.0,190.0 L52.0,190.2 L53.0,190.3 L54.0,190.1 L55.0,190.3 L56.0,190.5 L57.0,190.4 L58.0,190.2 L59.0,190.4 L60.0,190.3 L61.0,190.5 L62.0,190.6 L63.0,190.4 L64.0,190.5 L65.0,190.8 L66.0,190.6 L67.0,190.8 L68.0,190.6 L69.0,190.7 L70.0,190.9 L71.0,191.3 L72.0,191.0 L73.0,191.1 L74.0,191.1 L75.0,191.3 L76.0,191.4 L77.0,191.4 L78.0,191.7 L79.0,191.5 L80.0,191.7 L81.0,191.5 L82.0,191.6 L83.0,191.3 L84.0,191.5 L85.0,191.4 L86.0,191.4 L87.0,191.1 L88.0,191.5 L89.0,191.3 L90.0,191.2 L91.0,191.2 L92.0,191.2 L93.0,191.2 L94.0,190.9 L95.0,190.9 L96.0,191.0 L97.0,190.9 L98.0,190.8 L99.0,190.7 L100.0,190.5 L101.0,190.5 L102.0,190.5 L103.0,190.0 L104.0,190.1 L105.0,189.8 L106.0,189.4 L107.0,189.3 L108.0,188.8 L109.0,188.6 L110.0,188.5 L111.0,188.4 L112.0,188.3 L113.0,188.1 L114.0,188.1 L115.0,187.6 L116.0,188.0 L117.0,187.6 L118.0,187.7 L119.0,187.6 L120.0,187.4 L121.0,187.1 L122.0,186.6 L123.0,186.1 L124.0,185.4 L125.0,184.6 L126.0,183.6 L127.0,182.8 L128.0,181.9 L129.0,181.1 L130.0,179.6 L131.0,179.0 L132.0,176.6 L133.0,174.9 L134.0,173.8 L135.0,172.7 L136.0,170.8 L137.0,169.7 L138.0,168.2 L139.0,168.0 L140.0,167.7 L141.0,166.8 L142.0,167.2 L143.0,166.4 L144.0,166.2 L145.0,165.5 L146.0,165.7 L147.0,166.0 L148.0,164.9 L149.0,165.7 L150.0,165.4 L151.0,165.2 L152.0,163.9 L153.0,164.6 L154.0,164.8 L155.0,164.0 L156.0,164.1 L157.0,162.8 L158.0,164.0 L159.0,163.2 L160.0,163.8 L161.0,162.4 L162.0,163.4 L163.0,162.9 L164.0,163.2 L165.0,162.4 L166.0,162.4 L167.0,163.7 L168.0,162.3 L169.0,162.4 L170.0,162.7 L171.0,162.5 L172.0,163.7 L173.0,164.0 L174.0,163.1 L175.0,162.8 L176.0,164.2 L177.0,164.3 L178.0,164.2 L179.0,164.4 L180.0,163.5 L181.0,163.7 L182.0,163.0 L183.0,162.8 L184.0,163.6 L185.0,162.6 L186.0,163.7 L187.0,162.5 L188.0,162.0 L189.0,162.5 L190.0,162.8 L191.0,162.2 L192.0,161.5 L193.0,162.3 L194.0,162.9 L195.0,162.2 L196.0,162.2 L197.0,163.2 L198.0,163.0 L199.0,162.6 L200.0,163.0 L201.0,163.0 L202.0,163.5 L203.0,163.4 L204.0,163.7 L205.0,163.2 L206.0,161.8 L207.0,162.1 L208.0,161.8 L209.0,161.0 L210.0,160.8 L211.0,159.5 L212.0,158.6 L213.0,158.8 L214.0,157.2 L215.0,156.1 L216.0,157.0 L217.0,156.0 L218.0,155.9 L219.0,155.3 L220.0,155.1 L221.0,155.0 L222.0,155.2 L223.0,155.4 L224.0,154.1 L225.0,155.4 L226.0,154.5 L227.0,154.5 L228.0,155.2 L229.0,154.9 L230.0,154.3 L231.0,155.9 L232.0,154.8 L233.0,155.5 L234.0,155.7 L235.0,156.5 L236.0,155.9 L237.0,156.9 L238.0,156.4 L239.0,157.6 L240.0,157.2 L241.0,157.9 L242.0,159.5 L243.0,159.5 L244.0,160.1 L245.0,161.9" fill="none" stroke="#d03030" stroke-width="0.8" stroke-linejoin="round" />
<text transform="translate(47.00,162.10) scale(1.0,1)" font-size="8.6" text-anchor="start" fill="#222" stroke="#222" stroke-width="0.2" >d</text>
<text transform="translate(42.00,152.97) scale(0.835,1)" font-size="9.0" text-anchor="end" fill="#262626" stroke="#262626" stroke-width="0.2" >200</text>
<text transform="translate(42.00,175.97) scale(0.835,1)" font-size="9.0" text-anchor="end" fill="#262626" stroke="#262626" stroke-width="0.2" >100</text>
<text transform="translate(42.00,199.37) scale(0.835,1)" font-size="9.0" text-anchor="end" fill="#262626" stroke="#262626" stroke-width="0.2" >0</text>
<text transform="translate(42.00,151.67) scale(0.835,1)" font-size="9.0" text-anchor="end" fill="#262626" stroke="#262626" stroke-width="0.2" >0</text>
<line x1="44.0" y1="207.50" x2="245.8" y2="207.50" stroke="#e2e2e2" stroke-width="0.7"/>
<line x1="44.0" y1="220.60" x2="245.8" y2="220.60" stroke="#e2e2e2" stroke-width="0.7"/>
<line x1="44.0" y1="233.70" x2="245.8" y2="233.70" stroke="#e2e2e2" stroke-width="0.7"/>
<line x1="94.45" y1="196.4" x2="94.45" y2="243.8" stroke="#e2e2e2" stroke-width="0.7"/>
<line x1="144.90" y1="196.4" x2="144.90" y2="243.8" stroke="#e2e2e2" stroke-width="0.7"/>
<line x1="195.35" y1="196.4" x2="195.35" y2="243.8" stroke="#e2e2e2" stroke-width="0.7"/>
<path d="M44.0,207.50h2.2M245.8,207.50h-2.2M44.0,220.60h2.2M245.8,220.60h-2.2M44.0,233.70h2.2M245.8,233.70h-2.2M44.0,240.25h1.3M245.8,240.25h-1.3M44.0,227.15h1.3M245.8,227.15h-1.3M44.0,214.05h1.3M245.8,214.05h-1.3M44.0,200.95h1.3M245.8,200.95h-1.3M94.45,196.4v2.2M94.45,243.8v-2.2M144.90,196.4v2.2M144.90,243.8v-2.2M195.35,196.4v2.2M195.35,243.8v-2.2M54.09,196.4v1.3M54.09,243.8v-1.3M64.18,196.4v1.3M64.18,243.8v-1.3M74.27,196.4v1.3M74.27,243.8v-1.3M84.36,196.4v1.3M84.36,243.8v-1.3M104.54,196.4v1.3M104.54,243.8v-1.3M114.63,196.4v1.3M114.63,243.8v-1.3M124.72,196.4v1.3M124.72,243.8v-1.3M134.81,196.4v1.3M134.81,243.8v-1.3M154.99,196.4v1.3M154.99,243.8v-1.3M165.08,196.4v1.3M165.08,243.8v-1.3M175.17,196.4v1.3M175.17,243.8v-1.3M185.26,196.4v1.3M185.26,243.8v-1.3M205.44,196.4v1.3M205.44,243.8v-1.3M215.53,196.4v1.3M215.53,243.8v-1.3M225.62,196.4v1.3M225.62,243.8v-1.3M235.71,196.4v1.3M235.71,243.8v-1.3" stroke="#555" stroke-width="0.6" fill="none"/>
<path d="M44.0,212.8 L45.0,212.6 L46.0,212.9 L47.0,212.7 L48.0,213.1 L49.0,213.2 L50.0,212.9 L51.0,213.0 L52.0,213.2 L53.0,213.2 L54.0,213.0 L55.0,213.4 L56.0,213.0 L57.0,213.3 L58.0,213.3 L59.0,213.4 L60.0,213.6 L61.0,213.3 L62.0,213.7 L63.0,213.6 L64.0,213.5 L65.0,213.5 L66.0,213.5 L67.0,213.8 L68.0,213.7 L69.0,213.9 L70.0,214.1 L71.0,214.1 L72.0,214.3 L73.0,214.0 L74.0,213.9 L75.0,214.3 L76.0,214.2 L77.0,214.4 L78.0,214.2 L79.0,214.4 L80.0,214.3 L81.0,214.3 L82.0,214.3 L83.0,214.3 L84.0,214.2 L85.0,214.2 L86.0,214.3 L87.0,214.0 L88.0,214.4 L89.0,214.1 L90.0,214.2 L91.0,214.0 L92.0,213.9 L93.0,214.3 L94.0,213.8 L95.0,213.6 L96.0,213.7 L97.0,213.7 L98.0,214.1 L99.0,213.7 L100.0,213.8 L101.0,213.3 L102.0,213.5 L103.0,213.4 L104.0,213.5 L105.0,212.9 L106.0,212.9 L107.0,212.7 L108.0,212.3 L109.0,212.3 L110.0,212.0 L111.0,211.4 L112.0,211.6 L113.0,211.4 L114.0,211.0 L115.0,210.8 L116.0,211.3 L117.0,211.1 L118.0,211.3 L119.0,211.5 L120.0,211.2 L121.0,211.5 L122.0,211.4 L123.0,211.5 L124.0,211.6 L125.0,211.7 L126.0,212.0 L127.0,211.9 L128.0,212.0 L129.0,212.1 L130.0,212.3 L131.0,212.2 L132.0,212.4 L133.0,212.7 L134.0,212.7 L135.0,213.0 L136.0,213.1 L137.0,213.8 L138.0,213.9 L139.0,214.0 L140.0,214.1 L141.0,214.7 L142.0,214.6 L143.0,214.7 L144.0,214.9 L145.0,215.1 L146.0,215.5 L147.0,215.4 L148.0,216.0 L149.0,215.6 L150.0,216.1 L151.0,216.0 L152.0,216.7 L153.0,216.5 L154.0,216.7 L155.0,217.0 L156.0,217.2 L157.0,216.9 L158.0,217.1 L159.0,216.9 L160.0,217.2 L161.0,217.2 L162.0,217.1 L163.0,217.0 L164.0,217.1 L165.0,217.0 L166.0,217.1 L167.0,217.3 L168.0,216.6 L169.0,216.9 L170.0,216.7 L171.0,216.8 L172.0,216.5 L173.0,216.6 L174.0,216.3 L175.0,216.6 L176.0,216.4 L177.0,216.2 L178.0,216.2 L179.0,215.9 L180.0,215.5 L181.0,215.8 L182.0,215.5 L183.0,215.3 L184.0,215.3 L185.0,215.2 L186.0,214.6 L187.0,214.5 L188.0,214.8 L189.0,214.5 L190.0,214.0 L191.0,213.7 L192.0,213.5 L193.0,213.4 L194.0,213.0 L195.0,213.1 L196.0,212.7 L197.0,212.5 L198.0,212.8 L199.0,212.4 L200.0,212.5 L201.0,212.6 L202.0,212.7 L203.0,212.6 L204.0,212.8 L205.0,212.7 L206.0,213.4 L207.0,213.3 L208.0,213.2 L209.0,213.6 L210.0,214.0 L211.0,214.2 L212.0,214.6 L213.0,214.7 L214.0,214.6 L215.0,214.9 L216.0,214.8 L217.0,215.3 L218.0,215.5 L219.0,216.1 L220.0,215.9 L221.0,215.7 L222.0,216.2 L223.0,216.5 L224.0,216.5 L225.0,216.8 L226.0,217.1 L227.0,217.4 L228.0,217.5 L229.0,217.6 L230.0,218.1 L231.0,218.1 L232.0,218.4 L233.0,218.4 L234.0,218.7 L235.0,219.2 L236.0,219.0 L237.0,219.4 L238.0,219.7 L239.0,219.6 L240.0,219.9 L241.0,219.7 L242.0,220.3 L243.0,220.3 L244.0,220.2 L245.0,219.9" fill="none" stroke="#6ad86a" stroke-width="0.8" stroke-linejoin="round" />
<path d="M44.0,225.5 L45.0,225.9 L46.0,226.0 L47.0,225.7 L48.0,225.9 L49.0,225.5 L50.0,225.5 L51.0,225.5 L52.0,225.5 L53.0,225.1 L54.0,225.5 L55.0,225.5 L56.0,225.0 L57.0,224.8 L58.0,225.0 L59.0,224.6 L60.0,224.0 L61.0,224.4 L62.0,224.1 L63.0,223.8 L64.0,224.1 L65.0,223.6 L66.0,223.4 L67.0,223.5 L68.0,223.4 L69.0,223.5 L70.0,223.9 L71.0,223.8 L72.0,224.0 L73.0,224.6 L74.0,224.6 L75.0,224.7 L76.0,224.8 L77.0,224.9 L78.0,225.1 L79.0,224.9 L80.0,225.3 L81.0,224.8 L82.0,225.0 L83.0,224.9 L84.0,225.1 L85.0,225.3 L86.0,225.5 L87.0,225.1 L88.0,225.3 L89.0,225.2 L90.0,225.2 L91.0,225.1 L92.0,225.3 L93.0,225.0 L94.0,225.3 L95.0,225.3 L96.0,225.2 L97.0,225.1 L98.0,225.1 L99.0,225.6 L100.0,225.1 L101.0,225.6 L102.0,225.4 L103.0,225.2 L104.0,225.1 L105.0,225.5 L106.0,225.5 L107.0,224.7 L108.0,224.4 L109.0,224.2 L110.0,223.7 L111.0,223.8 L112.0,223.3 L113.0,223.5 L114.0,223.1 L115.0,223.6 L116.0,223.1 L117.0,222.8 L118.0,223.2 L119.0,223.1 L120.0,223.4 L121.0,223.0 L122.0,223.0 L123.0,223.1 L124.0,223.2 L125.0,222.9 L126.0,223.1 L127.0,222.9 L128.0,222.7 L129.0,222.8 L130.0,222.7 L131.0,222.5 L132.0,222.8 L133.0,222.3 L134.0,222.6 L135.0,222.5 L136.0,222.2 L137.0,222.0 L138.0,222.0 L139.0,222.0 L140.0,221.9 L141.0,221.7 L142.0,221.7 L143.0,221.3 L144.0,221.3 L145.0,220.9 L146.0,221.2 L147.0,221.0 L148.0,220.8 L149.0,221.0 L150.0,220.9 L151.0,220.2 L152.0,220.7 L153.0,220.4 L154.0,220.8 L155.0,221.0 L156.0,220.4 L157.0,220.5 L158.0,220.4 L159.0,220.5 L160.0,220.5 L161.0,220.6 L162.0,220.2 L163.0,220.6 L164.0,220.2 L165.0,220.4 L166.0,220.5 L167.0,220.4 L168.0,220.1 L169.0,220.2 L170.0,220.2 L171.0,220.3 L172.0,220.6 L173.0,220.2 L174.0,220.6 L175.0,220.6 L176.0,220.7 L177.0,220.7 L178.0,221.0 L179.0,220.8 L180.0,221.0 L181.0,221.0 L182.0,221.3 L183.0,220.7 L184.0,221.3 L185.0,221.1 L186.0,221.1 L187.0,221.1 L188.0,221.0 L189.0,221.3 L190.0,221.4 L191.0,221.7 L192.0,221.4 L193.0,222.0 L194.0,221.9 L195.0,221.9 L196.0,221.9 L197.0,222.0 L198.0,222.0 L199.0,222.2 L200.0,222.3 L201.0,222.3 L202.0,222.1 L203.0,222.4 L204.0,222.2 L205.0,222.4 L206.0,222.7 L207.0,222.4 L208.0,222.2 L209.0,221.9 L210.0,221.9 L211.0,221.8 L212.0,222.2 L213.0,221.9 L214.0,222.0 L215.0,221.9 L216.0,222.0 L217.0,222.2 L218.0,221.8 L219.0,221.8 L220.0,221.8 L221.0,222.1 L222.0,221.7 L223.0,221.7 L224.0,221.7 L225.0,221.6 L226.0,222.0 L227.0,222.4 L228.0,221.7 L229.0,222.1 L230.0,221.9 L231.0,221.7 L232.0,221.9 L233.0,221.9 L234.0,221.8 L235.0,222.2 L236.0,221.5 L237.0,221.8 L238.0,221.6 L239.0,221.3 L240.0,221.3 L241.0,221.2 L242.0,220.9 L243.0,220.8 L244.0,220.6 L245.0,219.9" fill="none" stroke="#6262c8" stroke-width="0.8" stroke-linejoin="round" />
<path d="M44.0,233.4 L45.0,233.5 L46.0,233.3 L47.0,233.4 L48.0,233.0 L49.0,233.2 L50.0,233.1 L51.0,233.2 L52.0,233.5 L53.0,233.2 L54.0,233.4 L55.0,233.1 L56.0,233.4 L57.0,233.5 L58.0,233.4 L59.0,233.4 L60.0,233.9 L61.0,233.4 L62.0,233.5 L63.0,233.6 L64.0,234.0 L65.0,234.2 L66.0,233.9 L67.0,233.8 L68.0,233.9 L69.0,234.2 L70.0,234.0 L71.0,234.4 L72.0,234.5 L73.0,234.3 L74.0,234.5 L75.0,234.6 L76.0,234.8 L77.0,234.3 L78.0,234.8 L79.0,234.5 L80.0,234.5 L81.0,234.6 L82.0,234.6 L83.0,234.4 L84.0,234.2 L85.0,234.3 L86.0,234.6 L87.0,234.6 L88.0,234.3 L89.0,234.3 L90.0,233.8 L91.0,233.8 L92.0,233.8 L93.0,233.4 L94.0,233.3 L95.0,233.4 L96.0,233.2 L97.0,233.0 L98.0,233.2 L99.0,233.1 L100.0,233.3 L101.0,233.1 L102.0,233.0 L103.0,233.1 L104.0,233.0 L105.0,232.9 L106.0,232.9 L107.0,233.1 L108.0,233.1 L109.0,233.2 L110.0,232.7 L111.0,232.9 L112.0,233.0 L113.0,233.1 L114.0,233.0 L115.0,233.1 L116.0,233.3 L117.0,233.3 L118.0,233.1 L119.0,233.5 L120.0,233.5 L121.0,233.2 L122.0,233.4 L123.0,233.0 L124.0,233.2 L125.0,232.8 L126.0,232.6 L127.0,232.5 L128.0,232.2 L129.0,232.1 L130.0,231.9 L131.0,231.6 L132.0,231.2 L133.0,230.3 L134.0,230.6 L135.0,229.7 L136.0,229.5 L137.0,229.1 L138.0,228.3 L139.0,227.7 L140.0,227.2 L141.0,226.7 L142.0,226.2 L143.0,225.7 L144.0,225.1 L145.0,225.0 L146.0,224.3 L147.0,223.9 L148.0,223.0 L149.0,222.4 L150.0,222.0 L151.0,222.0 L152.0,222.1 L153.0,222.1 L154.0,222.0 L155.0,222.2 L156.0,222.8 L157.0,222.6 L158.0,222.8 L159.0,223.2 L160.0,223.3 L161.0,223.3 L162.0,223.2 L163.0,223.8 L164.0,223.5 L165.0,223.7 L166.0,223.6 L167.0,223.5 L168.0,223.6 L169.0,224.0 L170.0,224.1 L171.0,224.0 L172.0,223.9 L173.0,224.0 L174.0,224.2 L175.0,224.1 L176.0,224.6 L177.0,224.7 L178.0,225.0 L179.0,224.7 L180.0,224.5 L181.0,224.5 L182.0,224.1 L183.0,224.7 L184.0,224.8 L185.0,225.0 L186.0,225.0 L187.0,225.0 L188.0,225.0 L189.0,225.1 L190.0,225.3 L191.0,224.8 L192.0,224.9 L193.0,224.8 L194.0,225.3 L195.0,225.2 L196.0,225.1 L197.0,224.8 L198.0,225.0 L199.0,225.0 L200.0,225.0 L201.0,224.9 L202.0,224.9 L203.0,224.5 L204.0,224.3 L205.0,223.8 L206.0,223.2 L207.0,222.7 L208.0,222.2 L209.0,222.0 L210.0,221.5 L211.0,221.4 L212.0,221.1 L213.0,221.0 L214.0,221.5 L215.0,221.4 L216.0,221.9 L217.0,222.1 L218.0,222.0 L219.0,222.4 L220.0,222.7 L221.0,222.8 L222.0,223.0 L223.0,223.6 L224.0,223.7 L225.0,224.1 L226.0,224.2 L227.0,224.6 L228.0,224.6 L229.0,224.9 L230.0,225.1 L231.0,225.0 L232.0,224.9 L233.0,224.8 L234.0,225.0 L235.0,225.1 L236.0,225.0 L237.0,224.9 L238.0,225.1 L239.0,225.4 L240.0,224.9 L241.0,225.1 L242.0,225.1 L243.0,224.5 L244.0,225.0 L245.0,224.9" fill="none" stroke="#d06060" stroke-width="0.8" stroke-linejoin="round" />
<text transform="translate(47.00,209.30) scale(1.0,1)" font-size="8.6" text-anchor="start" fill="#222" stroke="#222" stroke-width="0.2" >e</text>
<text transform="translate(42.00,210.47) scale(0.835,1)" font-size="9.0" text-anchor="end" fill="#262626" stroke="#262626" stroke-width="0.2" >200</text>
<text transform="translate(42.00,223.57) scale(0.835,1)" font-size="9.0" text-anchor="end" fill="#262626" stroke="#262626" stroke-width="0.2" >0</text>
<text transform="translate(42.00,236.67) scale(0.835,1)" font-size="9.0" text-anchor="end" fill="#262626" stroke="#262626" stroke-width="0.2" >-200</text>
<line x1="44.0" y1="255.04" x2="245.8" y2="255.04" stroke="#e2e2e2" stroke-width="0.7"/>
<line x1="44.0" y1="268.40" x2="245.8" y2="268.40" stroke="#e2e2e2" stroke-width="0.7"/>
<line x1="44.0" y1="281.76" x2="245.8" y2="281.76" stroke="#e2e2e2" stroke-width="0.7"/>
<line x1="94.45" y1="243.8" x2="94.45" y2="291.0" stroke="#e2e2e2" stroke-width="0.7"/>
<line x1="144.90" y1="243.8" x2="144.90" y2="291.0" stroke="#e2e2e2" stroke-width="0.7"/>
<line x1="195.35" y1="243.8" x2="195.35" y2="291.0" stroke="#e2e2e2" stroke-width="0.7"/>
<path d="M44.0,255.04h2.2M245.8,255.04h-2.2M44.0,268.40h2.2M245.8,268.40h-2.2M44.0,281.76h2.2M245.8,281.76h-2.2M44.0,288.44h1.3M245.8,288.44h-1.3M44.0,275.08h1.3M245.8,275.08h-1.3M44.0,261.72h1.3M245.8,261.72h-1.3M44.0,248.36h1.3M245.8,248.36h-1.3M94.45,243.8v2.2M94.45,291.0v-2.2M144.90,243.8v2.2M144.90,291.0v-2.2M195.35,243.8v2.2M195.35,291.0v-2.2M54.09,243.8v1.3M54.09,291.0v-1.3M64.18,243.8v1.3M64.18,291.0v-1.3M74.27,243.8v1.3M74.27,291.0v-1.3M84.36,243.8v1.3M84.36,291.0v-1.3M104.54,243.8v1.3M104.54,291.0v-1.3M114.63,243.8v1.3M114.63,291.0v-1.3M124.72,243.8v1.3M124.72,291.0v-1.3M134.81,243.8v1.3M134.81,291.0v-1.3M154.99,243.8v1.3M154.99,291.0v-1.3M165.08,243.8v1.3M165.08,291.0v-1.3M175.17,243.8v1.3M175.17,291.0v-1.3M185.26,243.8v1.3M185.26,291.0v-1.3M205.44,243.8v1.3M205.44,291.0v-1.3M215.53,243.8v1.3M215.53,291.0v-1.3M225.62,243.8v1.3M225.62,291.0v-1.3M235.71,243.8v1.3M235.71,291.0v-1.3" stroke="#555" stroke-width="0.6" fill="none"/>
<path d="M44.0,261.0 L44.7,259.9 L45.4,259.6 L46.1,260.0 L46.8,260.3 L47.5,259.9 L48.2,260.3 L48.9,259.4 L49.6,260.3 L50.3,261.0 L51.0,261.9 L51.7,261.1 L52.4,260.8 L53.1,261.5 L53.8,261.5 L54.5,262.0 L55.2,261.7 L55.9,260.9 L56.6,261.2 L57.3,261.2 L58.0,261.4 L58.7,261.4 L59.4,260.7 L60.1,259.9 L60.8,261.0 L61.5,260.1 L62.2,261.6 L62.9,261.6 L63.6,260.5 L64.3,262.3 L65.0,262.5 L65.7,262.0 L66.4,263.2 L67.1,263.5 L67.8,261.4 L68.5,263.1 L69.2,262.8 L69.9,262.9 L70.6,263.4 L71.3,262.3 L72.0,262.5 L72.7,262.5 L73.4,262.6 L74.1,263.2 L74.8,262.3 L75.5,262.7 L76.2,263.9 L76.9,263.5 L77.6,263.9 L78.3,262.4 L79.0,263.2 L79.7,263.4 L80.4,263.8 L81.1,263.4 L81.8,264.4 L82.5,263.7 L83.2,263.8 L83.9,263.8 L84.6,264.2 L85.3,263.4 L86.0,264.4 L86.7,263.9 L87.4,263.7 L88.1,263.6 L88.8,263.8 L89.5,264.1 L90.2,264.0 L90.9,263.6 L91.6,263.9 L92.3,263.3 L93.0,264.0 L93.7,263.0 L94.4,261.5 L95.1,265.1 L95.8,263.0 L96.5,260.9 L97.2,262.4 L97.9,261.2 L98.6,266.0 L99.3,263.3 L100.0,260.0 L100.7,263.3 L101.4,261.7 L102.1,265.4 L102.8,260.6 L103.5,258.6 L104.2,262.2 L104.9,261.5 L105.6,261.3 L106.3,258.5 L107.0,262.5 L107.7,264.5 L108.4,258.7 L109.1,263.5 L109.8,260.7 L110.5,265.3 L111.2,262.1 L111.9,261.1 L112.6,263.1 L113.3,262.0 L114.0,260.2 L114.7,262.2 L115.4,260.1 L116.1,258.0 L116.8,264.0 L117.5,260.1 L118.2,259.6 L118.9,261.0 L119.6,257.9 L120.3,258.1 L121.0,259.4 L121.7,259.2 L122.4,260.1 L123.1,261.6 L123.8,258.9 L124.5,260.3 L125.2,260.4 L125.9,257.5 L126.6,259.5 L127.3,257.5 L128.0,260.6 L128.7,259.4 L129.4,258.6 L130.1,256.3 L130.8,258.5 L131.5,256.9 L132.2,259.1 L132.9,257.6 L133.6,256.4 L134.3,259.0 L135.0,258.5 L135.7,256.2 L136.4,258.9 L137.1,256.4 L137.8,256.2 L138.5,256.7 L139.2,255.1 L139.9,255.4 L140.6,255.7 L141.3,258.2 L142.0,258.0 L142.7,255.0 L143.4,257.9 L144.1,255.0 L144.8,255.6 L145.5,256.2 L146.2,255.1 L146.9,258.4 L147.6,254.7 L148.3,252.3 L149.0,256.2 L149.7,253.3 L150.4,253.3 L151.1,248.9 L151.8,255.1 L152.5,254.7 L153.2,254.5 L153.9,254.7 L154.6,255.7 L155.3,252.8 L156.0,254.2 L156.7,251.4 L157.4,251.9 L158.1,254.0 L158.8,252.8 L159.5,250.0 L160.2,252.5 L160.9,251.5 L161.6,250.4 L162.3,252.2 L163.0,250.7 L163.7,248.7 L164.4,249.3 L165.1,253.7 L165.8,248.3 L166.5,250.9 L167.2,251.3 L167.9,251.2 L168.6,248.1 L169.3,249.3 L170.0,249.9 L170.7,250.8 L171.4,248.4 L172.1,247.4 L172.8,250.7 L173.5,250.8 L174.2,249.5 L174.9,247.8 L175.6,249.4 L176.3,248.8 L177.0,249.9 L177.7,246.5 L178.4,248.7 L179.1,248.2 L179.8,246.7 L180.5,248.9 L181.2,248.7 L181.9,248.1 L182.6,249.6 L183.3,246.8 L184.0,249.2 L184.7,250.1 L185.4,250.1 L186.1,251.6 L186.8,248.2 L187.5,247.9 L188.2,250.9 L188.9,251.4 L189.6,254.3 L190.3,252.1 L191.0,249.9 L191.7,252.7 L192.4,250.3 L193.1,249.5 L193.8,256.2 L194.5,252.8 L195.2,253.6 L195.9,253.6 L196.6,255.8 L197.3,253.5 L198.0,255.2 L198.7,251.8 L199.4,251.5 L200.1,256.2 L200.8,256.4 L201.5,255.1 L202.2,254.8 L202.9,255.0 L203.6,253.9 L204.3,257.7 L205.0,256.6 L205.7,256.6 L206.4,256.7 L207.1,258.2 L207.8,257.7 L208.5,258.5 L209.2,256.0 L209.9,259.2 L210.6,262.6 L211.3,259.3 L212.0,261.1 L212.7,264.0 L213.4,265.3 L214.1,265.9 L214.8,263.2 L215.5,267.3 L216.2,265.3 L216.9,266.5 L217.6,269.3 L218.3,268.5 L219.0,270.6 L219.7,274.5 L220.4,270.7 L221.1,270.6 L221.8,267.9 L222.5,268.1 L223.2,267.3 L223.9,267.9 L224.6,266.9 L225.3,267.4 L226.0,267.9 L226.7,266.5 L227.4,265.6 L228.1,265.5 L228.8,268.2 L229.5,267.3 L230.2,268.5 L230.9,268.1 L231.6,265.3 L232.3,266.2 L233.0,262.0 L233.7,267.1 L234.4,264.6 L235.1,261.5 L235.8,259.2 L236.5,260.7 L237.2,256.0 L237.9,256.8 L238.6,258.5 L239.3,256.8 L240.0,255.7 L240.7,258.0 L241.4,254.8 L242.1,257.0 L242.8,255.8 L243.5,255.3 L244.2,257.4 L244.9,255.2 L245.6,260.0" fill="none" stroke="#22dd22" stroke-width="0.9" stroke-linejoin="round" />
<path d="M44.0,278.7 L44.7,280.3 L45.4,277.4 L46.1,278.3 L46.8,276.5 L47.5,276.2 L48.2,277.4 L48.9,277.9 L49.6,276.4 L50.3,278.4 L51.0,277.0 L51.7,277.8 L52.4,278.2 L53.1,278.5 L53.8,276.8 L54.5,279.7 L55.2,279.0 L55.9,278.4 L56.6,278.1 L57.3,277.8 L58.0,278.2 L58.7,279.9 L59.4,279.3 L60.1,278.8 L60.8,279.5 L61.5,281.2 L62.2,279.8 L62.9,279.7 L63.6,281.3 L64.3,280.6 L65.0,280.3 L65.7,279.8 L66.4,279.1 L67.1,279.4 L67.8,280.0 L68.5,280.3 L69.2,280.8 L69.9,280.9 L70.6,280.7 L71.3,280.7 L72.0,279.8 L72.7,278.9 L73.4,280.2 L74.1,279.9 L74.8,280.2 L75.5,280.5 L76.2,279.7 L76.9,279.9 L77.6,280.7 L78.3,280.9 L79.0,280.3 L79.7,281.3 L80.4,280.8 L81.1,280.2 L81.8,281.1 L82.5,282.6 L83.2,280.7 L83.9,282.2 L84.6,282.5 L85.3,282.7 L86.0,281.0 L86.7,283.3 L87.4,281.9 L88.1,281.7 L88.8,281.8 L89.5,282.5 L90.2,282.0 L90.9,281.6 L91.6,281.9 L92.3,279.0 L93.0,277.5 L93.7,278.1 L94.4,277.9 L95.1,279.1 L95.8,275.6 L96.5,279.0 L97.2,278.1 L97.9,280.1 L98.6,275.3 L99.3,277.6 L100.0,276.9 L100.7,274.7 L101.4,276.1 L102.1,279.0 L102.8,276.4 L103.5,275.9 L104.2,278.4 L104.9,278.5 L105.6,278.4 L106.3,275.5 L107.0,276.5 L107.7,278.1 L108.4,275.3 L109.1,275.0 L109.8,277.4 L110.5,278.5 L111.2,274.0 L111.9,271.5 L112.6,273.2 L113.3,273.8 L114.0,275.0 L114.7,276.1 L115.4,274.7 L116.1,273.7 L116.8,275.0 L117.5,273.1 L118.2,274.4 L118.9,273.4 L119.6,278.6 L120.3,275.4 L121.0,272.7 L121.7,272.3 L122.4,273.0 L123.1,270.9 L123.8,272.3 L124.5,272.1 L125.2,274.6 L125.9,272.4 L126.6,271.7 L127.3,270.7 L128.0,270.9 L128.7,272.6 L129.4,272.4 L130.1,274.5 L130.8,271.7 L131.5,274.4 L132.2,273.1 L132.9,272.7 L133.6,269.5 L134.3,270.7 L135.0,274.0 L135.7,275.1 L136.4,273.2 L137.1,274.1 L137.8,272.3 L138.5,272.4 L139.2,271.9 L139.9,274.6 L140.6,273.6 L141.3,272.8 L142.0,272.7 L142.7,274.1 L143.4,273.8 L144.1,272.0 L144.8,276.2 L145.5,273.9 L146.2,273.5 L146.9,276.0 L147.6,275.3 L148.3,273.7 L149.0,274.8 L149.7,272.4 L150.4,273.2 L151.1,270.8 L151.8,276.5 L152.5,271.7 L153.2,276.0 L153.9,273.7 L154.6,273.6 L155.3,275.0 L156.0,275.8 L156.7,276.4 L157.4,278.2 L158.1,276.0 L158.8,276.8 L159.5,274.4 L160.2,276.5 L160.9,275.6 L161.6,274.7 L162.3,275.2 L163.0,275.3 L163.7,275.7 L164.4,276.0 L165.1,274.6 L165.8,274.2 L166.5,276.6 L167.2,272.7 L167.9,274.4 L168.6,277.9 L169.3,271.1 L170.0,274.3 L170.7,276.5 L171.4,272.8 L172.1,279.6 L172.8,271.3 L173.5,277.7 L174.2,277.9 L174.9,276.9 L175.6,275.0 L176.3,276.0 L177.0,274.0 L177.7,276.7 L178.4,273.6 L179.1,275.0 L179.8,277.0 L180.5,273.6 L181.2,274.8 L181.9,275.7 L182.6,273.3 L183.3,277.3 L184.0,275.9 L184.7,273.0 L185.4,275.3 L186.1,274.1 L186.8,274.3 L187.5,275.4 L188.2,274.1 L188.9,276.8 L189.6,274.0 L190.3,276.7 L191.0,274.9 L191.7,276.3 L192.4,274.0 L193.1,274.0 L193.8,272.8 L194.5,275.5 L195.2,276.0 L195.9,277.8 L196.6,276.3 L197.3,274.6 L198.0,273.7 L198.7,274.6 L199.4,273.8 L200.1,276.1 L200.8,275.2 L201.5,272.2 L202.2,272.4 L202.9,275.6 L203.6,273.8 L204.3,272.8 L205.0,275.0 L205.7,272.4 L206.4,272.5 L207.1,272.2 L207.8,269.7 L208.5,274.2 L209.2,270.8 L209.9,271.8 L210.6,271.5 L211.3,273.9 L212.0,272.6 L212.7,272.7 L213.4,270.0 L214.1,272.6 L214.8,270.3 L215.5,273.2 L216.2,273.3 L216.9,272.7 L217.6,276.0 L218.3,273.6 L219.0,273.7 L219.7,272.9 L220.4,272.4 L221.1,274.3 L221.8,274.5 L222.5,270.7 L223.2,274.4 L223.9,273.6 L224.6,274.3 L225.3,273.5 L226.0,270.8 L226.7,270.9 L227.4,275.7 L228.1,273.2 L228.8,270.6 L229.5,273.4 L230.2,272.3 L230.9,270.0 L231.6,269.3 L232.3,270.4 L233.0,273.5 L233.7,273.0 L234.4,272.7 L235.1,273.6 L235.8,274.1 L236.5,269.8 L237.2,272.8 L237.9,272.0 L238.6,271.4 L239.3,272.5 L240.0,273.2 L240.7,273.1 L241.4,271.2 L242.1,272.8 L242.8,276.9 L243.5,272.1 L244.2,271.1 L244.9,274.3 L245.6,274.9" fill="none" stroke="#dd2222" stroke-width="0.9" stroke-linejoin="round" />
<path d="M44.0,272.7 L44.7,271.0 L45.4,272.3 L46.1,270.4 L46.8,269.8 L47.5,269.9 L48.2,270.0 L48.9,270.5 L49.6,270.4 L50.3,269.9 L51.0,270.7 L51.7,270.0 L52.4,270.7 L53.1,268.9 L53.8,268.8 L54.5,270.7 L55.2,269.0 L55.9,270.0 L56.6,270.2 L57.3,269.9 L58.0,270.0 L58.7,271.6 L59.4,268.5 L60.1,271.3 L60.8,272.5 L61.5,270.7 L62.2,270.8 L62.9,271.4 L63.6,272.4 L64.3,270.0 L65.0,271.1 L65.7,271.0 L66.4,271.6 L67.1,271.4 L67.8,271.9 L68.5,271.1 L69.2,271.6 L69.9,271.1 L70.6,271.1 L71.3,271.6 L72.0,271.7 L72.7,271.0 L73.4,273.2 L74.1,271.9 L74.8,271.0 L75.5,273.0 L76.2,271.6 L76.9,272.7 L77.6,272.3 L78.3,272.6 L79.0,272.6 L79.7,272.1 L80.4,272.6 L81.1,274.3 L81.8,271.0 L82.5,273.0 L83.2,273.4 L83.9,272.4 L84.6,272.4 L85.3,275.4 L86.0,273.5 L86.7,275.6 L87.4,274.6 L88.1,274.3 L88.8,274.8 L89.5,275.0 L90.2,275.4 L90.9,274.8 L91.6,274.4 L92.3,274.1 L93.0,274.8 L93.7,274.0 L94.4,272.2 L95.1,271.4 L95.8,273.4 L96.5,271.5 L97.2,272.4 L97.9,271.6 L98.6,273.6 L99.3,275.4 L100.0,276.7 L100.7,274.5 L101.4,278.9 L102.1,274.0 L102.8,281.0 L103.5,276.0 L104.2,274.6 L104.9,272.2 L105.6,266.8 L106.3,272.4 L107.0,272.8 L107.7,276.4 L108.4,268.9 L109.1,275.9 L109.8,271.0 L110.5,272.9 L111.2,265.5 L111.9,271.2 L112.6,269.9 L113.3,271.9 L114.0,270.4 L114.7,267.5 L115.4,271.8 L116.1,271.1 L116.8,270.7 L117.5,271.4 L118.2,271.4 L118.9,268.8 L119.6,265.7 L120.3,265.5 L121.0,271.4 L121.7,269.8 L122.4,268.4 L123.1,267.1 L123.8,268.0 L124.5,267.8 L125.2,266.9 L125.9,266.0 L126.6,272.1 L127.3,267.7 L128.0,265.6 L128.7,263.9 L129.4,264.9 L130.1,267.8 L130.8,267.7 L131.5,265.2 L132.2,265.5 L132.9,264.5 L133.6,262.4 L134.3,267.4 L135.0,265.0 L135.7,269.3 L136.4,261.9 L137.1,263.0 L137.8,264.9 L138.5,262.0 L139.2,259.2 L139.9,259.7 L140.6,261.7 L141.3,261.8 L142.0,260.5 L142.7,262.5 L143.4,262.1 L144.1,260.3 L144.8,259.3 L145.5,258.4 L146.2,259.9 L146.9,260.5 L147.6,258.3 L148.3,259.0 L149.0,257.1 L149.7,254.5 L150.4,255.2 L151.1,258.9 L151.8,258.0 L152.5,260.3 L153.2,256.8 L153.9,258.4 L154.6,259.2 L155.3,258.4 L156.0,254.7 L156.7,255.4 L157.4,256.0 L158.1,253.3 L158.8,256.4 L159.5,257.4 L160.2,253.9 L160.9,259.1 L161.6,253.9 L162.3,253.8 L163.0,253.5 L163.7,252.2 L164.4,254.5 L165.1,253.3 L165.8,256.7 L166.5,254.1 L167.2,253.6 L167.9,251.7 L168.6,248.8 L169.3,251.5 L170.0,249.5 L170.7,253.3 L171.4,250.9 L172.1,254.4 L172.8,252.1 L173.5,252.1 L174.2,250.6 L174.9,250.4 L175.6,251.3 L176.3,251.7 L177.0,248.1 L177.7,250.6 L178.4,255.3 L179.1,249.3 L179.8,249.0 L180.5,248.1 L181.2,246.5 L181.9,252.5 L182.6,250.2 L183.3,251.0 L184.0,254.6 L184.7,256.3 L185.4,249.1 L186.1,253.7 L186.8,253.1 L187.5,252.9 L188.2,253.3 L188.9,252.5 L189.6,256.4 L190.3,254.5 L191.0,254.1 L191.7,256.4 L192.4,255.9 L193.1,255.2 L193.8,255.2 L194.5,258.6 L195.2,256.2 L195.9,255.2 L196.6,253.9 L197.3,255.4 L198.0,254.3 L198.7,257.2 L199.4,258.0 L200.1,253.4 L200.8,258.5 L201.5,260.4 L202.2,259.9 L202.9,258.0 L203.6,263.5 L204.3,259.8 L205.0,259.3 L205.7,260.3 L206.4,263.3 L207.1,266.3 L207.8,267.5 L208.5,266.3 L209.2,264.1 L209.9,266.4 L210.6,267.1 L211.3,270.3 L212.0,268.5 L212.7,274.5 L213.4,277.5 L214.1,277.8 L214.8,281.3 L215.5,280.2 L216.2,280.8 L216.9,284.2 L217.6,289.7 L218.3,290.0 L219.0,286.7 L219.7,289.3 L220.4,284.5 L221.1,287.1 L221.8,283.3 L222.5,279.6 L223.2,280.8 L223.9,276.4 L224.6,275.6 L225.3,274.2 L226.0,277.7 L226.7,276.9 L227.4,276.7 L228.1,275.8 L228.8,279.6 L229.5,275.3 L230.2,274.3 L230.9,278.1 L231.6,277.9 L232.3,274.8 L233.0,269.4 L233.7,271.1 L234.4,272.8 L235.1,270.3 L235.8,272.3 L236.5,264.5 L237.2,267.8 L237.9,264.2 L238.6,268.1 L239.3,264.6 L240.0,266.7 L240.7,262.8 L241.4,260.9 L242.1,261.6 L242.8,262.8 L243.5,262.1 L244.2,267.4 L244.9,268.2 L245.6,266.4" fill="none" stroke="#2222dd" stroke-width="0.9" stroke-linejoin="round" />
<text transform="translate(47.00,256.70) scale(1.0,1)" font-size="8.6" text-anchor="start" fill="#222" stroke="#222" stroke-width="0.2" >f</text>
<text transform="translate(42.00,258.01) scale(0.835,1)" font-size="9.0" text-anchor="end" fill="#262626" stroke="#262626" stroke-width="0.2" >200</text>
<text transform="translate(42.00,271.37) scale(0.835,1)" font-size="9.0" text-anchor="end" fill="#262626" stroke="#262626" stroke-width="0.2" >0</text>
<text transform="translate(42.00,284.73) scale(0.835,1)" font-size="9.0" text-anchor="end" fill="#262626" stroke="#262626" stroke-width="0.2" >-200</text>
<line x1="102.02" y1="54.40" x2="102.02" y2="7.30" stroke="#0a14e6" stroke-width="1.9" stroke-dasharray="6.8,7.4"/>
<line x1="110.81" y1="54.40" x2="110.81" y2="7.30" stroke="#e61414" stroke-width="1.9" stroke-dasharray="6.8,7.4"/>
<line x1="150.95" y1="54.40" x2="150.95" y2="7.30" stroke="#0a14e6" stroke-width="1.9" stroke-dasharray="6.8,7.4"/>
<line x1="102.02" y1="101.80" x2="102.02" y2="54.40" stroke="#0a14e6" stroke-width="1.9" stroke-dasharray="6.8,7.4"/>
<line x1="110.81" y1="101.80" x2="110.81" y2="54.40" stroke="#e61414" stroke-width="1.9" stroke-dasharray="6.8,7.4"/>
<line x1="150.95" y1="101.80" x2="150.95" y2="54.40" stroke="#0a14e6" stroke-width="1.9" stroke-dasharray="6.8,7.4"/>
<line x1="102.02" y1="149.20" x2="102.02" y2="101.80" stroke="#0a14e6" stroke-width="1.9" stroke-dasharray="6.8,7.4"/>
<line x1="110.81" y1="149.20" x2="110.81" y2="101.80" stroke="#e61414" stroke-width="1.9" stroke-dasharray="6.8,7.4"/>
<line x1="150.95" y1="149.20" x2="150.95" y2="101.80" stroke="#0a14e6" stroke-width="1.9" stroke-dasharray="6.8,7.4"/>
<line x1="102.02" y1="196.40" x2="102.02" y2="149.20" stroke="#0a14e6" stroke-width="1.9" stroke-dasharray="6.8,7.4"/>
<line x1="110.81" y1="196.40" x2="110.81" y2="149.20" stroke="#e61414" stroke-width="1.9" stroke-dasharray="6.8,7.4"/>
<line x1="150.95" y1="196.40" x2="150.95" y2="149.20" stroke="#0a14e6" stroke-width="1.9" stroke-dasharray="6.8,7.4"/>
<line x1="102.02" y1="243.80" x2="102.02" y2="196.40" stroke="#0a14e6" stroke-width="1.9" stroke-dasharray="6.8,7.4"/>
<line x1="110.81" y1="243.80" x2="110.81" y2="196.40" stroke="#e61414" stroke-width="1.9" stroke-dasharray="6.8,7.4"/>
<line x1="150.95" y1="243.80" x2="150.95" y2="196.40" stroke="#0a14e6" stroke-width="1.9" stroke-dasharray="6.8,7.4"/>
<line x1="102.02" y1="291.00" x2="102.02" y2="243.80" stroke="#0a14e6" stroke-width="1.9" stroke-dasharray="6.8,7.4"/>
<line x1="110.81" y1="291.00" x2="110.81" y2="243.80" stroke="#e61414" stroke-width="1.9" stroke-dasharray="6.8,7.4"/>
<line x1="150.95" y1="291.00" x2="150.95" y2="243.80" stroke="#0a14e6" stroke-width="1.9" stroke-dasharray="6.8,7.4"/>
<rect x="44.0" y="7.3" width="201.80" height="47.10" fill="none" stroke="#8a8a8a" stroke-width="0.8"/>
<rect x="44.0" y="54.4" width="201.80" height="47.40" fill="none" stroke="#8a8a8a" stroke-width="0.8"/>
<rect x="44.0" y="101.8" width="201.80" height="47.40" fill="none" stroke="#8a8a8a" stroke-width="0.8"/>
<rect x="44.0" y="149.2" width="201.80" height="47.20" fill="none" stroke="#8a8a8a" stroke-width="0.8"/>
<rect x="44.0" y="196.4" width="201.80" height="47.40" fill="none" stroke="#8a8a8a" stroke-width="0.8"/>
<rect x="44.0" y="243.8" width="201.80" height="47.20" fill="none" stroke="#8a8a8a" stroke-width="0.8"/>
<line x1="44.0" y1="54.4" x2="245.8" y2="54.4" stroke="#3a3a3a" stroke-width="1.1"/>
<line x1="44.0" y1="149.2" x2="245.8" y2="149.2" stroke="#3a3a3a" stroke-width="1.1"/>
<line x1="44.0" y1="196.4" x2="245.8" y2="196.4" stroke="#3a3a3a" stroke-width="1.1"/>
<line x1="44.0" y1="243.8" x2="245.8" y2="243.8" stroke="#3a3a3a" stroke-width="1.1"/>
<line x1="136.5" y1="100.5" x2="245.8" y2="100.5" stroke="#9a9a9a" stroke-width="3.0"/>
<line x1="44.0" y1="101.9" x2="245.8" y2="101.9" stroke="#555" stroke-width="1.1"/>
<text transform="translate(19.62,30.80) rotate(-90)" font-size="9.0" text-anchor="middle" fill="#262626" stroke="#262626" stroke-width="0.2" >B</text>
<text transform="translate(30.46,30.70) rotate(-90)" font-size="8.0" text-anchor="middle" fill="#262626" stroke="#262626" stroke-width="0.2" >[nT]</text>
<text transform="translate(18.59,78.50) rotate(-90)" font-size="8.9" text-anchor="middle" fill="#262626" stroke="#262626" stroke-width="0.2" >N</text>
<text transform="translate(30.66,78.40) rotate(-90)" font-size="8.0" text-anchor="middle" fill="#262626" stroke="#262626" stroke-width="0.2" >[cm<tspan dy="-3.6" font-size="6.6">-3</tspan><tspan dy="3.6">]</tspan></text>
<text transform="translate(11.49,125.00) rotate(-90)" font-size="8.9" text-anchor="middle" fill="#262626" stroke="#262626" stroke-width="0.2" >Ti</text>
<text transform="translate(23.66,125.00) rotate(-90)" font-size="8.0" text-anchor="middle" fill="#262626" stroke="#262626" stroke-width="0.2" >[eV]</text>
<text transform="translate(15.39,173.40) rotate(-90)" font-size="8.9" text-anchor="middle" fill="#262626" stroke="#262626" stroke-width="0.2" >Te</text>
<text transform="translate(27.26,173.40) rotate(-90)" font-size="8.0" text-anchor="middle" fill="#262626" stroke="#262626" stroke-width="0.2" >[eV]</text>
<text transform="translate(13.69,221.00) rotate(-90)" font-size="8.9" text-anchor="middle" fill="#262626" stroke="#262626" stroke-width="0.2" >Vi</text>
<text transform="translate(24.86,221.00) rotate(-90)" font-size="8.0" text-anchor="middle" fill="#262626" stroke="#262626" stroke-width="0.2" >[km/s]</text>
<text transform="translate(13.69,268.40) rotate(-90)" font-size="8.9" text-anchor="middle" fill="#262626" stroke="#262626" stroke-width="0.2" >Ve</text>
<text transform="translate(24.86,268.40) rotate(-90)" font-size="8.0" text-anchor="middle" fill="#262626" stroke="#262626" stroke-width="0.2" >[km/s]</text>
<text transform="translate(249.60,20.24) scale(0.92,1)" font-size="8.9" text-anchor="start" fill="#c0303c" stroke="#c0303c" stroke-width="0.2" >Bx</text>
<text transform="translate(249.60,29.44) scale(0.92,1)" font-size="8.9" text-anchor="start" fill="#2ec82e" stroke="#2ec82e" stroke-width="0.2" >By</text>
<text transform="translate(249.60,38.74) scale(0.92,1)" font-size="8.9" text-anchor="start" fill="#2a2ab0" stroke="#2a2ab0" stroke-width="0.2" >Bz</text>
<text transform="translate(249.60,47.54) scale(0.92,1)" font-size="8.9" text-anchor="start" fill="#1a1a1a" stroke="#1a1a1a" stroke-width="0.2" >Bt</text>
<text transform="translate(249.60,114.54) scale(0.92,1)" font-size="8.9" text-anchor="start" fill="#c8283c" stroke="#c8283c" stroke-width="0.2" font-weight="bold">T<tspan font-weight="normal">//</tspan></text>
<text transform="translate(249.60,132.74) scale(0.92,1)" font-size="8.9" text-anchor="start" fill="#1a1a1a" stroke="#1a1a1a" stroke-width="0.2" font-weight="bold">T<tspan font-weight="normal" fill="#555">⊥</tspan></text>
<text transform="translate(249.60,162.44) scale(0.92,1)" font-size="8.9" text-anchor="start" fill="#c8283c" stroke="#c8283c" stroke-width="0.2" font-weight="bold">T<tspan font-weight="normal">//</tspan></text>
<text transform="translate(249.60,180.54) scale(0.92,1)" font-size="8.9" text-anchor="start" fill="#1a1a1a" stroke="#1a1a1a" stroke-width="0.2" font-weight="bold">T<tspan font-weight="normal" fill="#555">⊥</tspan></text>
<text transform="translate(249.60,210.24) scale(0.92,1)" font-size="8.9" text-anchor="start" fill="#c0303c" stroke="#c0303c" stroke-width="0.2" >Vx</text>
<text transform="translate(249.60,219.24) scale(0.92,1)" font-size="8.9" text-anchor="start" fill="#2ec82e" stroke="#2ec82e" stroke-width="0.2" >Vy</text>
<text transform="translate(249.60,227.94) scale(0.92,1)" font-size="8.9" text-anchor="start" fill="#2a2ab0" stroke="#2a2ab0" stroke-width="0.2" >Vz</text>
<text transform="translate(249.60,256.54) scale(0.92,1)" font-size="8.9" text-anchor="start" fill="#c0303c" stroke="#c0303c" stroke-width="0.2" >Vx</text>
<text transform="translate(249.60,265.94) scale(0.92,1)" font-size="8.9" text-anchor="start" fill="#2ec82e" stroke="#2ec82e" stroke-width="0.2" >Vy</text>
<text transform="translate(249.60,275.44) scale(0.92,1)" font-size="8.9" text-anchor="start" fill="#2a2ab0" stroke="#2a2ab0" stroke-width="0.2" >Vz</text>
<text transform="translate(44.00,300.77) scale(0.835,1)" font-size="9.0" text-anchor="middle" fill="#262626" stroke="#262626" stroke-width="0.2" >17:26:04</text>
<text transform="translate(94.45,300.77) scale(0.835,1)" font-size="9.0" text-anchor="middle" fill="#262626" stroke="#262626" stroke-width="0.2" >17:26:11</text>
<text transform="translate(144.90,300.77) scale(0.835,1)" font-size="9.0" text-anchor="middle" fill="#262626" stroke="#262626" stroke-width="0.2" >17:26:18</text>
<text transform="translate(195.35,300.77) scale(0.835,1)" font-size="9.0" text-anchor="middle" fill="#262626" stroke="#262626" stroke-width="0.2" >17:26:25</text>
<text transform="translate(245.80,300.77) scale(0.835,1)" font-size="9.0" text-anchor="middle" fill="#262626" stroke="#262626" stroke-width="0.2" >17:26:32</text>
<text transform="translate(10.00,310.17) scale(0.835,1)" font-size="9.0" text-anchor="start" fill="#262626" stroke="#262626" stroke-width="0.2" >X[RE]</text>
<text transform="translate(40.70,310.17) scale(0.835,1)" font-size="9.0" text-anchor="start" fill="#262626" stroke="#262626" stroke-width="0.2" >1.29</text>
<text transform="translate(91.15,310.17) scale(0.835,1)" font-size="9.0" text-anchor="start" fill="#262626" stroke="#262626" stroke-width="0.2" >1.29</text>
<text transform="translate(141.60,310.17) scale(0.835,1)" font-size="9.0" text-anchor="start" fill="#262626" stroke="#262626" stroke-width="0.2" >1.29</text>
<text transform="translate(192.05,310.17) scale(0.835,1)" font-size="9.0" text-anchor="start" fill="#262626" stroke="#262626" stroke-width="0.2" >1.29</text>
<text transform="translate(242.50,310.17) scale(0.835,1)" font-size="9.0" text-anchor="start" fill="#262626" stroke="#262626" stroke-width="0.2" >1.28</text>
<text transform="translate(10.00,325.77) scale(0.835,1)" font-size="9.0" text-anchor="start" fill="#262626" stroke="#262626" stroke-width="0.2" >Y[RE]</text>
<text transform="translate(40.70,325.77) scale(0.835,1)" font-size="9.0" text-anchor="start" fill="#262626" stroke="#262626" stroke-width="0.2" >11.01</text>
<text transform="translate(91.15,325.77) scale(0.835,1)" font-size="9.0" text-anchor="start" fill="#262626" stroke="#262626" stroke-width="0.2" >11.01</text>
<text transform="translate(141.60,325.77) scale(0.835,1)" font-size="9.0" text-anchor="start" fill="#262626" stroke="#262626" stroke-width="0.2" >11.02</text>
<text transform="translate(192.05,325.77) scale(0.835,1)" font-size="9.0" text-anchor="start" fill="#262626" stroke="#262626" stroke-width="0.2" >11.02</text>
<text transform="translate(242.50,325.77) scale(0.835,1)" font-size="9.0" text-anchor="start" fill="#262626" stroke="#262626" stroke-width="0.2" >11.02</text>
<text transform="translate(10.00,341.37) scale(0.835,1)" font-size="9.0" text-anchor="start" fill="#262626" stroke="#262626" stroke-width="0.2" >Z[RE]</text>
<text transform="translate(40.70,341.37) scale(0.835,1)" font-size="9.0" text-anchor="start" fill="#262626" stroke="#262626" stroke-width="0.2" >-4.50</text>
<text transform="translate(91.15,341.37) scale(0.835,1)" font-size="9.0" text-anchor="start" fill="#262626" stroke="#262626" stroke-width="0.2" >-4.50</text>
<text transform="translate(141.60,341.37) scale(0.835,1)" font-size="9.0" text-anchor="start" fill="#262626" stroke="#262626" stroke-width="0.2" >-4.50</text>
<text transform="translate(192.05,341.37) scale(0.835,1)" font-size="9.0" text-anchor="start" fill="#262626" stroke="#262626" stroke-width="0.2" >-4.50</text>
<text transform="translate(242.50,341.37) scale(0.835,1)" font-size="9.0" text-anchor="start" fill="#262626" stroke="#262626" stroke-width="0.2" >-4.50</text>
<text transform="translate(10.00,356.97) scale(0.835,1)" font-size="9.0" text-anchor="start" fill="#262626" stroke="#262626" stroke-width="0.2" >2015,Sep,02</text>
<line x1="304.0" y1="17.50" x2="505.5" y2="17.50" stroke="#e2e2e2" stroke-width="0.7"/>
<line x1="304.0" y1="33.30" x2="505.5" y2="33.30" stroke="#e2e2e2" stroke-width="0.7"/>
<line x1="304.0" y1="49.10" x2="505.5" y2="49.10" stroke="#e2e2e2" stroke-width="0.7"/>
<line x1="354.38" y1="7.3" x2="354.38" y2="54.5" stroke="#e2e2e2" stroke-width="0.7"/>
<line x1="404.75" y1="7.3" x2="404.75" y2="54.5" stroke="#e2e2e2" stroke-width="0.7"/>
<line x1="455.12" y1="7.3" x2="455.12" y2="54.5" stroke="#e2e2e2" stroke-width="0.7"/>
<path d="M304.0,17.50h2.2M505.5,17.50h-2.2M304.0,33.30h2.2M505.5,33.30h-2.2M304.0,49.10h2.2M505.5,49.10h-2.2M304.0,53.05h1.3M505.5,53.05h-1.3M304.0,45.15h1.3M505.5,45.15h-1.3M304.0,41.20h1.3M505.5,41.20h-1.3M304.0,37.25h1.3M505.5,37.25h-1.3M304.0,29.35h1.3M505.5,29.35h-1.3M304.0,25.40h1.3M505.5,25.40h-1.3M304.0,21.45h1.3M505.5,21.45h-1.3M304.0,13.55h1.3M505.5,13.55h-1.3M304.0,9.60h1.3M505.5,9.60h-1.3M354.38,7.3v2.2M354.38,54.5v-2.2M404.75,7.3v2.2M404.75,54.5v-2.2M455.12,7.3v2.2M455.12,54.5v-2.2M314.07,7.3v1.3M314.07,54.5v-1.3M324.15,7.3v1.3M324.15,54.5v-1.3M334.23,7.3v1.3M334.23,54.5v-1.3M344.30,7.3v1.3M344.30,54.5v-1.3M364.45,7.3v1.3M364.45,54.5v-1.3M374.52,7.3v1.3M374.52,54.5v-1.3M384.60,7.3v1.3M384.60,54.5v-1.3M394.68,7.3v1.3M394.68,54.5v-1.3M414.82,7.3v1.3M414.82,54.5v-1.3M424.90,7.3v1.3M424.90,54.5v-1.3M434.98,7.3v1.3M434.98,54.5v-1.3M445.05,7.3v1.3M445.05,54.5v-1.3M465.20,7.3v1.3M465.20,54.5v-1.3M475.27,7.3v1.3M475.27,54.5v-1.3M485.35,7.3v1.3M485.35,54.5v-1.3M495.43,7.3v1.3M495.43,54.5v-1.3" stroke="#555" stroke-width="0.6" fill="none"/>
<path d="M357.50,33.81 L358.00,33.89 L358.50,33.89 L359.00,33.95 L359.50,34.06 L360.00,34.33 L360.50,34.37 L361.00,34.21 L361.50,34.66 L362.00,34.70 L362.50,34.97 L363.00,34.87 L363.50,35.21 L364.00,35.49 L364.50,35.50 L365.00,35.66 L365.50,35.09 L366.00,35.96 L366.50,36.19 L367.00,36.11 L367.50,36.17 L368.00,35.87 L368.50,36.20 L369.00,36.44 L369.50,37.10 L370.00,36.99 L370.50,35.97 L371.00,35.73 L371.50,37.38 L372.00,37.22 L372.50,36.98 L373.00,37.50 L373.50,37.81 L374.00,36.82 L374.50,37.59 L375.00,37.05 L375.50,37.75 L376.00,37.28 L376.50,38.63 L377.00,36.70 L377.50,37.62 L378.00,39.13 L378.50,38.16 L379.00,39.54 L379.50,39.27 L380.00,39.31 L380.50,38.21 L381.00,38.38 L381.50,37.65 L382.00,39.20 L382.50,38.29 L383.00,40.07 L383.50,38.97 L384.00,40.67 L384.50,40.61 L385.00,40.68 L385.50,40.28 L386.00,40.53 L386.50,40.41 L387.00,40.61 L387.50,40.08 L388.00,40.76 L388.50,40.98 L389.00,39.64 L389.50,40.80 L390.00,41.16 L390.50,40.70 L391.00,40.90 L391.50,40.12 L392.00,40.85 L392.50,39.35 L393.00,39.92 L393.50,41.52 L394.00,41.10 L394.50,40.57 L395.00,41.04 L395.50,41.57 L396.00,39.94 L396.50,39.53 L397.00,41.33 L397.50,40.84 L398.00,40.81 L398.50,40.24 L399.00,40.55 L399.50,41.16 L400.00,41.33 L400.50,41.30 L401.00,40.84 L401.50,41.09 L402.00,39.31 L402.50,40.70 L403.00,39.64 L403.50,41.28 L404.00,41.73 L404.50,40.70 L405.00,41.37 L405.50,41.04 L406.00,41.38 L406.50,41.33 L407.00,41.07 L407.50,41.42 L408.00,40.61 L408.50,41.80 L409.00,41.73 L409.50,41.43 L410.00,40.73 L410.50,39.74 L411.00,41.36 L411.50,41.38 L412.00,39.10 L412.50,41.65 L413.00,41.28 L413.50,39.21 L414.00,41.45 L414.50,41.09 L415.00,40.92 L415.50,41.35 L416.00,40.64 L416.50,40.88 L417.00,39.98 L417.50,41.42 L418.00,39.46 L418.50,41.74 L419.00,41.24 L419.50,41.62 L420.00,40.39 L420.50,41.76 L421.00,41.31 L421.50,40.57 L422.00,41.39 L422.50,40.31 L423.00,40.51 L423.50,39.90 L424.00,40.63 L424.50,39.86 L425.00,40.51 L425.50,41.06 L426.00,40.95 L426.50,40.74 L427.00,40.39 L427.50,41.70 L428.00,41.67 L428.50,40.76 L429.00,41.62 L429.50,41.01 L430.00,41.51 L430.50,40.53 L431.00,39.24 L431.50,41.47 L432.00,41.58 L432.50,41.46 L433.00,41.26 L433.50,40.94 L434.00,40.91 L434.50,41.70 L435.00,41.61 L435.50,40.59 L436.00,41.01 L436.50,41.55 L437.00,40.54 L437.50,40.23 L438.00,41.34 L438.50,40.29 L439.00,41.50 L439.50,39.97 L440.00,41.56 L440.50,41.35 L441.00,40.04 L441.50,41.02 L442.00,39.98 L442.50,41.31 L443.00,40.81 L443.50,40.84 L444.00,41.67 L444.50,41.43 L445.00,41.53 L445.50,40.86 L446.00,41.11 L446.50,41.06 L447.00,41.46 L447.50,40.72 L448.00,41.32 L448.50,40.50 L449.00,40.41 L449.50,39.09 L450.00,41.34 L450.50,38.73 L451.00,41.18 L451.50,40.22 L452.00,41.55 L452.50,40.02 L453.00,41.37 L453.50,40.81 L454.00,41.42 L454.50,41.08 L455.00,37.74 L455.50,41.43 L456.00,40.86 L456.50,40.91 L457.00,41.03 L457.50,40.98 L458.00,40.54 L458.50,41.28 L459.00,39.73 L459.50,40.79 L460.00,41.05 L460.50,41.07 L461.00,39.62 L461.50,40.70 L462.00,40.50 L462.50,41.32 L463.00,39.61 L463.50,41.28 L464.00,41.18 L464.50,39.97 L465.00,40.55 L465.50,40.25 L466.00,40.15 L466.50,38.15 L467.00,40.71 L467.50,39.05 L468.00,40.43 L468.50,39.83 L469.00,39.98 L469.50,40.45 L470.00,39.48 L470.50,39.62 L471.00,40.16 L471.50,39.87 L472.00,39.60 L472.50,39.60 L473.00,39.47 L473.50,39.90 L474.00,39.71 L474.50,39.52 L475.00,38.75 L475.50,38.88 L476.00,39.17 L476.50,38.63 L477.00,38.26 L477.50,38.10 L478.00,37.71 L478.50,37.28 L479.00,36.89 L479.50,36.78 L480.00,36.79 L480.50,36.47 L481.00,34.89 L481.50,35.93 L482.00,36.14 L482.50,36.13 L483.00,35.91 L483.50,35.13 L484.00,35.69 L484.50,35.66 L485.00,35.25 L485.50,35.91 L486.00,35.91 L486.50,35.76 L487.00,36.38 L487.50,35.86 L488.00,37.49 L488.50,37.24 L489.00,37.50 L489.50,37.36 L490.00,37.86 L490.50,38.11 L491.00,39.28 L491.50,38.81 L492.00,39.84 L492.50,39.34 L493.00,40.31 L493.50,40.30 L494.00,39.83 L494.50,40.40 L495.00,41.41 L495.50,42.04 L496.00,42.17 L496.50,42.61 L497.00,42.50 L497.50,43.06 L498.00,41.70 L498.50,43.32 L499.00,43.41 L499.50,41.71 L500.00,42.85 L500.50,42.95 L501.00,42.78 L501.50,42.20 L502.00,42.44 L502.50,41.40 L503.00,41.45 L503.50,41.73 L504.00,41.04 L504.50,41.42 L505.00,40.44 L505.50,40.31 L505.50,44.02 L505.00,44.72 L504.50,45.39 L504.00,44.24 L503.50,44.95 L503.00,47.66 L502.50,45.47 L502.00,45.22 L501.50,48.17 L501.00,49.38 L500.50,45.15 L500.00,45.94 L499.50,46.06 L499.00,47.97 L498.50,46.70 L498.00,47.26 L497.50,46.48 L497.00,45.21 L496.50,45.49 L496.00,46.24 L495.50,44.99 L495.00,44.13 L494.50,46.09 L494.00,44.88 L493.50,44.05 L493.00,43.20 L492.50,43.21 L492.00,43.26 L491.50,42.02 L491.00,42.46 L490.50,41.43 L490.00,42.44 L489.50,43.44 L489.00,44.72 L488.50,42.37 L488.00,40.28 L487.50,39.53 L487.00,40.02 L486.50,38.72 L486.00,38.93 L485.50,38.40 L485.00,39.32 L484.50,38.11 L484.00,38.70 L483.50,38.75 L483.00,39.20 L482.50,40.44 L482.00,38.35 L481.50,44.57 L481.00,38.90 L480.50,39.05 L480.00,40.00 L479.50,42.25 L479.00,40.06 L478.50,40.07 L478.00,40.60 L477.50,40.96 L477.00,41.93 L476.50,41.54 L476.00,41.46 L475.50,41.66 L475.00,41.73 L474.50,42.44 L474.00,41.96 L473.50,41.91 L473.00,42.34 L472.50,42.55 L472.00,42.96 L471.50,43.74 L471.00,43.99 L470.50,42.80 L470.00,45.08 L469.50,47.14 L469.00,46.28 L468.50,45.11 L468.00,45.49 L467.50,45.17 L467.00,48.27 L466.50,48.54 L466.00,45.10 L465.50,53.90 L465.00,45.78 L464.50,46.76 L464.00,44.83 L463.50,48.20 L463.00,44.76 L462.50,45.52 L462.00,46.06 L461.50,45.27 L461.00,45.49 L460.50,44.82 L460.00,48.33 L459.50,45.24 L459.00,47.30 L458.50,45.99 L458.00,47.91 L457.50,47.25 L457.00,54.00 L456.50,46.70 L456.00,52.81 L455.50,51.36 L455.00,45.33 L454.50,47.41 L454.00,47.45 L453.50,45.08 L453.00,48.32 L452.50,47.41 L452.00,46.26 L451.50,54.00 L451.00,46.94 L450.50,45.38 L450.00,53.09 L449.50,46.15 L449.00,47.92 L448.50,50.64 L448.00,45.82 L447.50,47.09 L447.00,46.24 L446.50,46.62 L446.00,45.76 L445.50,45.93 L445.00,53.06 L444.50,52.98 L444.00,46.47 L443.50,46.98 L443.00,52.95 L442.50,45.33 L442.00,47.66 L441.50,49.02 L441.00,46.43 L440.50,45.36 L440.00,45.17 L439.50,48.06 L439.00,45.66 L438.50,46.24 L438.00,47.69 L437.50,47.36 L437.00,47.89 L436.50,49.94 L436.00,47.35 L435.50,46.97 L435.00,46.88 L434.50,51.03 L434.00,45.75 L433.50,46.91 L433.00,48.66 L432.50,45.31 L432.00,45.93 L431.50,46.01 L431.00,46.07 L430.50,45.65 L430.00,47.49 L429.50,45.24 L429.00,47.13 L428.50,46.80 L428.00,45.23 L427.50,46.11 L427.00,50.49 L426.50,45.26 L426.00,50.24 L425.50,47.76 L425.00,46.82 L424.50,45.78 L424.00,45.34 L423.50,50.25 L423.00,49.49 L422.50,47.26 L422.00,48.38 L421.50,47.40 L421.00,53.66 L420.50,47.96 L420.00,50.60 L419.50,47.20 L419.00,45.71 L418.50,46.33 L418.00,54.00 L417.50,48.78 L417.00,46.83 L416.50,47.31 L416.00,47.16 L415.50,47.39 L415.00,46.25 L414.50,47.94 L414.00,46.17 L413.50,49.52 L413.00,54.00 L412.50,48.29 L412.00,46.40 L411.50,46.84 L411.00,46.55 L410.50,45.83 L410.00,47.56 L409.50,54.00 L409.00,52.51 L408.50,47.95 L408.00,45.65 L407.50,45.71 L407.00,54.00 L406.50,47.65 L406.00,46.07 L405.50,49.16 L405.00,45.88 L404.50,46.71 L404.00,54.00 L403.50,45.76 L403.00,47.62 L402.50,49.13 L402.00,47.97 L401.50,49.61 L401.00,45.54 L400.50,46.86 L400.00,46.38 L399.50,46.25 L399.00,48.15 L398.50,45.38 L398.00,49.58 L397.50,46.33 L397.00,47.47 L396.50,45.61 L396.00,49.07 L395.50,46.30 L395.00,45.78 L394.50,45.80 L394.00,45.74 L393.50,45.94 L393.00,47.98 L392.50,46.74 L392.00,48.25 L391.50,47.15 L391.00,45.09 L390.50,45.63 L390.00,46.16 L389.50,51.43 L389.00,46.49 L388.50,47.98 L388.00,45.57 L387.50,49.76 L387.00,45.33 L386.50,47.55 L386.00,45.52 L385.50,47.27 L385.00,54.00 L384.50,44.67 L384.00,50.40 L383.50,46.72 L383.00,47.21 L382.50,47.82 L382.00,46.15 L381.50,47.89 L381.00,45.86 L380.50,45.62 L380.00,45.14 L379.50,44.60 L379.00,43.37 L378.50,44.21 L378.00,42.73 L377.50,43.94 L377.00,44.82 L376.50,46.47 L376.00,44.27 L375.50,41.64 L375.00,44.75 L374.50,41.25 L374.00,41.76 L373.50,42.34 L373.00,40.89 L372.50,43.92 L372.00,40.36 L371.50,40.72 L371.00,40.55 L370.50,39.85 L370.00,40.34 L369.50,40.50 L369.00,39.96 L368.50,38.94 L368.00,39.96 L367.50,39.13 L367.00,39.35 L366.50,37.84 L366.00,38.05 L365.50,37.44 L365.00,38.67 L364.50,37.09 L364.00,37.28 L363.50,37.57 L363.00,36.41 L362.50,36.20 L362.00,36.25 L361.50,36.21 L361.00,35.45 L360.50,35.26 L360.00,34.83 L359.50,34.66 L359.00,34.46 L358.50,34.51 L358.00,34.32 L357.50,33.96Z" fill="#e01818" fill-opacity="0.85" stroke="#e01818" stroke-width="0.3" stroke-opacity="0.85"/>
<path d="M304.0,30.5 L304.5,30.4 L305.0,30.6 L305.5,30.7 L306.0,30.7 L306.5,30.7 L307.0,30.4 L307.5,30.7 L308.0,30.4 L308.5,30.5 L309.0,30.7 L309.5,30.4 L310.0,30.7 L310.5,30.8 L311.0,30.9 L311.5,31.1 L312.0,31.5 L312.5,31.6 L313.0,32.1 L313.5,32.3 L314.0,32.3 L314.5,32.6 L315.0,32.8 L315.5,32.8 L316.0,32.9 L316.5,33.0 L317.0,33.0 L317.5,32.9 L318.0,33.1 L318.5,33.2 L319.0,33.0 L319.5,33.1 L320.0,33.4 L320.5,33.4 L321.0,33.0 L321.5,33.1 L322.0,33.3 L322.5,33.1 L323.0,33.3 L323.5,33.2 L324.0,33.4 L324.5,33.0 L325.0,33.1 L325.5,33.2 L326.0,33.5 L326.5,33.3 L327.0,33.2 L327.5,33.5 L328.0,33.5 L328.5,33.4 L329.0,33.4 L329.5,33.5 L330.0,33.6 L330.5,33.5 L331.0,33.6 L331.5,33.6 L332.0,33.6 L332.5,33.6 L333.0,33.8 L333.5,33.8 L334.0,33.8 L334.5,34.0 L335.0,34.0 L335.5,34.1 L336.0,33.9 L336.5,34.2 L337.0,34.1 L337.5,34.1 L338.0,34.2 L338.5,34.5 L339.0,34.5 L339.5,34.4 L340.0,34.4 L340.5,34.5 L341.0,34.5 L341.5,34.9 L342.0,34.5 L342.5,34.5 L343.0,34.8 L343.5,34.9 L344.0,34.9 L344.5,35.0 L345.0,35.2 L345.5,35.0 L346.0,34.9 L346.5,34.7 L347.0,34.9 L347.5,34.8 L348.0,34.5 L348.5,34.4 L349.0,34.0 L349.5,33.9 L350.0,33.6 L350.5,33.2 L351.0,33.1 L351.5,32.9 L352.0,32.8 L352.5,33.0 L353.0,33.1 L353.5,33.3 L354.0,33.2 L354.5,33.2 L355.0,33.2 L355.5,33.6 L356.0,33.6 L356.5,33.6 L357.0,33.9 L357.5,33.9 L358.0,33.8 L358.5,34.3 L359.0,34.2 L359.5,34.5 L360.0,34.6 L360.5,34.9 L361.0,34.9 L361.5,35.0 L362.0,35.0 L362.5,35.3 L363.0,35.8 L363.5,35.7 L364.0,35.7 L364.5,36.0 L365.0,36.6 L365.5,35.8 L366.0,36.3 L366.5,36.4 L367.0,36.9 L367.5,37.0 L368.0,37.2 L368.5,36.9 L369.0,38.2 L369.5,38.0 L370.0,36.8 L370.5,38.2 L371.0,37.4 L371.5,39.8 L372.0,38.2 L372.5,38.4 L373.0,39.0 L373.5,38.9 L374.0,39.2 L374.5,40.9 L375.0,39.8 L375.5,40.6 L376.0,41.1 L376.5,39.0 L377.0,42.1 L377.5,41.2 L378.0,41.6 L378.5,39.7 L379.0,41.8 L379.5,41.4 L380.0,40.4 L380.5,43.9 L381.0,42.0 L381.5,41.1 L382.0,41.8 L382.5,42.7 L383.0,43.1 L383.5,42.5 L384.0,43.4 L384.5,43.7 L385.0,40.5 L385.5,41.5 L386.0,41.0 L386.5,42.3 L387.0,44.0 L387.5,43.1 L388.0,41.1 L388.5,42.0 L389.0,43.7 L389.5,41.8 L390.0,42.4 L390.5,42.9 L391.0,40.4 L391.5,43.6 L392.0,43.1 L392.5,43.4 L393.0,41.6 L393.5,41.9 L394.0,42.1 L394.5,43.2 L395.0,43.0 L395.5,43.1 L396.0,45.1 L396.5,44.5 L397.0,42.1 L397.5,42.2 L398.0,45.1 L398.5,42.6 L399.0,44.7 L399.5,44.9 L400.0,42.4 L400.5,42.7 L401.0,43.1 L401.5,42.0 L402.0,41.9 L402.5,42.5 L403.0,44.0 L403.5,42.5 L404.0,42.8 L404.5,42.5 L405.0,41.4 L405.5,44.8 L406.0,40.2 L406.5,42.2 L407.0,43.7 L407.5,41.3 L408.0,43.7 L408.5,44.5 L409.0,42.0 L409.5,43.3 L410.0,41.7 L410.5,43.6 L411.0,43.1 L411.5,43.3 L412.0,44.7 L412.5,43.6 L413.0,44.6 L413.5,43.8 L414.0,41.6 L414.5,43.3 L415.0,43.6 L415.5,41.3 L416.0,44.6 L416.5,43.1 L417.0,43.5 L417.5,41.9 L418.0,43.1 L418.5,43.4 L419.0,42.6 L419.5,43.1 L420.0,40.5 L420.5,44.7 L421.0,41.7 L421.5,40.4 L422.0,41.9 L422.5,42.0 L423.0,43.7 L423.5,41.9 L424.0,43.4 L424.5,41.9 L425.0,45.7 L425.5,43.7 L426.0,45.4 L426.5,41.8 L427.0,43.8 L427.5,41.9 L428.0,43.7 L428.5,43.8 L429.0,41.1 L429.5,41.6 L430.0,41.6 L430.5,41.2 L431.0,42.1 L431.5,41.8 L432.0,41.3 L432.5,43.1 L433.0,43.6 L433.5,41.4 L434.0,42.3 L434.5,43.0 L435.0,42.7 L435.5,42.1 L436.0,43.9 L436.5,44.0 L437.0,43.8 L437.5,42.7 L438.0,45.3 L438.5,45.0 L439.0,42.5 L439.5,42.8 L440.0,44.4 L440.5,42.0 L441.0,43.4 L441.5,43.0 L442.0,42.1 L442.5,42.6 L443.0,41.0 L443.5,42.2 L444.0,40.5 L444.5,45.6 L445.0,44.7 L445.5,44.4 L446.0,43.2 L446.5,44.1 L447.0,44.4 L447.5,44.1 L448.0,43.9 L448.5,41.7 L449.0,43.3 L449.5,42.2 L450.0,41.4 L450.5,41.4 L451.0,43.3 L451.5,44.1 L452.0,41.1 L452.5,44.9 L453.0,44.5 L453.5,42.3 L454.0,42.2 L454.5,42.6 L455.0,43.9 L455.5,42.3 L456.0,41.4 L456.5,43.1 L457.0,40.2 L457.5,42.8 L458.0,44.1 L458.5,43.0 L459.0,43.6 L459.5,43.2 L460.0,43.5 L460.5,42.8 L461.0,41.6 L461.5,42.3 L462.0,42.5 L462.5,44.1 L463.0,44.5 L463.5,43.0 L464.0,41.6 L464.5,41.6 L465.0,42.3 L465.5,44.1 L466.0,42.8 L466.5,42.3 L467.0,41.4 L467.5,43.3 L468.0,42.5 L468.5,42.0 L469.0,42.1 L469.5,43.8 L470.0,41.5 L470.5,42.7 L471.0,42.2 L471.5,41.3 L472.0,41.7 L472.5,40.9 L473.0,40.3 L473.5,40.5 L474.0,39.9 L474.5,40.7 L475.0,40.3 L475.5,40.4 L476.0,40.4 L476.5,37.6 L477.0,39.6 L477.5,37.9 L478.0,38.9 L478.5,38.0 L479.0,38.4 L479.5,38.9 L480.0,36.7 L480.5,37.7 L481.0,37.3 L481.5,35.9 L482.0,37.4 L482.5,36.9 L483.0,36.4 L483.5,36.2 L484.0,38.8 L484.5,36.5 L485.0,35.7 L485.5,36.4 L486.0,36.9 L486.5,37.1 L487.0,37.6 L487.5,37.2 L488.0,38.5 L488.5,38.2 L489.0,37.9 L489.5,38.6 L490.0,39.2 L490.5,40.4 L491.0,40.4 L491.5,40.2 L492.0,40.8 L492.5,41.2 L493.0,42.6 L493.5,41.2 L494.0,42.2 L494.5,42.7 L495.0,41.9 L495.5,43.0 L496.0,43.3 L496.5,43.2 L497.0,44.1 L497.5,44.6 L498.0,44.8 L498.5,44.0 L499.0,44.2 L499.5,45.6 L500.0,43.3 L500.5,44.1 L501.0,44.4 L501.5,43.8 L502.0,43.9 L502.5,43.4 L503.0,43.6 L503.5,43.6 L504.0,42.3 L504.5,42.3 L505.0,41.7 L505.5,41.0" fill="none" stroke="#e01818" stroke-width="0.8" stroke-linejoin="round" />
<path d="M357.50,34.07 L358.00,34.00 L358.50,34.20 L359.00,34.09 L359.50,34.34 L360.00,34.25 L360.50,34.49 L361.00,34.30 L361.50,34.63 L362.00,34.73 L362.50,34.50 L363.00,34.23 L363.50,34.82 L364.00,35.07 L364.50,35.26 L365.00,35.23 L365.50,34.79 L366.00,35.51 L366.50,35.41 L367.00,35.45 L367.50,34.95 L368.00,35.80 L368.50,34.58 L369.00,35.20 L369.50,35.17 L370.00,35.83 L370.50,35.70 L371.00,35.59 L371.50,35.13 L372.00,34.40 L372.50,34.34 L373.00,35.91 L373.50,35.92 L374.00,33.80 L374.50,36.20 L375.00,35.59 L375.50,36.26 L376.00,34.76 L376.50,35.64 L377.00,34.79 L377.50,36.06 L378.00,35.94 L378.50,34.64 L379.00,33.33 L379.50,36.30 L380.00,35.91 L380.50,36.13 L381.00,33.66 L381.50,35.47 L382.00,35.44 L382.50,36.41 L383.00,36.03 L383.50,34.32 L384.00,36.20 L384.50,34.15 L385.00,35.54 L385.50,36.52 L386.00,36.94 L386.50,36.89 L387.00,36.91 L387.50,33.86 L388.00,36.45 L388.50,35.42 L389.00,36.38 L389.50,36.36 L390.00,37.12 L390.50,36.53 L391.00,36.19 L391.50,34.94 L392.00,37.39 L392.50,37.09 L393.00,37.26 L393.50,37.35 L394.00,35.52 L394.50,36.93 L395.00,35.99 L395.50,33.13 L396.00,35.36 L396.50,36.17 L397.00,34.82 L397.50,37.76 L398.00,35.35 L398.50,36.95 L399.00,37.05 L399.50,35.26 L400.00,37.02 L400.50,36.26 L401.00,36.04 L401.50,36.75 L402.00,36.36 L402.50,34.03 L403.00,36.15 L403.50,37.77 L404.00,35.70 L404.50,34.67 L405.00,37.04 L405.50,36.35 L406.00,37.52 L406.50,37.63 L407.00,37.33 L407.50,34.84 L408.00,36.03 L408.50,34.76 L409.00,36.99 L409.50,37.44 L410.00,36.94 L410.50,35.00 L411.00,36.67 L411.50,37.21 L412.00,36.60 L412.50,35.08 L413.00,36.40 L413.50,37.03 L414.00,36.86 L414.50,36.96 L415.00,35.92 L415.50,36.36 L416.00,36.57 L416.50,35.97 L417.00,36.65 L417.50,36.96 L418.00,36.19 L418.50,34.42 L419.00,34.98 L419.50,35.05 L420.00,35.57 L420.50,36.80 L421.00,35.15 L421.50,36.75 L422.00,35.52 L422.50,35.18 L423.00,36.50 L423.50,36.59 L424.00,36.64 L424.50,33.43 L425.00,35.52 L425.50,36.40 L426.00,34.56 L426.50,36.28 L427.00,34.89 L427.50,34.02 L428.00,34.36 L428.50,35.42 L429.00,34.91 L429.50,36.69 L430.00,36.73 L430.50,36.45 L431.00,34.60 L431.50,35.24 L432.00,34.26 L432.50,36.41 L433.00,35.12 L433.50,36.34 L434.00,34.56 L434.50,35.86 L435.00,35.23 L435.50,36.02 L436.00,34.42 L436.50,33.48 L437.00,36.14 L437.50,35.77 L438.00,36.39 L438.50,35.98 L439.00,35.12 L439.50,36.47 L440.00,35.90 L440.50,36.11 L441.00,35.68 L441.50,35.18 L442.00,35.26 L442.50,35.57 L443.00,31.84 L443.50,35.28 L444.00,36.31 L444.50,36.30 L445.00,34.36 L445.50,34.47 L446.00,36.15 L446.50,35.84 L447.00,34.60 L447.50,36.25 L448.00,34.58 L448.50,35.83 L449.00,36.09 L449.50,34.65 L450.00,34.18 L450.50,36.59 L451.00,35.14 L451.50,34.68 L452.00,35.12 L452.50,33.93 L453.00,35.22 L453.50,35.33 L454.00,36.36 L454.50,34.77 L455.00,36.44 L455.50,34.94 L456.00,36.37 L456.50,33.54 L457.00,34.48 L457.50,35.69 L458.00,36.50 L458.50,36.52 L459.00,36.11 L459.50,36.21 L460.00,34.93 L460.50,35.58 L461.00,35.18 L461.50,34.13 L462.00,34.71 L462.50,35.45 L463.00,36.16 L463.50,34.63 L464.00,35.89 L464.50,34.83 L465.00,36.44 L465.50,34.94 L466.00,35.87 L466.50,33.15 L467.00,35.53 L467.50,34.56 L468.00,35.64 L468.50,36.06 L469.00,35.68 L469.50,35.63 L470.00,34.30 L470.50,36.00 L471.00,35.26 L471.50,35.51 L472.00,35.23 L472.50,36.01 L473.00,35.58 L473.50,35.36 L474.00,34.71 L474.50,34.58 L475.00,34.14 L475.50,33.34 L476.00,32.81 L476.50,32.47 L477.00,32.14 L477.50,32.74 L478.00,32.92 L478.50,31.70 L479.00,31.88 L479.50,32.34 L480.00,32.89 L480.50,32.51 L481.00,32.20 L481.50,33.28 L482.00,32.60 L482.50,33.32 L483.00,32.38 L483.50,33.53 L484.00,33.11 L484.50,33.59 L485.00,33.59 L485.50,34.10 L486.00,33.85 L486.50,34.75 L487.00,34.86 L487.50,34.32 L488.00,34.67 L488.50,35.40 L489.00,35.53 L489.50,35.83 L490.00,36.00 L490.50,34.97 L491.00,34.46 L491.50,36.48 L492.00,36.33 L492.50,35.71 L493.00,35.88 L493.50,36.37 L494.00,35.93 L494.50,36.39 L495.00,34.54 L495.50,36.41 L496.00,35.68 L496.50,35.96 L497.00,35.86 L497.50,34.91 L498.00,36.19 L498.50,35.69 L499.00,35.84 L499.50,35.26 L500.00,35.60 L500.50,34.56 L501.00,35.61 L501.50,34.75 L502.00,34.70 L502.50,34.92 L503.00,33.09 L503.50,33.76 L504.00,33.56 L504.50,33.39 L505.00,31.93 L505.50,32.80 L505.50,38.74 L505.00,37.81 L504.50,37.11 L504.00,37.32 L503.50,38.81 L503.00,37.57 L502.50,37.34 L502.00,39.44 L501.50,39.45 L501.00,37.95 L500.50,38.06 L500.00,38.98 L499.50,39.76 L499.00,38.50 L498.50,38.72 L498.00,39.60 L497.50,39.39 L497.00,39.81 L496.50,38.91 L496.00,38.88 L495.50,39.35 L495.00,41.11 L494.50,40.69 L494.00,39.66 L493.50,39.30 L493.00,38.88 L492.50,41.23 L492.00,39.89 L491.50,39.62 L491.00,39.98 L490.50,39.59 L490.00,38.69 L489.50,38.84 L489.00,38.94 L488.50,37.89 L488.00,39.13 L487.50,37.58 L487.00,37.22 L486.50,37.10 L486.00,37.63 L485.50,37.39 L485.00,36.94 L484.50,36.19 L484.00,37.45 L483.50,36.60 L483.00,36.35 L482.50,36.10 L482.00,37.89 L481.50,35.76 L481.00,37.27 L480.50,35.88 L480.00,35.49 L479.50,36.43 L479.00,36.41 L478.50,37.12 L478.00,36.08 L477.50,36.66 L477.00,35.79 L476.50,35.92 L476.00,37.19 L475.50,36.85 L475.00,37.63 L474.50,37.64 L474.00,37.27 L473.50,38.27 L473.00,37.96 L472.50,38.99 L472.00,39.81 L471.50,38.91 L471.00,39.82 L470.50,41.58 L470.00,43.54 L469.50,41.53 L469.00,43.18 L468.50,41.28 L468.00,40.28 L467.50,41.78 L467.00,41.11 L466.50,40.70 L466.00,43.15 L465.50,41.58 L465.00,40.51 L464.50,42.86 L464.00,44.16 L463.50,41.40 L463.00,41.57 L462.50,42.34 L462.00,42.51 L461.50,42.92 L461.00,41.76 L460.50,40.45 L460.00,42.20 L459.50,41.01 L459.00,41.30 L458.50,43.17 L458.00,41.94 L457.50,42.23 L457.00,41.02 L456.50,43.62 L456.00,41.29 L455.50,42.53 L455.00,41.23 L454.50,41.07 L454.00,40.89 L453.50,43.59 L453.00,42.13 L452.50,41.16 L452.00,43.77 L451.50,42.87 L451.00,41.92 L450.50,41.31 L450.00,41.03 L449.50,42.65 L449.00,43.08 L448.50,48.39 L448.00,41.80 L447.50,42.78 L447.00,44.52 L446.50,41.90 L446.00,41.37 L445.50,45.49 L445.00,41.14 L444.50,41.63 L444.00,42.21 L443.50,40.89 L443.00,43.27 L442.50,42.61 L442.00,41.91 L441.50,42.00 L441.00,44.45 L440.50,41.77 L440.00,41.22 L439.50,41.81 L439.00,40.72 L438.50,42.11 L438.00,43.94 L437.50,43.38 L437.00,44.48 L436.50,43.45 L436.00,42.03 L435.50,45.12 L435.00,41.98 L434.50,42.77 L434.00,41.18 L433.50,45.05 L433.00,45.42 L432.50,41.94 L432.00,43.63 L431.50,40.57 L431.00,43.42 L430.50,41.42 L430.00,42.96 L429.50,41.95 L429.00,41.89 L428.50,42.50 L428.00,41.28 L427.50,40.76 L427.00,43.15 L426.50,43.70 L426.00,44.53 L425.50,41.77 L425.00,42.59 L424.50,42.56 L424.00,41.12 L423.50,45.06 L423.00,43.41 L422.50,41.15 L422.00,40.80 L421.50,44.28 L421.00,42.40 L420.50,40.90 L420.00,43.90 L419.50,43.07 L419.00,43.50 L418.50,42.50 L418.00,42.24 L417.50,42.16 L417.00,42.81 L416.50,44.87 L416.00,41.50 L415.50,42.24 L415.00,41.78 L414.50,42.83 L414.00,42.98 L413.50,41.97 L413.00,41.59 L412.50,41.15 L412.00,43.86 L411.50,41.34 L411.00,44.20 L410.50,42.58 L410.00,47.26 L409.50,44.86 L409.00,43.98 L408.50,43.26 L408.00,41.39 L407.50,42.61 L407.00,45.92 L406.50,44.51 L406.00,43.56 L405.50,42.02 L405.00,43.39 L404.50,42.43 L404.00,42.37 L403.50,42.72 L403.00,43.02 L402.50,43.89 L402.00,45.65 L401.50,44.37 L401.00,44.87 L400.50,42.61 L400.00,42.73 L399.50,46.61 L399.00,44.07 L398.50,41.93 L398.00,43.15 L397.50,42.64 L397.00,42.63 L396.50,42.52 L396.00,42.99 L395.50,45.10 L395.00,41.65 L394.50,43.18 L394.00,43.50 L393.50,42.95 L393.00,42.42 L392.50,41.63 L392.00,43.67 L391.50,42.52 L391.00,41.73 L390.50,43.30 L390.00,44.45 L389.50,45.13 L389.00,44.30 L388.50,41.69 L388.00,44.12 L387.50,42.09 L387.00,43.19 L386.50,42.18 L386.00,41.77 L385.50,41.39 L385.00,41.39 L384.50,42.31 L384.00,40.91 L383.50,41.58 L383.00,44.88 L382.50,41.13 L382.00,42.40 L381.50,41.49 L381.00,40.80 L380.50,44.30 L380.00,43.53 L379.50,43.02 L379.00,41.77 L378.50,40.41 L378.00,42.53 L377.50,42.81 L377.00,42.67 L376.50,41.09 L376.00,42.07 L375.50,40.07 L375.00,39.67 L374.50,42.98 L374.00,41.81 L373.50,40.31 L373.00,39.75 L372.50,41.39 L372.00,42.55 L371.50,39.54 L371.00,39.65 L370.50,41.14 L370.00,40.21 L369.50,39.32 L369.00,38.59 L368.50,39.03 L368.00,38.51 L367.50,37.78 L367.00,38.24 L366.50,37.97 L366.00,37.93 L365.50,37.15 L365.00,36.85 L364.50,36.91 L364.00,36.83 L363.50,36.53 L363.00,36.66 L362.50,36.25 L362.00,35.97 L361.50,36.09 L361.00,35.38 L360.50,35.52 L360.00,35.13 L359.50,34.87 L359.00,34.83 L358.50,34.51 L358.00,34.36 L357.50,34.17Z" fill="#18e018" fill-opacity="0.7" stroke="#18e018" stroke-width="0.3" stroke-opacity="0.7"/>
<path d="M304.0,31.6 L304.5,31.8 L305.0,31.9 L305.5,32.0 L306.0,32.2 L306.5,32.4 L307.0,32.5 L307.5,32.7 L308.0,32.8 L308.5,32.9 L309.0,32.9 L309.5,33.0 L310.0,33.2 L310.5,33.1 L311.0,32.9 L311.5,32.9 L312.0,32.8 L312.5,32.7 L313.0,32.5 L313.5,32.4 L314.0,32.1 L314.5,31.9 L315.0,32.0 L315.5,32.0 L316.0,31.6 L316.5,31.6 L317.0,31.4 L317.5,31.3 L318.0,31.1 L318.5,31.1 L319.0,31.0 L319.5,30.7 L320.0,31.0 L320.5,31.0 L321.0,30.7 L321.5,31.1 L322.0,31.0 L322.5,31.1 L323.0,31.1 L323.5,31.1 L324.0,31.0 L324.5,31.2 L325.0,31.2 L325.5,31.6 L326.0,31.6 L326.5,31.3 L327.0,31.4 L327.5,31.6 L328.0,31.6 L328.5,31.6 L329.0,31.6 L329.5,32.0 L330.0,32.0 L330.5,31.7 L331.0,31.8 L331.5,31.9 L332.0,32.1 L332.5,32.2 L333.0,32.2 L333.5,32.1 L334.0,32.4 L334.5,32.5 L335.0,32.5 L335.5,32.5 L336.0,32.7 L336.5,32.7 L337.0,32.7 L337.5,32.9 L338.0,32.8 L338.5,33.2 L339.0,33.3 L339.5,33.2 L340.0,33.4 L340.5,33.6 L341.0,33.3 L341.5,33.7 L342.0,33.9 L342.5,33.6 L343.0,33.9 L343.5,33.8 L344.0,34.0 L344.5,33.7 L345.0,33.8 L345.5,33.9 L346.0,34.0 L346.5,33.9 L347.0,33.8 L347.5,33.8 L348.0,33.7 L348.5,33.6 L349.0,33.3 L349.5,33.3 L350.0,33.6 L350.5,33.4 L351.0,33.1 L351.5,33.1 L352.0,33.1 L352.5,33.0 L353.0,33.3 L353.5,33.1 L354.0,33.2 L354.5,33.6 L355.0,33.2 L355.5,33.7 L356.0,33.6 L356.5,33.8 L357.0,34.0 L357.5,34.1 L358.0,34.2 L358.5,34.2 L359.0,34.4 L359.5,34.5 L360.0,34.8 L360.5,34.8 L361.0,35.2 L361.5,35.3 L362.0,34.8 L362.5,35.2 L363.0,35.4 L363.5,35.5 L364.0,36.1 L364.5,36.0 L365.0,36.0 L365.5,36.0 L366.0,36.9 L366.5,36.2 L367.0,36.2 L367.5,37.1 L368.0,36.9 L368.5,37.7 L369.0,37.1 L369.5,37.5 L370.0,36.7 L370.5,36.4 L371.0,37.1 L371.5,35.3 L372.0,37.6 L372.5,38.1 L373.0,37.5 L373.5,37.2 L374.0,38.5 L374.5,37.5 L375.0,38.5 L375.5,39.8 L376.0,38.5 L376.5,38.8 L377.0,38.4 L377.5,38.2 L378.0,38.2 L378.5,38.1 L379.0,39.3 L379.5,36.2 L380.0,37.8 L380.5,38.9 L381.0,37.2 L381.5,38.1 L382.0,37.5 L382.5,38.8 L383.0,39.4 L383.5,40.1 L384.0,39.0 L384.5,37.7 L385.0,38.8 L385.5,39.2 L386.0,40.2 L386.5,36.2 L387.0,39.1 L387.5,36.6 L388.0,39.6 L388.5,39.3 L389.0,39.5 L389.5,39.9 L390.0,39.4 L390.5,38.3 L391.0,39.5 L391.5,40.5 L392.0,39.0 L392.5,39.2 L393.0,37.8 L393.5,40.6 L394.0,38.7 L394.5,38.5 L395.0,38.8 L395.5,38.4 L396.0,39.1 L396.5,40.9 L397.0,40.4 L397.5,41.1 L398.0,41.2 L398.5,38.5 L399.0,40.1 L399.5,41.2 L400.0,42.2 L400.5,37.9 L401.0,37.9 L401.5,40.1 L402.0,39.1 L402.5,38.4 L403.0,39.9 L403.5,38.6 L404.0,36.8 L404.5,39.4 L405.0,39.5 L405.5,40.1 L406.0,40.4 L406.5,39.5 L407.0,39.0 L407.5,38.5 L408.0,37.3 L408.5,38.7 L409.0,40.3 L409.5,39.9 L410.0,41.4 L410.5,38.9 L411.0,37.0 L411.5,39.9 L412.0,40.1 L412.5,37.6 L413.0,37.0 L413.5,39.0 L414.0,39.6 L414.5,37.5 L415.0,38.3 L415.5,37.8 L416.0,37.3 L416.5,37.1 L417.0,38.8 L417.5,38.2 L418.0,37.8 L418.5,35.6 L419.0,40.5 L419.5,37.5 L420.0,38.4 L420.5,37.2 L421.0,38.9 L421.5,36.8 L422.0,38.6 L422.5,38.3 L423.0,39.5 L423.5,37.2 L424.0,37.7 L424.5,38.2 L425.0,40.8 L425.5,36.7 L426.0,38.8 L426.5,37.7 L427.0,38.8 L427.5,39.2 L428.0,38.6 L428.5,38.7 L429.0,38.7 L429.5,37.7 L430.0,38.1 L430.5,36.5 L431.0,38.0 L431.5,37.5 L432.0,38.1 L432.5,39.2 L433.0,38.8 L433.5,38.9 L434.0,39.6 L434.5,35.6 L435.0,38.8 L435.5,38.3 L436.0,38.2 L436.5,36.8 L437.0,39.0 L437.5,39.6 L438.0,39.5 L438.5,38.2 L439.0,39.1 L439.5,39.4 L440.0,40.4 L440.5,39.7 L441.0,38.5 L441.5,38.4 L442.0,38.5 L442.5,38.6 L443.0,37.7 L443.5,39.2 L444.0,37.5 L444.5,37.4 L445.0,38.7 L445.5,37.6 L446.0,38.0 L446.5,35.9 L447.0,39.2 L447.5,38.3 L448.0,38.1 L448.5,38.8 L449.0,38.5 L449.5,37.5 L450.0,40.6 L450.5,37.8 L451.0,39.4 L451.5,40.4 L452.0,37.6 L452.5,38.4 L453.0,37.3 L453.5,39.5 L454.0,37.9 L454.5,37.0 L455.0,39.7 L455.5,39.3 L456.0,37.2 L456.5,39.6 L457.0,38.4 L457.5,41.3 L458.0,40.2 L458.5,37.6 L459.0,37.9 L459.5,37.2 L460.0,38.3 L460.5,38.2 L461.0,39.0 L461.5,38.3 L462.0,36.5 L462.5,37.2 L463.0,39.8 L463.5,39.5 L464.0,37.9 L464.5,38.0 L465.0,37.9 L465.5,38.1 L466.0,36.2 L466.5,39.1 L467.0,37.3 L467.5,38.2 L468.0,35.2 L468.5,38.3 L469.0,39.6 L469.5,35.5 L470.0,39.7 L470.5,38.2 L471.0,37.4 L471.5,36.6 L472.0,38.1 L472.5,37.2 L473.0,37.1 L473.5,36.2 L474.0,35.5 L474.5,36.2 L475.0,34.7 L475.5,35.5 L476.0,33.6 L476.5,33.8 L477.0,33.2 L477.5,34.8 L478.0,32.8 L478.5,33.2 L479.0,34.3 L479.5,34.1 L480.0,35.4 L480.5,35.3 L481.0,34.6 L481.5,34.7 L482.0,33.3 L482.5,34.0 L483.0,34.4 L483.5,34.6 L484.0,34.0 L484.5,34.4 L485.0,34.6 L485.5,36.0 L486.0,35.7 L486.5,35.4 L487.0,35.7 L487.5,36.2 L488.0,35.8 L488.5,36.3 L489.0,35.6 L489.5,37.3 L490.0,37.6 L490.5,37.4 L491.0,37.6 L491.5,37.7 L492.0,38.8 L492.5,37.7 L493.0,36.8 L493.5,36.9 L494.0,38.0 L494.5,38.2 L495.0,38.0 L495.5,38.1 L496.0,37.6 L496.5,36.5 L497.0,36.9 L497.5,36.2 L498.0,37.0 L498.5,36.3 L499.0,37.1 L499.5,36.9 L500.0,35.6 L500.5,37.2 L501.0,37.1 L501.5,35.6 L502.0,36.4 L502.5,36.6 L503.0,35.7 L503.5,36.3 L504.0,35.6 L504.5,36.0 L505.0,35.2 L505.5,34.7" fill="none" stroke="#18e018" stroke-width="0.8" stroke-linejoin="round" />
<path d="M357.50,32.94 L358.00,32.89 L358.50,32.58 L359.00,32.73 L359.50,32.45 L360.00,32.35 L360.50,32.04 L361.00,31.98 L361.50,31.78 L362.00,31.50 L362.50,31.33 L363.00,30.97 L363.50,28.92 L364.00,29.58 L364.50,29.72 L365.00,28.22 L365.50,29.50 L366.00,29.00 L366.50,28.58 L367.00,29.48 L367.50,28.24 L368.00,29.17 L368.50,28.88 L369.00,26.98 L369.50,27.66 L370.00,27.68 L370.50,27.08 L371.00,25.81 L371.50,27.19 L372.00,27.19 L372.50,27.13 L373.00,26.05 L373.50,24.25 L374.00,25.61 L374.50,24.17 L375.00,25.92 L375.50,26.02 L376.00,25.73 L376.50,25.53 L377.00,24.78 L377.50,23.53 L378.00,23.46 L378.50,21.41 L379.00,24.76 L379.50,23.87 L380.00,22.69 L380.50,20.74 L381.00,22.78 L381.50,22.41 L382.00,22.11 L382.50,21.96 L383.00,23.34 L383.50,23.17 L384.00,20.94 L384.50,22.11 L385.00,20.59 L385.50,22.21 L386.00,14.82 L386.50,21.76 L387.00,21.60 L387.50,21.38 L388.00,16.48 L388.50,19.25 L389.00,13.22 L389.50,18.56 L390.00,19.32 L390.50,20.16 L391.00,17.05 L391.50,19.93 L392.00,18.17 L392.50,13.44 L393.00,17.43 L393.50,17.40 L394.00,17.43 L394.50,16.88 L395.00,14.53 L395.50,18.60 L396.00,17.13 L396.50,16.14 L397.00,17.34 L397.50,17.45 L398.00,16.32 L398.50,17.64 L399.00,17.30 L399.50,15.17 L400.00,13.36 L400.50,17.05 L401.00,16.33 L401.50,16.15 L402.00,17.67 L402.50,11.49 L403.00,17.14 L403.50,17.05 L404.00,17.58 L404.50,17.41 L405.00,17.18 L405.50,12.83 L406.00,14.11 L406.50,16.17 L407.00,16.48 L407.50,16.95 L408.00,16.60 L408.50,17.00 L409.00,15.87 L409.50,14.89 L410.00,17.42 L410.50,17.51 L411.00,17.31 L411.50,17.75 L412.00,13.72 L412.50,17.60 L413.00,17.92 L413.50,9.66 L414.00,18.00 L414.50,15.00 L415.00,17.45 L415.50,17.17 L416.00,17.89 L416.50,16.65 L417.00,12.37 L417.50,17.63 L418.00,15.82 L418.50,10.44 L419.00,17.05 L419.50,16.57 L420.00,14.54 L420.50,17.15 L421.00,17.86 L421.50,16.70 L422.00,15.29 L422.50,16.03 L423.00,14.76 L423.50,17.70 L424.00,15.45 L424.50,18.72 L425.00,18.37 L425.50,17.85 L426.00,14.06 L426.50,18.60 L427.00,18.77 L427.50,16.91 L428.00,18.73 L428.50,16.85 L429.00,17.34 L429.50,18.47 L430.00,16.42 L430.50,18.22 L431.00,17.67 L431.50,13.68 L432.00,17.11 L432.50,18.15 L433.00,16.04 L433.50,16.84 L434.00,16.79 L434.50,17.84 L435.00,17.69 L435.50,12.02 L436.00,18.65 L436.50,16.29 L437.00,15.93 L437.50,18.60 L438.00,17.96 L438.50,18.53 L439.00,14.99 L439.50,13.04 L440.00,18.79 L440.50,17.03 L441.00,16.26 L441.50,17.30 L442.00,16.26 L442.50,18.99 L443.00,18.50 L443.50,18.25 L444.00,19.27 L444.50,13.19 L445.00,17.73 L445.50,18.63 L446.00,17.46 L446.50,16.71 L447.00,19.23 L447.50,18.54 L448.00,19.15 L448.50,19.24 L449.00,17.97 L449.50,18.60 L450.00,17.37 L450.50,18.18 L451.00,16.69 L451.50,18.16 L452.00,17.35 L452.50,18.84 L453.00,19.20 L453.50,17.64 L454.00,19.02 L454.50,17.12 L455.00,17.79 L455.50,19.22 L456.00,18.93 L456.50,16.03 L457.00,18.90 L457.50,13.89 L458.00,17.35 L458.50,15.29 L459.00,18.85 L459.50,17.62 L460.00,17.29 L460.50,17.14 L461.00,17.91 L461.50,16.90 L462.00,18.45 L462.50,19.00 L463.00,10.50 L463.50,18.73 L464.00,18.87 L464.50,18.03 L465.00,18.79 L465.50,18.12 L466.00,19.77 L466.50,20.56 L467.00,19.64 L467.50,14.82 L468.00,19.57 L468.50,20.59 L469.00,19.04 L469.50,15.53 L470.00,21.20 L470.50,21.46 L471.00,21.99 L471.50,20.83 L472.00,21.73 L472.50,22.60 L473.00,22.62 L473.50,23.23 L474.00,21.66 L474.50,22.99 L475.00,23.47 L475.50,24.34 L476.00,23.96 L476.50,24.78 L477.00,24.10 L477.50,25.07 L478.00,24.15 L478.50,23.96 L479.00,24.45 L479.50,25.20 L480.00,24.04 L480.50,25.68 L481.00,26.16 L481.50,24.11 L482.00,23.49 L482.50,24.52 L483.00,25.48 L483.50,26.01 L484.00,25.09 L484.50,24.27 L485.00,25.36 L485.50,24.36 L486.00,24.95 L486.50,24.51 L487.00,23.19 L487.50,22.76 L488.00,24.51 L488.50,24.14 L489.00,22.22 L489.50,23.77 L490.00,21.74 L490.50,22.66 L491.00,20.97 L491.50,21.92 L492.00,21.25 L492.50,21.11 L493.00,21.06 L493.50,19.93 L494.00,19.29 L494.50,16.22 L495.00,18.54 L495.50,18.30 L496.00,18.28 L496.50,17.08 L497.00,16.66 L497.50,17.85 L498.00,17.64 L498.50,17.89 L499.00,18.33 L499.50,18.02 L500.00,18.13 L500.50,18.29 L501.00,18.98 L501.50,15.75 L502.00,17.76 L502.50,18.58 L503.00,18.63 L503.50,16.77 L504.00,19.49 L504.50,20.62 L505.00,21.63 L505.50,22.58 L505.50,24.69 L505.00,24.03 L504.50,24.01 L504.00,22.80 L503.50,22.81 L503.00,23.00 L502.50,22.31 L502.00,21.53 L501.50,21.69 L501.00,20.97 L500.50,21.89 L500.00,21.18 L499.50,20.67 L499.00,21.07 L498.50,20.37 L498.00,20.59 L497.50,20.55 L497.00,21.18 L496.50,20.89 L496.00,20.83 L495.50,20.86 L495.00,21.85 L494.50,21.91 L494.00,22.86 L493.50,23.26 L493.00,23.27 L492.50,24.09 L492.00,24.39 L491.50,25.15 L491.00,25.27 L490.50,25.53 L490.00,25.44 L489.50,26.18 L489.00,26.53 L488.50,26.63 L488.00,26.76 L487.50,27.17 L487.00,27.10 L486.50,27.68 L486.00,27.60 L485.50,27.74 L485.00,27.70 L484.50,28.50 L484.00,29.18 L483.50,28.22 L483.00,28.58 L482.50,28.87 L482.00,29.38 L481.50,28.26 L481.00,29.26 L480.50,28.33 L480.00,28.50 L479.50,28.48 L479.00,28.87 L478.50,28.13 L478.00,27.68 L477.50,27.09 L477.00,26.94 L476.50,27.40 L476.00,27.23 L475.50,26.42 L475.00,26.58 L474.50,26.62 L474.00,26.06 L473.50,27.03 L473.00,26.21 L472.50,25.99 L472.00,25.82 L471.50,24.92 L471.00,25.62 L470.50,24.73 L470.00,26.12 L469.50,24.84 L469.00,26.98 L468.50,24.98 L468.00,24.81 L467.50,25.11 L467.00,24.40 L466.50,25.26 L466.00,25.23 L465.50,23.96 L465.00,25.42 L464.50,25.19 L464.00,25.06 L463.50,24.69 L463.00,25.26 L462.50,24.81 L462.00,24.45 L461.50,24.35 L461.00,23.05 L460.50,23.55 L460.00,23.48 L459.50,23.68 L459.00,23.80 L458.50,23.96 L458.00,25.70 L457.50,24.49 L457.00,22.96 L456.50,22.91 L456.00,24.22 L455.50,23.02 L455.00,23.24 L454.50,22.73 L454.00,22.67 L453.50,24.93 L453.00,22.59 L452.50,23.06 L452.00,24.56 L451.50,22.91 L451.00,24.37 L450.50,22.64 L450.00,23.20 L449.50,23.84 L449.00,23.48 L448.50,22.71 L448.00,24.25 L447.50,23.20 L447.00,22.44 L446.50,24.70 L446.00,24.09 L445.50,23.24 L445.00,22.53 L444.50,23.45 L444.00,23.93 L443.50,22.58 L443.00,22.82 L442.50,22.61 L442.00,22.62 L441.50,24.12 L441.00,24.92 L440.50,23.30 L440.00,22.54 L439.50,23.37 L439.00,23.50 L438.50,22.62 L438.00,22.46 L437.50,22.85 L437.00,23.12 L436.50,24.38 L436.00,23.98 L435.50,24.75 L435.00,23.34 L434.50,22.35 L434.00,23.22 L433.50,22.53 L433.00,22.79 L432.50,23.83 L432.00,23.73 L431.50,22.52 L431.00,22.59 L430.50,22.14 L430.00,22.79 L429.50,22.31 L429.00,22.29 L428.50,22.67 L428.00,22.36 L427.50,22.39 L427.00,24.16 L426.50,22.26 L426.00,22.82 L425.50,23.03 L425.00,23.39 L424.50,23.52 L424.00,23.17 L423.50,23.46 L423.00,22.06 L422.50,24.03 L422.00,24.84 L421.50,22.14 L421.00,22.12 L420.50,22.16 L420.00,23.69 L419.50,21.91 L419.00,22.12 L418.50,22.69 L418.00,23.08 L417.50,22.48 L417.00,22.25 L416.50,22.08 L416.00,23.52 L415.50,22.86 L415.00,22.28 L414.50,21.50 L414.00,21.88 L413.50,21.45 L413.00,22.14 L412.50,21.88 L412.00,21.35 L411.50,21.34 L411.00,21.31 L410.50,21.94 L410.00,21.73 L409.50,22.37 L409.00,23.21 L408.50,21.66 L408.00,21.02 L407.50,21.92 L407.00,21.12 L406.50,21.83 L406.00,21.82 L405.50,22.24 L405.00,21.27 L404.50,22.66 L404.00,22.57 L403.50,23.38 L403.00,23.65 L402.50,22.63 L402.00,21.21 L401.50,22.65 L401.00,21.97 L400.50,21.99 L400.00,21.31 L399.50,23.08 L399.00,22.78 L398.50,21.94 L398.00,22.79 L397.50,21.84 L397.00,22.41 L396.50,24.14 L396.00,22.79 L395.50,22.65 L395.00,24.26 L394.50,22.69 L394.00,22.78 L393.50,24.02 L393.00,24.35 L392.50,23.79 L392.00,23.54 L391.50,25.63 L391.00,23.91 L390.50,26.77 L390.00,24.92 L389.50,26.02 L389.00,24.82 L388.50,25.10 L388.00,24.77 L387.50,25.78 L387.00,25.51 L386.50,26.19 L386.00,26.54 L385.50,26.90 L385.00,26.55 L384.50,27.24 L384.00,27.35 L383.50,28.59 L383.00,26.86 L382.50,27.33 L382.00,28.89 L381.50,27.09 L381.00,27.92 L380.50,28.11 L380.00,28.32 L379.50,29.05 L379.00,29.41 L378.50,30.17 L378.00,28.33 L377.50,30.53 L377.00,28.80 L376.50,30.03 L376.00,29.41 L375.50,29.14 L375.00,29.15 L374.50,30.24 L374.00,29.85 L373.50,29.52 L373.00,29.77 L372.50,29.95 L372.00,30.40 L371.50,30.21 L371.00,30.09 L370.50,31.43 L370.00,30.63 L369.50,31.00 L369.00,30.81 L368.50,30.86 L368.00,30.78 L367.50,31.21 L367.00,31.36 L366.50,31.20 L366.00,31.27 L365.50,31.36 L365.00,31.55 L364.50,31.80 L364.00,31.78 L363.50,32.11 L363.00,32.54 L362.50,32.61 L362.00,32.61 L361.50,32.75 L361.00,32.79 L360.50,33.07 L360.00,33.01 L359.50,33.21 L359.00,33.12 L358.50,33.12 L358.00,33.09 L357.50,33.06Z" fill="#000000" fill-opacity="0.72" stroke="#000000" stroke-width="0.3" stroke-opacity="0.72"/>
<path d="M304.0,28.6 L304.5,28.1 L305.0,28.0 L305.5,27.7 L306.0,27.3 L306.5,27.1 L307.0,27.1 L307.5,26.8 L308.0,26.9 L308.5,26.9 L309.0,26.9 L309.5,27.1 L310.0,27.2 L310.5,27.9 L311.0,28.3 L311.5,28.5 L312.0,29.0 L312.5,29.5 L313.0,29.8 L313.5,30.1 L314.0,30.5 L314.5,31.0 L315.0,31.5 L315.5,31.3 L316.0,31.5 L316.5,31.4 L317.0,31.4 L317.5,31.5 L318.0,31.4 L318.5,31.2 L319.0,31.5 L319.5,31.2 L320.0,31.1 L320.5,31.1 L321.0,30.9 L321.5,30.8 L322.0,30.9 L322.5,30.6 L323.0,30.8 L323.5,30.7 L324.0,30.6 L324.5,30.5 L325.0,30.4 L325.5,30.1 L326.0,30.3 L326.5,30.2 L327.0,30.2 L327.5,30.1 L328.0,30.0 L328.5,29.8 L329.0,29.9 L329.5,29.8 L330.0,29.9 L330.5,29.7 L331.0,29.6 L331.5,29.6 L332.0,29.5 L332.5,29.4 L333.0,29.1 L333.5,29.1 L334.0,29.1 L334.5,29.1 L335.0,28.9 L335.5,28.7 L336.0,28.6 L336.5,28.2 L337.0,28.3 L337.5,28.1 L338.0,27.9 L338.5,28.2 L339.0,27.8 L339.5,27.9 L340.0,28.0 L340.5,28.1 L341.0,28.1 L341.5,27.9 L342.0,28.2 L342.5,28.3 L343.0,28.8 L343.5,29.0 L344.0,29.1 L344.5,29.4 L345.0,29.9 L345.5,30.1 L346.0,30.5 L346.5,30.8 L347.0,31.1 L347.5,31.5 L348.0,31.8 L348.5,32.1 L349.0,32.6 L349.5,32.6 L350.0,32.6 L350.5,32.5 L351.0,32.6 L351.5,32.6 L352.0,32.7 L352.5,32.7 L353.0,32.6 L353.5,32.4 L354.0,32.7 L354.5,32.7 L355.0,32.7 L355.5,32.8 L356.0,32.6 L356.5,32.8 L357.0,32.9 L357.5,33.1 L358.0,32.9 L358.5,33.0 L359.0,33.1 L359.5,33.0 L360.0,32.6 L360.5,33.0 L361.0,32.1 L361.5,31.9 L362.0,32.0 L362.5,32.3 L363.0,31.5 L363.5,31.2 L364.0,31.2 L364.5,31.1 L365.0,31.0 L365.5,31.0 L366.0,29.9 L366.5,31.4 L367.0,30.7 L367.5,29.8 L368.0,31.1 L368.5,30.2 L369.0,30.9 L369.5,28.9 L370.0,30.7 L370.5,29.4 L371.0,27.7 L371.5,29.7 L372.0,28.7 L372.5,28.0 L373.0,28.4 L373.5,26.7 L374.0,28.9 L374.5,28.0 L375.0,27.7 L375.5,29.4 L376.0,27.8 L376.5,26.8 L377.0,26.3 L377.5,27.1 L378.0,28.3 L378.5,26.2 L379.0,25.4 L379.5,27.7 L380.0,26.4 L380.5,26.1 L381.0,28.6 L381.5,24.3 L382.0,25.9 L382.5,23.2 L383.0,24.9 L383.5,25.8 L384.0,26.3 L384.5,23.2 L385.0,25.6 L385.5,25.3 L386.0,24.0 L386.5,27.0 L387.0,23.8 L387.5,22.5 L388.0,23.9 L388.5,20.9 L389.0,24.9 L389.5,24.0 L390.0,22.1 L390.5,23.2 L391.0,22.9 L391.5,24.5 L392.0,21.1 L392.5,20.1 L393.0,19.1 L393.5,21.1 L394.0,19.3 L394.5,20.9 L395.0,21.6 L395.5,20.4 L396.0,19.7 L396.5,22.2 L397.0,20.4 L397.5,20.8 L398.0,21.6 L398.5,18.7 L399.0,19.1 L399.5,23.2 L400.0,19.8 L400.5,18.7 L401.0,19.6 L401.5,19.1 L402.0,18.2 L402.5,19.2 L403.0,19.6 L403.5,19.6 L404.0,20.2 L404.5,17.4 L405.0,17.7 L405.5,20.5 L406.0,19.0 L406.5,21.1 L407.0,20.0 L407.5,17.9 L408.0,20.3 L408.5,18.4 L409.0,20.0 L409.5,21.2 L410.0,22.4 L410.5,19.7 L411.0,20.7 L411.5,20.3 L412.0,20.9 L412.5,16.8 L413.0,19.5 L413.5,20.4 L414.0,20.7 L414.5,19.2 L415.0,21.2 L415.5,21.6 L416.0,20.4 L416.5,20.1 L417.0,19.9 L417.5,20.6 L418.0,21.9 L418.5,22.3 L419.0,19.9 L419.5,19.4 L420.0,19.6 L420.5,21.8 L421.0,20.9 L421.5,21.0 L422.0,21.2 L422.5,21.1 L423.0,20.5 L423.5,19.4 L424.0,19.9 L424.5,20.8 L425.0,21.2 L425.5,20.3 L426.0,20.2 L426.5,22.4 L427.0,20.2 L427.5,21.0 L428.0,20.4 L428.5,19.7 L429.0,18.9 L429.5,20.2 L430.0,19.8 L430.5,21.9 L431.0,19.4 L431.5,20.4 L432.0,21.7 L432.5,20.7 L433.0,21.5 L433.5,21.9 L434.0,18.9 L434.5,20.4 L435.0,19.8 L435.5,22.6 L436.0,20.8 L436.5,21.6 L437.0,23.1 L437.5,20.6 L438.0,21.1 L438.5,21.5 L439.0,20.7 L439.5,22.6 L440.0,22.1 L440.5,22.3 L441.0,21.1 L441.5,20.7 L442.0,20.7 L442.5,20.7 L443.0,19.1 L443.5,21.6 L444.0,22.1 L444.5,21.1 L445.0,20.5 L445.5,21.2 L446.0,21.4 L446.5,21.6 L447.0,23.4 L447.5,20.1 L448.0,21.6 L448.5,22.1 L449.0,21.3 L449.5,20.9 L450.0,20.0 L450.5,20.5 L451.0,22.1 L451.5,23.0 L452.0,20.5 L452.5,21.9 L453.0,21.9 L453.5,22.5 L454.0,21.6 L454.5,21.9 L455.0,22.4 L455.5,20.0 L456.0,21.4 L456.5,19.3 L457.0,19.0 L457.5,20.4 L458.0,19.6 L458.5,22.1 L459.0,22.7 L459.5,21.2 L460.0,21.4 L460.5,21.3 L461.0,21.3 L461.5,21.8 L462.0,22.2 L462.5,21.3 L463.0,21.0 L463.5,21.4 L464.0,23.1 L464.5,21.7 L465.0,24.1 L465.5,22.1 L466.0,24.2 L466.5,21.2 L467.0,22.0 L467.5,23.5 L468.0,23.6 L468.5,23.0 L469.0,25.8 L469.5,23.6 L470.0,24.0 L470.5,23.4 L471.0,25.1 L471.5,24.7 L472.0,24.6 L472.5,23.4 L473.0,25.0 L473.5,24.6 L474.0,25.3 L474.5,25.8 L475.0,24.9 L475.5,25.7 L476.0,26.3 L476.5,26.1 L477.0,25.9 L477.5,25.6 L478.0,26.1 L478.5,25.9 L479.0,27.5 L479.5,27.1 L480.0,26.4 L480.5,27.3 L481.0,26.5 L481.5,25.2 L482.0,28.2 L482.5,28.2 L483.0,26.4 L483.5,26.8 L484.0,27.3 L484.5,26.8 L485.0,26.4 L485.5,26.5 L486.0,26.6 L486.5,26.2 L487.0,26.5 L487.5,26.0 L488.0,25.3 L488.5,25.6 L489.0,24.2 L489.5,25.9 L490.0,23.5 L490.5,24.2 L491.0,24.1 L491.5,23.8 L492.0,23.4 L492.5,23.7 L493.0,21.8 L493.5,22.1 L494.0,21.7 L494.5,20.8 L495.0,20.2 L495.5,21.0 L496.0,19.3 L496.5,19.2 L497.0,19.3 L497.5,19.4 L498.0,19.7 L498.5,19.5 L499.0,19.9 L499.5,19.9 L500.0,20.2 L500.5,20.9 L501.0,19.6 L501.5,21.4 L502.0,20.1 L502.5,21.0 L503.0,21.0 L503.5,21.1 L504.0,20.5 L504.5,23.5 L505.0,22.6 L505.5,23.2" fill="none" stroke="#000000" stroke-width="0.8" stroke-linejoin="round" />
<path d="M304.0,33.0 L304.4,33.7 L304.7,34.2 L305.1,34.5 L305.4,35.2 L305.8,35.9 L306.1,36.1 L306.5,36.6 L306.8,36.8 L307.2,37.1 L307.5,37.5 L307.9,37.7 L308.2,38.2 L308.6,38.1 L308.9,38.2 L309.3,38.1 L309.6,37.9 L310.0,37.7 L310.3,37.7 L310.7,37.1 L311.0,37.2 L311.4,36.7 L311.7,36.3 L312.1,35.8 L312.4,35.5 L312.8,35.0 L313.1,34.6 L313.5,33.9 L313.8,33.6 L314.2,33.4 L314.5,33.2 L314.9,33.1 L315.2,32.8 L315.6,32.7 L315.9,32.7 L316.3,32.6 L316.6,32.7 L317.0,32.8 L317.3,32.6 L317.7,32.4 L318.0,32.5 L318.4,32.2 L318.7,32.1 L319.1,32.4 L319.4,31.9 L319.8,32.0 L320.1,32.0 L320.5,32.1 L320.8,31.9 L321.2,32.0 L321.5,31.8 L321.9,31.7 L322.2,31.9 L322.6,31.9 L322.9,31.7 L323.3,31.7 L323.6,31.7 L324.0,31.9 L324.3,31.8 L324.7,31.8 L325.0,31.8 L325.4,31.7 L325.7,31.8 L326.1,31.6 L326.4,31.5 L326.8,31.6 L327.1,31.7 L327.5,31.7 L327.8,31.8 L328.2,31.4 L328.5,31.6 L328.9,31.6 L329.2,31.4 L329.6,31.6 L329.9,31.5 L330.3,31.3 L330.6,31.6 L331.0,31.2 L331.3,31.4 L331.7,31.1 L332.0,31.0 L332.4,30.9 L332.7,30.8 L333.1,30.6 L333.4,30.7 L333.8,30.3 L334.1,30.5 L334.5,30.4 L334.8,30.3 L335.2,29.9 L335.5,29.6 L335.9,29.7 L336.2,29.7 L336.6,29.7 L336.9,29.5 L337.3,29.5 L337.6,29.5 L338.0,29.3 L338.3,29.7 L338.7,29.4 L339.0,29.6 L339.4,29.7 L339.7,29.5 L340.1,29.7 L340.4,29.9 L340.8,29.7 L341.1,30.0 L341.5,29.9 L341.8,30.0 L342.2,30.1 L342.5,30.1 L342.9,30.2 L343.2,30.4 L343.6,30.4 L343.9,30.5 L344.3,30.4 L344.6,30.7 L345.0,31.0 L345.3,31.1 L345.7,31.2 L346.0,31.3 L346.4,31.5 L346.7,31.8 L347.1,32.1 L347.4,32.2 L347.8,32.6 L348.1,32.6 L348.5,32.9 L348.8,32.9 L349.2,33.2 L349.5,33.2 L349.9,33.5 L350.2,33.6 L350.6,33.6 L350.9,33.7 L351.3,33.9 L351.6,33.9 L352.0,34.0 L352.3,34.1 L352.7,34.4 L353.0,34.6 L353.4,34.4 L353.7,34.5 L354.1,34.5 L354.4,34.4 L354.8,34.3 L355.1,34.3 L355.5,34.1 L355.8,33.9 L356.2,33.6 L356.5,33.7 L356.9,33.2 L357.2,33.2 L357.6,32.9 L357.9,32.9 L358.3,33.0 L358.6,32.8 L359.0,32.9 L359.3,32.8 L359.7,32.5 L360.0,32.2 L360.4,32.9 L360.7,32.5 L361.1,33.0 L361.4,32.6 L361.8,32.4 L362.1,32.7 L362.5,32.4 L362.8,32.5 L363.2,32.2 L363.5,32.6 L363.9,32.8 L364.2,32.2 L364.6,33.0 L364.9,32.2 L365.3,32.4 L365.6,31.8 L366.0,31.6 L366.3,33.1 L366.7,32.8 L367.0,32.7 L367.4,31.6 L367.7,32.3 L368.1,32.3 L368.4,32.2 L368.8,32.2 L369.1,31.7 L369.5,32.0 L369.8,31.5 L370.2,31.8 L370.5,32.1 L370.9,31.5 L371.2,31.7 L371.6,31.6 L371.9,31.8 L372.3,32.2 L372.6,31.8 L373.0,31.9 L373.3,30.9 L373.7,31.4 L374.0,32.0 L374.4,31.0 L374.7,31.2 L375.1,30.8 L375.4,32.1 L375.8,31.0 L376.1,30.8 L376.5,31.6 L376.8,31.8 L377.2,31.4 L377.5,31.7 L377.9,31.1 L378.2,30.8 L378.6,30.6 L378.9,30.5 L379.3,30.4 L379.6,31.0 L380.0,30.6 L380.3,30.7 L380.7,31.0 L381.0,30.5 L381.4,29.5 L381.7,29.9 L382.1,29.6 L382.4,29.0 L382.8,30.4 L383.1,29.4 L383.5,29.3 L383.8,29.4 L384.2,30.7 L384.5,29.8 L384.9,30.7 L385.2,29.9 L385.6,29.6 L385.9,30.3 L386.3,30.3 L386.6,29.9 L387.0,29.0 L387.3,29.4 L387.7,28.9 L388.0,29.5 L388.4,29.7 L388.7,30.7 L389.1,30.6 L389.4,30.0 L389.8,30.2 L390.1,29.6 L390.5,31.4 L390.8,30.5 L391.2,31.2 L391.5,29.6 L391.9,29.5 L392.2,30.0 L392.6,29.3 L392.9,29.4 L393.3,28.4 L393.6,29.7 L394.0,29.1 L394.3,29.6 L394.7,28.8 L395.0,27.6 L395.4,29.3 L395.7,29.7 L396.1,27.9 L396.4,28.1 L396.8,28.5 L397.1,28.6 L397.5,27.5 L397.8,29.9 L398.2,29.4 L398.5,28.2 L398.9,27.3 L399.2,28.8 L399.6,30.0 L399.9,29.1 L400.3,29.3 L400.6,27.8 L401.0,28.6 L401.3,27.3 L401.7,29.8 L402.0,28.8 L402.4,26.8 L402.7,27.0 L403.1,28.6 L403.4,28.3 L403.8,28.0 L404.1,28.6 L404.5,29.6 L404.8,28.4 L405.2,26.8 L405.5,28.0 L405.9,27.1 L406.2,27.5 L406.6,28.2 L406.9,27.9 L407.3,27.2 L407.6,27.9 L408.0,27.3 L408.3,28.3 L408.7,27.7 L409.0,28.1 L409.4,27.6 L409.7,28.3 L410.1,27.7 L410.4,27.7 L410.8,27.3 L411.1,27.8 L411.5,26.4 L411.8,29.6 L412.2,27.1 L412.5,27.7 L412.9,27.3 L413.2,27.2 L413.6,27.9 L413.9,27.2 L414.3,27.2 L414.6,26.5 L415.0,26.8 L415.3,26.6 L415.7,28.8 L416.0,26.5 L416.4,26.7 L416.7,27.6 L417.1,28.5 L417.4,26.2 L417.8,26.3 L418.1,27.5 L418.5,27.6 L418.8,26.4 L419.2,26.1 L419.5,26.7 L419.9,27.9 L420.2,27.4 L420.6,27.9 L420.9,27.3 L421.3,27.4 L421.6,27.8 L422.0,27.3 L422.3,27.6 L422.7,26.7 L423.0,27.0 L423.4,27.7 L423.7,27.2 L424.1,26.8 L424.4,27.9 L424.8,27.8 L425.1,27.4 L425.5,26.8 L425.8,28.0 L426.2,29.2 L426.5,26.8 L426.9,26.3 L427.2,26.8 L427.6,26.7 L427.9,26.5 L428.3,26.5 L428.6,28.0 L429.0,28.0 L429.3,28.5 L429.7,27.9 L430.0,27.0 L430.4,28.2 L430.7,27.0 L431.1,27.1 L431.4,26.6 L431.8,28.3 L432.1,28.1 L432.5,27.1 L432.8,27.2 L433.2,27.4 L433.5,27.5 L433.9,28.0 L434.2,27.4 L434.6,27.7 L434.9,26.3 L435.3,27.2 L435.6,26.1 L436.0,28.7 L436.3,28.4 L436.7,27.9 L437.0,28.2 L437.4,28.9 L437.7,28.1 L438.1,26.3 L438.4,27.3 L438.8,25.7 L439.1,26.8 L439.5,26.5 L439.8,27.4 L440.2,27.7 L440.5,26.8 L440.9,27.2 L441.2,27.6 L441.6,27.3 L441.9,27.3 L442.3,25.7 L442.6,27.1 L443.0,28.0 L443.3,27.6 L443.7,26.4 L444.0,27.2 L444.4,27.6 L444.7,26.7 L445.1,27.9 L445.4,26.9 L445.8,27.2 L446.1,27.4 L446.5,29.1 L446.8,27.2 L447.2,27.1 L447.5,28.0 L447.9,27.1 L448.2,27.6 L448.6,25.9 L448.9,27.7 L449.3,27.5 L449.6,26.6 L450.0,28.5 L450.3,27.3 L450.7,27.4 L451.0,26.5 L451.4,26.3 L451.7,27.1 L452.1,26.4 L452.4,27.9 L452.8,28.1 L453.1,27.1 L453.5,26.4 L453.8,27.2 L454.2,26.8 L454.5,27.7 L454.9,27.7 L455.2,27.2 L455.6,27.6 L455.9,28.3 L456.3,28.8 L456.6,27.2 L457.0,28.1 L457.3,27.4 L457.7,26.8 L458.0,28.5 L458.4,27.9 L458.7,27.7 L459.1,27.8 L459.4,27.5 L459.8,26.8 L460.1,28.9 L460.5,28.3 L460.8,27.8 L461.2,28.3 L461.5,28.5 L461.9,27.5 L462.2,28.1 L462.6,27.4 L462.9,28.1 L463.3,27.5 L463.6,29.4 L464.0,27.4 L464.3,28.0 L464.7,28.0 L465.0,27.4 L465.4,28.4 L465.7,27.6 L466.1,27.4 L466.4,27.7 L466.8,27.2 L467.1,28.6 L467.5,28.2 L467.8,28.4 L468.2,26.8 L468.5,27.9 L468.9,27.2 L469.2,27.8 L469.6,28.7 L469.9,28.0 L470.3,27.7 L470.6,28.6 L471.0,28.6 L471.3,29.3 L471.7,26.8 L472.0,28.5 L472.4,28.2 L472.7,28.0 L473.1,28.9 L473.4,28.2 L473.8,27.6 L474.1,28.8 L474.5,29.5 L474.8,31.2 L475.2,29.5 L475.5,29.4 L475.9,29.0 L476.2,30.3 L476.6,30.6 L476.9,31.0 L477.3,29.9 L477.6,30.5 L478.0,29.4 L478.3,31.2 L478.7,29.9 L479.0,29.1 L479.4,31.8 L479.7,31.3 L480.1,31.2 L480.4,31.1 L480.8,30.0 L481.1,31.5 L481.5,29.9 L481.8,31.9 L482.2,30.6 L482.5,29.1 L482.9,31.0 L483.2,31.7 L483.6,30.0 L483.9,30.9 L484.3,29.9 L484.6,29.6 L485.0,28.1 L485.3,30.8 L485.7,29.5 L486.0,30.1 L486.4,28.9 L486.7,29.0 L487.1,30.4 L487.4,29.2 L487.8,29.2 L488.1,28.5 L488.5,29.5 L488.8,29.8 L489.2,28.9 L489.5,29.0 L489.9,28.2 L490.2,30.0 L490.6,28.5 L490.9,28.8 L491.3,30.0 L491.6,28.6 L492.0,27.6 L492.3,28.0 L492.7,28.3 L493.0,29.8 L493.4,28.7 L493.7,28.3 L494.1,29.0 L494.4,29.3 L494.8,27.8 L495.1,29.4 L495.5,28.9 L495.8,28.6 L496.2,26.6 L496.5,28.4 L496.9,29.3 L497.2,28.1 L497.6,30.0 L497.9,28.4 L498.3,27.6 L498.6,28.8 L499.0,28.6 L499.3,29.1 L499.7,28.4 L500.0,29.5 L500.4,28.3 L500.7,28.8 L501.1,27.9 L501.4,28.3 L501.8,29.1 L502.1,28.6 L502.5,28.8 L502.8,29.1 L503.2,29.6 L503.5,30.1 L503.9,30.2 L504.2,30.5 L504.6,30.0 L504.9,29.6 L505.3,28.9" fill="none" stroke="#1818e0" stroke-width="1.0" stroke-linejoin="round" />
<text transform="translate(307.00,20.20) scale(1.0,1)" font-size="8.6" text-anchor="start" fill="#222" stroke="#222" stroke-width="0.2" >g</text>
<text transform="translate(302.00,20.47) scale(0.835,1)" font-size="9.0" text-anchor="end" fill="#262626" stroke="#262626" stroke-width="0.2" >10</text>
<text transform="translate(302.00,36.27) scale(0.835,1)" font-size="9.0" text-anchor="end" fill="#262626" stroke="#262626" stroke-width="0.2" >0</text>
<text transform="translate(302.00,52.07) scale(0.835,1)" font-size="9.0" text-anchor="end" fill="#262626" stroke="#262626" stroke-width="0.2" >-10</text>
<line x1="304.0" y1="61.20" x2="505.5" y2="61.20" stroke="#e2e2e2" stroke-width="0.7"/>
<line x1="304.0" y1="72.90" x2="505.5" y2="72.90" stroke="#e2e2e2" stroke-width="0.7"/>
<line x1="304.0" y1="84.60" x2="505.5" y2="84.60" stroke="#e2e2e2" stroke-width="0.7"/>
<line x1="304.0" y1="96.30" x2="505.5" y2="96.30" stroke="#e2e2e2" stroke-width="0.7"/>
<line x1="354.38" y1="54.5" x2="354.38" y2="101.8" stroke="#e2e2e2" stroke-width="0.7"/>
<line x1="404.75" y1="54.5" x2="404.75" y2="101.8" stroke="#e2e2e2" stroke-width="0.7"/>
<line x1="455.12" y1="54.5" x2="455.12" y2="101.8" stroke="#e2e2e2" stroke-width="0.7"/>
<path d="M304.0,61.20h2.2M505.5,61.20h-2.2M304.0,72.90h2.2M505.5,72.90h-2.2M304.0,84.60h2.2M505.5,84.60h-2.2M304.0,96.30h2.2M505.5,96.30h-2.2M304.0,90.45h1.3M505.5,90.45h-1.3M304.0,78.75h1.3M505.5,78.75h-1.3M304.0,67.05h1.3M505.5,67.05h-1.3M354.38,54.5v2.2M354.38,101.8v-2.2M404.75,54.5v2.2M404.75,101.8v-2.2M455.12,54.5v2.2M455.12,101.8v-2.2M314.07,54.5v1.3M314.07,101.8v-1.3M324.15,54.5v1.3M324.15,101.8v-1.3M334.23,54.5v1.3M334.23,101.8v-1.3M344.30,54.5v1.3M344.30,101.8v-1.3M364.45,54.5v1.3M364.45,101.8v-1.3M374.52,54.5v1.3M374.52,101.8v-1.3M384.60,54.5v1.3M384.60,101.8v-1.3M394.68,54.5v1.3M394.68,101.8v-1.3M414.82,54.5v1.3M414.82,101.8v-1.3M424.90,54.5v1.3M424.90,101.8v-1.3M434.98,54.5v1.3M434.98,101.8v-1.3M445.05,54.5v1.3M445.05,101.8v-1.3M465.20,54.5v1.3M465.20,101.8v-1.3M475.27,54.5v1.3M475.27,101.8v-1.3M485.35,54.5v1.3M485.35,101.8v-1.3M495.43,54.5v1.3M495.43,101.8v-1.3" stroke="#555" stroke-width="0.6" fill="none"/>
<path d="M304.0,83.6 L304.8,85.1 L305.6,86.3 L306.4,88.4 L307.2,88.5 L308.0,89.5 L308.8,90.0 L309.6,90.2 L310.4,91.2 L311.2,90.8 L312.0,90.8 L312.8,91.5 L313.6,90.8 L314.4,90.1 L315.2,89.3 L316.0,88.2 L316.8,87.2 L317.6,86.3 L318.4,85.2 L319.2,85.6 L320.0,86.3 L320.8,85.9 L321.6,86.4 L322.4,87.0 L323.2,87.5 L324.0,87.2 L324.8,87.1 L325.6,86.6 L326.4,86.3 L327.2,85.3 L328.0,83.6 L328.8,82.8 L329.6,82.5 L330.4,82.4 L331.2,82.9 L332.0,82.9 L332.8,83.4 L333.6,83.2 L334.4,83.1 L335.2,83.5 L336.0,83.1 L336.8,83.0 L337.6,83.5 L338.4,83.8 L339.2,83.2 L340.0,83.9 L340.8,83.9 L341.6,83.5 L342.4,83.4 L343.2,82.9 L344.0,82.4 L344.8,81.9 L345.6,80.8 L346.4,80.6 L347.2,79.8 L348.0,79.3 L348.8,78.0 L349.6,77.7 L350.4,78.3 L351.2,78.2 L352.0,78.8 L352.8,79.7 L353.6,80.6 L354.4,82.0 L355.2,82.8 L356.0,83.9 L356.8,85.3 L357.6,86.0 L358.4,87.8 L359.2,88.1 L360.0,90.3 L360.8,90.3 L361.6,91.8 L362.4,92.8 L363.2,93.6 L364.0,95.0 L364.8,96.2 L365.6,97.2 L366.4,98.9 L367.2,99.9 L368.0,100.0 L368.8,100.2 L369.6,100.8 L370.4,101.2 L371.2,101.3 L372.0,101.4 L372.8,101.3 L373.6,101.3 L374.4,100.6 L375.2,101.4 L376.0,101.1 L376.8,101.3 L377.6,100.9 L378.4,100.9 L379.2,100.9 L380.0,101.2 L380.8,101.1 L381.6,100.8 L382.4,101.0 L383.2,100.1 L384.0,99.9 L384.8,99.0 L385.6,98.8 L386.4,97.6 L387.2,96.7 L388.0,95.5 L388.8,93.2 L389.6,93.1 L390.4,91.4 L391.2,89.9 L392.0,88.3 L392.8,87.5 L393.6,86.0 L394.4,85.8 L395.2,85.3 L396.0,85.5 L396.8,84.6 L397.6,84.6 L398.4,84.4 L399.2,84.3 L400.0,83.5 L400.8,83.4 L401.6,83.0 L402.4,82.9 L403.2,82.8 L404.0,82.8 L404.8,82.5 L405.6,82.6 L406.4,82.7 L407.2,82.5 L408.0,82.5 L408.8,82.4 L409.6,82.6 L410.4,82.7 L411.2,82.5 L412.0,82.4 L412.8,82.6 L413.6,82.4 L414.4,82.3 L415.2,82.2 L416.0,82.3 L416.8,82.6 L417.6,82.3 L418.4,82.6 L419.2,82.3 L420.0,82.3 L420.8,82.4 L421.6,82.3 L422.4,82.3 L423.2,82.2 L424.0,82.1 L424.8,82.2 L425.6,82.3 L426.4,82.2 L427.2,82.0 L428.0,82.3 L428.8,82.2 L429.6,82.2 L430.4,82.1 L431.2,82.0 L432.0,82.3 L432.8,82.1 L433.6,82.2 L434.4,82.3 L435.2,82.2 L436.0,82.1 L436.8,82.1 L437.6,82.1 L438.4,82.2 L439.2,82.1 L440.0,82.0 L440.8,82.1 L441.6,82.1 L442.4,82.1 L443.2,82.1 L444.0,82.2 L444.8,82.0 L445.6,82.1 L446.4,82.0 L447.2,81.9 L448.0,81.9 L448.8,82.0 L449.6,82.1 L450.4,82.1 L451.2,82.0 L452.0,82.0 L452.8,82.0 L453.6,82.2 L454.4,82.1 L455.2,82.0 L456.0,82.2 L456.8,82.0 L457.6,82.2 L458.4,82.2 L459.2,82.2 L460.0,82.1 L460.8,82.4 L461.6,82.5 L462.4,82.2 L463.2,82.4 L464.0,82.5 L464.8,82.7 L465.6,82.4 L466.4,82.4 L467.2,82.5 L468.0,82.7 L468.8,82.6 L469.6,82.6 L470.4,82.8 L471.2,82.4 L472.0,82.4 L472.8,82.8 L473.6,82.8 L474.4,82.6 L475.2,82.8 L476.0,82.8 L476.8,82.8 L477.6,82.7 L478.4,82.8 L479.2,82.8 L480.0,82.9 L480.8,82.9 L481.6,83.1 L482.4,83.0 L483.2,82.8 L484.0,83.0 L484.8,83.1 L485.6,83.0 L486.4,83.1 L487.2,83.1 L488.0,83.1 L488.8,83.0 L489.6,83.2 L490.4,83.0 L491.2,83.3 L492.0,83.0 L492.8,83.0 L493.6,83.3 L494.4,83.2 L495.2,83.3 L496.0,83.3 L496.8,83.3 L497.6,83.2 L498.4,83.4 L499.2,83.4 L500.0,83.4 L500.8,83.6 L501.6,83.3 L502.4,83.4 L503.2,83.5 L504.0,83.4 L504.8,83.4" fill="none" stroke="#d04040" stroke-width="0.8" stroke-linejoin="round" />
<path d="M304.0,81.7 L304.8,82.8 L305.6,82.9 L306.4,83.5 L307.2,83.4 L308.0,83.8 L308.8,83.5 L309.6,83.5 L310.4,83.1 L311.2,81.5 L312.0,80.2 L312.8,78.0 L313.6,78.2 L314.4,78.3 L315.2,78.1 L316.0,77.6 L316.8,77.4 L317.6,77.4 L318.4,77.5 L319.2,77.4 L320.0,77.4 L320.8,77.4 L321.6,77.0 L322.4,76.9 L323.2,76.9 L324.0,76.9 L324.8,77.4 L325.6,78.9 L326.4,81.5 L327.2,82.9 L328.0,83.7 L328.8,84.0 L329.6,83.4 L330.4,83.6 L331.2,83.5 L332.0,83.3 L332.8,83.0 L333.6,82.5 L334.4,82.0 L335.2,82.1 L336.0,81.7 L336.8,81.8 L337.6,81.4 L338.4,81.4 L339.2,80.6 L340.0,81.2 L340.8,80.7 L341.6,80.5 L342.4,80.8 L343.2,81.3 L344.0,82.1 L344.8,82.5 L345.6,82.4 L346.4,83.2 L347.2,83.4 L348.0,83.3 L348.8,83.4 L349.6,82.7 L350.4,82.3 L351.2,80.8 L352.0,80.2 L352.8,79.1 L353.6,78.3 L354.4,77.7 L355.2,77.8 L356.0,77.0 L356.8,76.8 L357.6,76.6 L358.4,76.3 L359.2,75.8 L360.0,74.9 L360.8,73.8 L361.6,72.7 L362.4,71.5 L363.2,70.4 L364.0,69.4 L364.8,69.2 L365.6,68.8 L366.4,69.3 L367.2,69.2 L368.0,69.0 L368.8,69.5 L369.6,68.8 L370.4,70.0 L371.2,70.0 L372.0,70.3 L372.8,70.2 L373.6,71.7 L374.4,71.4 L375.2,71.9 L376.0,72.7 L376.8,72.8 L377.6,73.0 L378.4,73.7 L379.2,73.6 L380.0,74.3 L380.8,74.3 L381.6,74.8 L382.4,74.4 L383.2,75.3 L384.0,75.5 L384.8,76.6 L385.6,76.9 L386.4,78.7 L387.2,79.5 L388.0,80.7 L388.8,81.2 L389.6,82.2 L390.4,82.8 L391.2,82.9 L392.0,83.3 L392.8,83.9 L393.6,84.8 L394.4,84.6 L395.2,84.8 L396.0,84.7 L396.8,84.6 L397.6,84.6 L398.4,84.5 L399.2,84.9 L400.0,84.6 L400.8,84.6 L401.6,84.4 L402.4,84.6 L403.2,84.4 L404.0,84.5 L404.8,84.6 L405.6,84.4 L406.4,84.5 L407.2,84.6 L408.0,84.6 L408.8,84.5 L409.6,84.5 L410.4,84.5 L411.2,84.4 L412.0,84.3 L412.8,84.3 L413.6,84.6 L414.4,84.6 L415.2,84.4 L416.0,84.5 L416.8,84.6 L417.6,84.6 L418.4,84.6 L419.2,84.9 L420.0,84.6 L420.8,84.7 L421.6,84.6 L422.4,84.6 L423.2,84.6 L424.0,84.7 L424.8,84.7 L425.6,84.8 L426.4,84.8 L427.2,84.7 L428.0,85.0 L428.8,84.7 L429.6,84.8 L430.4,85.0 L431.2,84.7 L432.0,85.0 L432.8,85.0 L433.6,84.9 L434.4,84.7 L435.2,85.0 L436.0,84.9 L436.8,84.8 L437.6,85.0 L438.4,84.8 L439.2,85.0 L440.0,84.9 L440.8,85.0 L441.6,84.8 L442.4,84.9 L443.2,84.9 L444.0,84.9 L444.8,85.0 L445.6,85.0 L446.4,85.0 L447.2,85.1 L448.0,85.0 L448.8,84.8 L449.6,85.0 L450.4,85.0 L451.2,85.1 L452.0,85.1 L452.8,85.1 L453.6,85.0 L454.4,85.0 L455.2,84.8 L456.0,85.1 L456.8,85.0 L457.6,85.0 L458.4,84.9 L459.2,84.9 L460.0,84.8 L460.8,84.9 L461.6,84.7 L462.4,84.9 L463.2,84.8 L464.0,84.9 L464.8,84.7 L465.6,84.7 L466.4,84.7 L467.2,84.6 L468.0,84.6 L468.8,84.4 L469.6,84.4 L470.4,84.4 L471.2,84.4 L472.0,84.2 L472.8,84.2 L473.6,84.2 L474.4,84.2 L475.2,84.0 L476.0,84.0 L476.8,83.9 L477.6,83.7 L478.4,83.5 L479.2,83.4 L480.0,83.2 L480.8,83.2 L481.6,83.2 L482.4,83.0 L483.2,83.2 L484.0,83.2 L484.8,83.0 L485.6,83.1 L486.4,82.9 L487.2,82.9 L488.0,83.0 L488.8,83.0 L489.6,83.0 L490.4,83.0 L491.2,83.3 L492.0,83.1 L492.8,83.2 L493.6,83.2 L494.4,83.2 L495.2,83.2 L496.0,83.2 L496.8,83.2 L497.6,83.6 L498.4,83.4 L499.2,83.5 L500.0,83.7 L500.8,83.8 L501.6,84.3 L502.4,84.3 L503.2,84.6 L504.0,84.8 L504.8,84.9" fill="none" stroke="#50d050" stroke-width="0.8" stroke-linejoin="round" />
<path d="M304.0,87.5 L304.8,88.1 L305.6,88.9 L306.4,89.3 L307.2,89.8 L308.0,89.9 L308.8,90.5 L309.6,90.4 L310.4,89.9 L311.2,88.8 L312.0,88.5 L312.8,87.5 L313.6,86.3 L314.4,85.4 L315.2,85.6 L316.0,86.0 L316.8,85.6 L317.6,86.8 L318.4,86.8 L319.2,87.8 L320.0,88.6 L320.8,88.3 L321.6,88.2 L322.4,87.3 L323.2,86.6 L324.0,86.2 L324.8,84.9 L325.6,83.4 L326.4,82.6 L327.2,82.1 L328.0,82.4 L328.8,81.9 L329.6,82.1 L330.4,81.7 L331.2,81.5 L332.0,82.1 L332.8,81.8 L333.6,81.6 L334.4,81.6 L335.2,81.6 L336.0,81.6 L336.8,81.4 L337.6,82.1 L338.4,81.9 L339.2,82.0 L340.0,81.7 L340.8,81.9 L341.6,81.8 L342.4,81.6 L343.2,80.8 L344.0,79.8 L344.8,78.4 L345.6,77.1 L346.4,76.0 L347.2,75.0 L348.0,74.0 L348.8,73.0 L349.6,73.2 L350.4,72.7 L351.2,72.4 L352.0,73.4 L352.8,74.5 L353.6,76.3 L354.4,77.9 L355.2,78.7 L356.0,80.2 L356.8,80.9 L357.6,82.4 L358.4,83.3 L359.2,83.7 L360.0,83.9 L360.8,83.7 L361.6,83.6 L362.4,83.4 L363.2,83.8 L364.0,83.7 L364.8,83.6 L365.6,83.7 L366.4,83.8 L367.2,83.8 L368.0,84.1 L368.8,84.9 L369.6,84.8 L370.4,85.5 L371.2,85.0 L372.0,85.1 L372.8,85.5 L373.6,85.6 L374.4,85.1 L375.2,85.2 L376.0,85.0 L376.8,84.7 L377.6,84.1 L378.4,83.7 L379.2,82.8 L380.0,82.8 L380.8,82.5 L381.6,82.4 L382.4,81.3 L383.2,80.8 L384.0,80.2 L384.8,80.0 L385.6,78.5 L386.4,78.2 L387.2,78.4 L388.0,77.7 L388.8,76.9 L389.6,77.2 L390.4,78.0 L391.2,79.0 L392.0,80.0 L392.8,81.2 L393.6,82.8 L394.4,83.4 L395.2,84.0 L396.0,84.1 L396.8,84.1 L397.6,84.7 L398.4,84.4 L399.2,84.7 L400.0,84.7 L400.8,84.8 L401.6,84.9 L402.4,85.0 L403.2,85.1 L404.0,85.3 L404.8,85.4 L405.6,85.4 L406.4,85.3 L407.2,85.5 L408.0,85.5 L408.8,85.6 L409.6,85.4 L410.4,85.7 L411.2,85.5 L412.0,85.8 L412.8,85.6 L413.6,85.8 L414.4,85.7 L415.2,85.6 L416.0,85.7 L416.8,85.8 L417.6,85.9 L418.4,85.7 L419.2,85.8 L420.0,85.9 L420.8,85.9 L421.6,86.0 L422.4,85.9 L423.2,85.9 L424.0,86.1 L424.8,86.0 L425.6,86.2 L426.4,86.1 L427.2,86.2 L428.0,86.1 L428.8,86.2 L429.6,86.2 L430.4,86.3 L431.2,86.1 L432.0,86.2 L432.8,86.2 L433.6,86.3 L434.4,86.4 L435.2,86.6 L436.0,86.3 L436.8,86.4 L437.6,86.4 L438.4,86.5 L439.2,86.4 L440.0,86.5 L440.8,86.5 L441.6,86.7 L442.4,86.6 L443.2,86.3 L444.0,86.5 L444.8,86.5 L445.6,86.3 L446.4,86.4 L447.2,86.4 L448.0,86.4 L448.8,86.5 L449.6,86.3 L450.4,86.6 L451.2,86.6 L452.0,86.5 L452.8,86.4 L453.6,86.5 L454.4,86.4 L455.2,86.5 L456.0,86.4 L456.8,86.6 L457.6,86.3 L458.4,86.4 L459.2,86.2 L460.0,86.2 L460.8,86.1 L461.6,86.2 L462.4,86.1 L463.2,86.1 L464.0,86.1 L464.8,85.9 L465.6,85.9 L466.4,85.9 L467.2,85.7 L468.0,85.6 L468.8,85.6 L469.6,85.6 L470.4,85.5 L471.2,85.4 L472.0,85.2 L472.8,85.1 L473.6,85.0 L474.4,84.7 L475.2,84.5 L476.0,84.3 L476.8,84.1 L477.6,84.1 L478.4,83.8 L479.2,83.5 L480.0,83.5 L480.8,83.4 L481.6,83.4 L482.4,83.0 L483.2,83.0 L484.0,82.9 L484.8,82.7 L485.6,82.9 L486.4,82.5 L487.2,82.5 L488.0,82.4 L488.8,82.5 L489.6,82.6 L490.4,82.6 L491.2,82.6 L492.0,82.6 L492.8,82.3 L493.6,82.5 L494.4,82.3 L495.2,82.5 L496.0,82.5 L496.8,82.4 L497.6,82.6 L498.4,82.4 L499.2,82.7 L500.0,82.6 L500.8,82.6 L501.6,82.6 L502.4,82.6 L503.2,82.5 L504.0,82.7 L504.8,82.4" fill="none" stroke="#4040c0" stroke-width="0.8" stroke-linejoin="round" />
<path d="M304.0,74.9 L304.8,74.8 L305.6,74.8 L306.4,75.0 L307.2,74.8 L308.0,75.3 L308.8,75.4 L309.6,75.3 L310.4,75.6 L311.2,75.4 L312.0,75.4 L312.8,76.0 L313.6,76.3 L314.4,77.1 L315.2,76.6 L316.0,76.9 L316.8,77.0 L317.6,77.3 L318.4,76.8 L319.2,77.0 L320.0,76.8 L320.8,76.7 L321.6,76.7 L322.4,76.8 L323.2,77.4 L324.0,77.2 L324.8,77.5 L325.6,79.0 L326.4,80.7 L327.2,81.8 L328.0,81.9 L328.8,82.2 L329.6,82.3 L330.4,81.8 L331.2,82.3 L332.0,82.5 L332.8,81.9 L333.6,82.0 L334.4,82.0 L335.2,82.1 L336.0,81.8 L336.8,81.4 L337.6,81.3 L338.4,81.2 L339.2,80.8 L340.0,80.9 L340.8,80.2 L341.6,79.5 L342.4,79.1 L343.2,78.7 L344.0,78.0 L344.8,77.4 L345.6,76.6 L346.4,76.2 L347.2,75.2 L348.0,74.8 L348.8,73.7 L349.6,73.5 L350.4,73.7 L351.2,73.6 L352.0,73.9 L352.8,74.0 L353.6,74.1 L354.4,74.9 L355.2,75.1 L356.0,74.6 L356.8,75.1 L357.6,75.3 L358.4,75.3 L359.2,74.3 L360.0,72.8 L360.8,72.0 L361.6,70.5 L362.4,69.4 L363.2,67.6 L364.0,66.3 L364.8,64.7 L365.6,63.2 L366.4,61.7 L367.2,61.7 L368.0,61.6 L368.8,61.6 L369.6,62.3 L370.4,62.9 L371.2,63.6 L372.0,64.1 L372.8,64.0 L373.6,64.7 L374.4,64.7 L375.2,64.7 L376.0,65.3 L376.8,65.1 L377.6,65.1 L378.4,65.8 L379.2,66.1 L380.0,65.9 L380.8,66.6 L381.6,66.9 L382.4,66.9 L383.2,67.9 L384.0,67.8 L384.8,68.3 L385.6,68.2 L386.4,69.7 L387.2,70.3 L388.0,71.7 L388.8,72.3 L389.6,74.3 L390.4,75.9 L391.2,77.6 L392.0,77.9 L392.8,79.9 L393.6,80.4 L394.4,80.0 L395.2,80.9 L396.0,81.3 L396.8,81.8 L397.6,81.2 L398.4,81.4 L399.2,81.4 L400.0,81.4 L400.8,81.3 L401.6,81.4 L402.4,81.4 L403.2,81.1 L404.0,81.3 L404.8,81.1 L405.6,81.1 L406.4,81.2 L407.2,81.1 L408.0,81.1 L408.8,81.1 L409.6,81.1 L410.4,80.9 L411.2,80.9 L412.0,81.0 L412.8,81.0 L413.6,80.9 L414.4,80.9 L415.2,81.0 L416.0,80.8 L416.8,80.7 L417.6,80.8 L418.4,80.8 L419.2,80.8 L420.0,80.7 L420.8,80.7 L421.6,80.7 L422.4,80.6 L423.2,80.7 L424.0,80.7 L424.8,80.7 L425.6,80.8 L426.4,80.6 L427.2,80.7 L428.0,80.7 L428.8,80.8 L429.6,80.5 L430.4,80.5 L431.2,80.6 L432.0,80.4 L432.8,80.4 L433.6,80.4 L434.4,80.4 L435.2,80.2 L436.0,80.4 L436.8,80.3 L437.6,80.3 L438.4,80.3 L439.2,80.2 L440.0,80.3 L440.8,80.2 L441.6,80.1 L442.4,80.1 L443.2,80.2 L444.0,80.2 L444.8,80.2 L445.6,80.0 L446.4,80.1 L447.2,80.2 L448.0,80.0 L448.8,80.2 L449.6,80.1 L450.4,80.0 L451.2,79.9 L452.0,80.1 L452.8,80.0 L453.6,80.0 L454.4,79.9 L455.2,80.2 L456.0,80.1 L456.8,80.1 L457.6,80.1 L458.4,80.1 L459.2,80.1 L460.0,80.2 L460.8,80.1 L461.6,79.9 L462.4,80.3 L463.2,80.3 L464.0,80.3 L464.8,80.5 L465.6,80.2 L466.4,80.1 L467.2,80.5 L468.0,80.5 L468.8,80.3 L469.6,80.5 L470.4,80.6 L471.2,80.5 L472.0,80.7 L472.8,81.0 L473.6,81.0 L474.4,81.0 L475.2,81.1 L476.0,81.1 L476.8,81.4 L477.6,81.5 L478.4,81.6 L479.2,81.7 L480.0,82.1 L480.8,82.1 L481.6,82.1 L482.4,82.2 L483.2,82.5 L484.0,82.6 L484.8,82.4 L485.6,82.6 L486.4,82.7 L487.2,82.6 L488.0,82.5 L488.8,82.6 L489.6,82.7 L490.4,82.7 L491.2,82.6 L492.0,82.8 L492.8,82.9 L493.6,82.9 L494.4,82.8 L495.2,83.0 L496.0,82.7 L496.8,82.8 L497.6,82.6 L498.4,82.8 L499.2,82.6 L500.0,82.4 L500.8,82.5 L501.6,82.6 L502.4,82.5 L503.2,82.3 L504.0,82.3 L504.8,81.9" fill="none" stroke="#303030" stroke-width="0.8" stroke-linejoin="round" />
<text transform="translate(307.00,67.40) scale(1.0,1)" font-size="8.6" text-anchor="start" fill="#222" stroke="#222" stroke-width="0.2" >h</text>
<text transform="translate(302.00,64.17) scale(0.835,1)" font-size="9.0" text-anchor="end" fill="#262626" stroke="#262626" stroke-width="0.2" >400</text>
<text transform="translate(302.00,75.87) scale(0.835,1)" font-size="9.0" text-anchor="end" fill="#262626" stroke="#262626" stroke-width="0.2" >200</text>
<text transform="translate(302.00,87.57) scale(0.835,1)" font-size="9.0" text-anchor="end" fill="#262626" stroke="#262626" stroke-width="0.2" >0</text>
<text transform="translate(302.00,99.27) scale(0.835,1)" font-size="9.0" text-anchor="end" fill="#262626" stroke="#262626" stroke-width="0.2" >-200</text>
<line x1="304.0" y1="109.50" x2="505.5" y2="109.50" stroke="#e2e2e2" stroke-width="0.7"/>
<line x1="304.0" y1="125.00" x2="505.5" y2="125.00" stroke="#e2e2e2" stroke-width="0.7"/>
<line x1="304.0" y1="140.50" x2="505.5" y2="140.50" stroke="#e2e2e2" stroke-width="0.7"/>
<line x1="354.38" y1="101.8" x2="354.38" y2="149.0" stroke="#e2e2e2" stroke-width="0.7"/>
<line x1="404.75" y1="101.8" x2="404.75" y2="149.0" stroke="#e2e2e2" stroke-width="0.7"/>
<line x1="455.12" y1="101.8" x2="455.12" y2="149.0" stroke="#e2e2e2" stroke-width="0.7"/>
<path d="M304.0,109.50h2.2M505.5,109.50h-2.2M304.0,125.00h2.2M505.5,125.00h-2.2M304.0,140.50h2.2M505.5,140.50h-2.2M304.0,132.75h1.3M505.5,132.75h-1.3M304.0,117.25h1.3M505.5,117.25h-1.3M354.38,101.8v2.2M354.38,149.0v-2.2M404.75,101.8v2.2M404.75,149.0v-2.2M455.12,101.8v2.2M455.12,149.0v-2.2M314.07,101.8v1.3M314.07,149.0v-1.3M324.15,101.8v1.3M324.15,149.0v-1.3M334.23,101.8v1.3M334.23,149.0v-1.3M344.30,101.8v1.3M344.30,149.0v-1.3M364.45,101.8v1.3M364.45,149.0v-1.3M374.52,101.8v1.3M374.52,149.0v-1.3M384.60,101.8v1.3M384.60,149.0v-1.3M394.68,101.8v1.3M394.68,149.0v-1.3M414.82,101.8v1.3M414.82,149.0v-1.3M424.90,101.8v1.3M424.90,149.0v-1.3M434.98,101.8v1.3M434.98,149.0v-1.3M445.05,101.8v1.3M445.05,149.0v-1.3M465.20,101.8v1.3M465.20,149.0v-1.3M475.27,101.8v1.3M475.27,149.0v-1.3M485.35,101.8v1.3M485.35,149.0v-1.3M495.43,101.8v1.3M495.43,149.0v-1.3" stroke="#555" stroke-width="0.6" fill="none"/>
<path d="M304.0,125.3 L305.0,123.7 L306.0,122.4 L307.0,121.4 L308.0,120.7 L309.0,120.1 L310.0,119.5 L311.0,119.4 L312.0,118.5 L313.0,118.5 L314.0,118.6 L315.0,118.3 L316.0,118.4 L317.0,118.4 L318.0,118.1 L319.0,118.3 L320.0,118.3 L321.0,117.4 L322.0,116.6 L323.0,116.8 L324.0,116.9 L325.0,117.8 L326.0,118.3 L327.0,119.2 L328.0,120.2 L329.0,121.0 L330.0,121.5 L331.0,122.1 L332.0,122.6 L333.0,123.2 L334.0,123.9 L335.0,124.2 L336.0,124.2 L337.0,124.3 L338.0,124.1 L339.0,124.0 L340.0,123.7 L341.0,123.9 L342.0,123.2 L343.0,124.0 L344.0,124.2 L345.0,125.2 L346.0,126.1 L347.0,127.7 L348.0,129.9 L349.0,131.1 L350.0,132.0 L351.0,132.8 L352.0,133.1 L353.0,133.2 L354.0,132.5 L355.0,132.0 L356.0,131.2 L357.0,129.9 L358.0,129.2 L359.0,127.9 L360.0,127.6 L361.0,126.9 L362.0,125.8 L363.0,124.6 L364.0,123.4 L365.0,122.3 L366.0,121.7 L367.0,121.6 L368.0,121.9 L369.0,121.5 L370.0,121.9 L371.0,122.1 L372.0,122.4 L373.0,123.4 L374.0,123.8 L375.0,124.6 L376.0,125.3 L377.0,126.2 L378.0,126.3 L379.0,126.9 L380.0,127.3 L381.0,127.6 L382.0,127.2 L383.0,127.1 L384.0,126.8 L385.0,126.3 L386.0,125.6 L387.0,124.6 L388.0,123.5 L389.0,121.5 L390.0,119.7 L391.0,117.4 L392.0,115.1 L393.0,112.7 L394.0,111.1 L395.0,109.9 L396.0,109.3 L397.0,109.1 L398.0,109.0 L399.0,109.5 L400.0,111.2 L401.0,112.6 L402.0,114.3 L403.0,116.3 L404.0,118.5 L405.0,119.1 L406.0,120.1 L407.0,121.1 L408.0,122.1 L409.0,122.5 L410.0,123.0 L411.0,123.6 L412.0,123.9 L413.0,124.5 L414.0,124.9 L415.0,125.1 L416.0,125.8 L417.0,126.0 L418.0,126.9 L419.0,127.0 L420.0,127.7 L421.0,128.0 L422.0,128.9 L423.0,129.5 L424.0,130.9 L425.0,131.4 L426.0,132.4 L427.0,132.9 L428.0,133.9 L429.0,135.0 L430.0,135.9 L431.0,137.5 L432.0,138.3 L433.0,139.5 L434.0,140.5 L435.0,141.1 L436.0,141.7 L437.0,141.9 L438.0,142.4 L439.0,142.7 L440.0,142.4 L441.0,141.9 L442.0,141.1 L443.0,140.4 L444.0,139.8 L445.0,138.9 L446.0,138.1 L447.0,138.0 L448.0,137.6 L449.0,137.3 L450.0,136.9 L451.0,136.8 L452.0,135.8 L453.0,135.3 L454.0,135.0 L455.0,134.0 L456.0,133.6 L457.0,132.9 L458.0,132.0 L459.0,132.2 L460.0,132.3 L461.0,132.0 L462.0,131.7 L463.0,132.1 L464.0,131.8 L465.0,132.0 L466.0,132.1 L467.0,131.8 L468.0,131.7 L469.0,132.8 L470.0,134.1 L471.0,135.5 L472.0,136.6 L473.0,137.3 L474.0,136.5 L475.0,135.0 L476.0,133.3 L477.0,131.8 L478.0,130.9 L479.0,130.4 L480.0,129.8 L481.0,129.7 L482.0,129.5 L483.0,129.5 L484.0,129.8 L485.0,130.0 L486.0,130.3 L487.0,130.6 L488.0,131.0 L489.0,131.7 L490.0,131.9 L491.0,132.4 L492.0,132.9 L493.0,133.6 L494.0,134.1 L495.0,134.8 L496.0,134.8 L497.0,134.5 L498.0,134.2 L499.0,132.9 L500.0,132.0 L501.0,130.5 L502.0,129.4 L503.0,126.7 L504.0,124.6 L505.0,121.9" fill="none" stroke="#111" stroke-width="2.3" stroke-linejoin="round" />
<text transform="translate(307.00,114.70) scale(1.0,1)" font-size="8.6" text-anchor="start" fill="#222" stroke="#222" stroke-width="0.2" >i</text>
<text transform="translate(302.00,112.47) scale(0.835,1)" font-size="9.0" text-anchor="end" fill="#262626" stroke="#262626" stroke-width="0.2" >5</text>
<text transform="translate(302.00,127.97) scale(0.835,1)" font-size="9.0" text-anchor="end" fill="#262626" stroke="#262626" stroke-width="0.2" >0</text>
<text transform="translate(302.00,143.47) scale(0.835,1)" font-size="9.0" text-anchor="end" fill="#262626" stroke="#262626" stroke-width="0.2" >-5</text>
<rect x="304.0" y="149.0" width="80.50" height="47.40" fill="url(#g1)"/>
<rect x="399.50" y="149.0" width="106.00" height="47.40" fill="url(#g2)"/>
<rect x="383.80" y="149.0" width="2.40" height="47.40" fill="url(#g3)"/>
<rect x="385.80" y="149.0" width="2.40" height="47.40" fill="url(#g4)"/>
<rect x="387.80" y="149.0" width="2.40" height="47.40" fill="url(#g5)"/>
<rect x="389.80" y="149.0" width="2.40" height="47.40" fill="url(#g6)"/>
<rect x="391.80" y="149.0" width="2.40" height="47.40" fill="url(#g7)"/>
<rect x="393.80" y="149.0" width="2.40" height="47.40" fill="url(#g8)"/>
<rect x="395.80" y="149.0" width="2.40" height="47.40" fill="url(#g9)"/>
<rect x="397.80" y="149.0" width="2.40" height="47.40" fill="url(#g10)"/>
<rect x="304.0" y="196.4" width="85.50" height="47.20" fill="url(#g11)"/>
<rect x="400.50" y="196.4" width="105.00" height="47.20" fill="url(#g12)"/>
<rect x="388.80" y="196.4" width="2.40" height="47.20" fill="url(#g13)"/>
<rect x="390.80" y="196.4" width="2.40" height="47.20" fill="url(#g14)"/>
<rect x="392.80" y="196.4" width="2.40" height="47.20" fill="url(#g15)"/>
<rect x="394.80" y="196.4" width="2.40" height="47.20" fill="url(#g16)"/>
<rect x="396.80" y="196.4" width="2.40" height="47.20" fill="url(#g17)"/>
<rect x="398.80" y="196.4" width="2.40" height="47.20" fill="url(#g18)"/>
<rect x="428.8" y="192.1" width="1.6" height="1.2" fill="#0014ff"/><rect x="494.8" y="185.3" width="1.6" height="1.2" fill="#00eaff"/><rect x="431.8" y="188.9" width="1.6" height="1.2" fill="#0099ff"/><rect x="430.0" y="185.7" width="1.6" height="1.2" fill="#0090ff"/><rect x="479.1" y="192.9" width="1.6" height="1.2" fill="#0045ff"/><rect x="435.0" y="191.1" width="1.6" height="1.2" fill="#0070ff"/><rect x="448.1" y="189.7" width="1.6" height="1.2" fill="#004cff"/><rect x="395.4" y="193.6" width="1.6" height="1.2" fill="#0017ff"/><rect x="476.8" y="185.1" width="1.6" height="1.2" fill="#00b8ff"/><rect x="455.9" y="192.7" width="1.6" height="1.2" fill="#0027ff"/><rect x="461.9" y="194.5" width="1.6" height="1.2" fill="#0022ff"/><rect x="490.9" y="188.9" width="1.6" height="1.2" fill="#005cff"/><rect x="448.8" y="195.1" width="1.6" height="1.2" fill="#0010ff"/><rect x="478.8" y="183.9" width="1.6" height="1.2" fill="#00f7ff"/><rect x="475.9" y="185.5" width="1.6" height="1.2" fill="#00b8ff"/><rect x="495.4" y="192.6" width="1.6" height="1.2" fill="#0047ff"/><rect x="422.9" y="184.9" width="1.6" height="1.2" fill="#00a2ff"/><rect x="439.4" y="194.2" width="1.6" height="1.2" fill="#0000f7"/><rect x="496.6" y="183.8" width="1.6" height="1.2" fill="#00d5ff"/><rect x="475.0" y="190.2" width="1.6" height="1.2" fill="#0049ff"/><rect x="414.9" y="194.6" width="1.6" height="1.2" fill="#002cff"/><rect x="476.5" y="195.1" width="1.6" height="1.2" fill="#0000f6"/><rect x="399.5" y="183.9" width="1.6" height="1.2" fill="#00dcff"/><rect x="484.6" y="193.0" width="1.6" height="1.2" fill="#0056ff"/><rect x="392.3" y="186.4" width="1.6" height="1.2" fill="#009dff"/><rect x="409.6" y="185.1" width="1.6" height="1.2" fill="#00d4ff"/><rect x="448.6" y="187.6" width="1.6" height="1.2" fill="#0025ff"/><rect x="423.0" y="192.9" width="1.6" height="1.2" fill="#0042ff"/><rect x="409.6" y="186.9" width="1.6" height="1.2" fill="#00cbff"/><rect x="430.9" y="188.0" width="1.6" height="1.2" fill="#0053ff"/><rect x="462.6" y="185.3" width="1.6" height="1.2" fill="#00dbff"/><rect x="491.2" y="189.4" width="1.6" height="1.2" fill="#00b0ff"/><rect x="416.0" y="187.0" width="1.6" height="1.2" fill="#00b6ff"/><rect x="445.2" y="192.3" width="1.6" height="1.2" fill="#004eff"/><rect x="470.8" y="188.9" width="1.6" height="1.2" fill="#006fff"/><rect x="398.7" y="193.8" width="1.6" height="1.2" fill="#004dff"/><rect x="399.1" y="193.4" width="1.6" height="1.2" fill="#0045ff"/><rect x="487.6" y="185.3" width="1.6" height="1.2" fill="#00beff"/><rect x="488.4" y="194.1" width="1.6" height="1.2" fill="#0000f8"/><rect x="494.6" y="184.6" width="1.6" height="1.2" fill="#00c8ff"/><rect x="501.0" y="194.7" width="1.6" height="1.2" fill="#0036ff"/><rect x="429.6" y="192.0" width="1.6" height="1.2" fill="#003dff"/><rect x="431.8" y="193.6" width="1.6" height="1.2" fill="#0000be"/><rect x="406.5" y="189.3" width="1.6" height="1.2" fill="#008bff"/><rect x="426.9" y="193.2" width="1.6" height="1.2" fill="#001aff"/><rect x="416.3" y="188.1" width="1.6" height="1.2" fill="#00aaff"/><rect x="448.4" y="192.4" width="1.6" height="1.2" fill="#001cff"/><rect x="483.9" y="193.4" width="1.6" height="1.2" fill="#0042ff"/><rect x="490.7" y="188.2" width="1.6" height="1.2" fill="#0082ff"/><rect x="482.6" y="192.1" width="1.6" height="1.2" fill="#0044ff"/><rect x="396.0" y="186.1" width="1.6" height="1.2" fill="#0094ff"/><rect x="476.5" y="194.3" width="1.6" height="1.2" fill="#0012ff"/><rect x="435.2" y="195.0" width="1.6" height="1.2" fill="#0020ff"/><rect x="412.4" y="194.6" width="1.6" height="1.2" fill="#0005ff"/><rect x="445.5" y="192.7" width="1.6" height="1.2" fill="#0037ff"/><rect x="487.5" y="189.8" width="1.6" height="1.2" fill="#007aff"/><rect x="429.9" y="190.9" width="1.6" height="1.2" fill="#003aff"/><rect x="449.1" y="191.6" width="1.6" height="1.2" fill="#0042ff"/><rect x="469.9" y="189.4" width="1.6" height="1.2" fill="#0058ff"/><rect x="414.8" y="187.8" width="1.6" height="1.2" fill="#0056ff"/><rect x="490.7" y="190.4" width="1.6" height="1.2" fill="#0080ff"/><rect x="454.6" y="194.6" width="1.6" height="1.2" fill="#0053ff"/><rect x="492.4" y="187.1" width="1.6" height="1.2" fill="#00cdff"/><rect x="425.7" y="192.4" width="1.6" height="1.2" fill="#0011ff"/><rect x="431.9" y="184.7" width="1.6" height="1.2" fill="#00c6ff"/><rect x="393.2" y="190.1" width="1.6" height="1.2" fill="#0081ff"/><rect x="404.2" y="184.0" width="1.6" height="1.2" fill="#00e0ff"/><rect x="457.1" y="192.5" width="1.6" height="1.2" fill="#002bff"/><rect x="444.7" y="192.3" width="1.6" height="1.2" fill="#00b0ff"/><rect x="397.5" y="190.4" width="1.6" height="1.2" fill="#003aff"/><rect x="437.1" y="184.9" width="1.6" height="1.2" fill="#18ffe7"/><rect x="491.2" y="192.3" width="1.6" height="1.2" fill="#003fff"/><rect x="422.5" y="185.8" width="1.6" height="1.2" fill="#0083ff"/><rect x="435.7" y="185.3" width="1.6" height="1.2" fill="#00b3ff"/><rect x="415.9" y="184.4" width="1.6" height="1.2" fill="#00acff"/><rect x="396.1" y="189.0" width="1.6" height="1.2" fill="#005fff"/><rect x="427.1" y="190.1" width="1.6" height="1.2" fill="#0060ff"/><rect x="430.3" y="186.7" width="1.6" height="1.2" fill="#0092ff"/><rect x="439.2" y="186.6" width="1.6" height="1.2" fill="#0080ff"/><rect x="415.5" y="188.2" width="1.6" height="1.2" fill="#0088ff"/><rect x="482.8" y="191.4" width="1.6" height="1.2" fill="#003eff"/><rect x="422.4" y="193.3" width="1.6" height="1.2" fill="#0039ff"/><rect x="404.6" y="186.5" width="1.6" height="1.2" fill="#00bfff"/><rect x="440.8" y="185.4" width="1.6" height="1.2" fill="#00c4ff"/><rect x="424.8" y="191.2" width="1.6" height="1.2" fill="#004eff"/><rect x="409.6" y="193.7" width="1.6" height="1.2" fill="#0020ff"/><rect x="468.5" y="193.4" width="1.6" height="1.2" fill="#0000ac"/><rect x="442.5" y="191.9" width="1.6" height="1.2" fill="#006fff"/><rect x="477.7" y="191.8" width="1.6" height="1.2" fill="#002eff"/><rect x="392.8" y="191.4" width="1.6" height="1.2" fill="#001aff"/><rect x="460.2" y="191.4" width="1.6" height="1.2" fill="#0011ff"/><rect x="406.8" y="190.4" width="1.6" height="1.2" fill="#005bff"/><rect x="448.2" y="183.8" width="1.6" height="1.2" fill="#00c9ff"/><rect x="412.5" y="195.3" width="1.6" height="1.2" fill="#000fff"/><rect x="435.3" y="190.2" width="1.6" height="1.2" fill="#0042ff"/><rect x="393.4" y="189.4" width="1.6" height="1.2" fill="#00a7ff"/><rect x="411.9" y="184.3" width="1.6" height="1.2" fill="#10ffef"/><rect x="466.9" y="194.9" width="1.6" height="1.2" fill="#0000fb"/><rect x="486.1" y="190.5" width="1.6" height="1.2" fill="#004bff"/><rect x="433.0" y="195.2" width="1.6" height="1.2" fill="#0000ee"/><rect x="467.2" y="191.8" width="1.6" height="1.2" fill="#0065ff"/><rect x="452.5" y="185.1" width="1.6" height="1.2" fill="#00e1ff"/><rect x="455.8" y="185.6" width="1.6" height="1.2" fill="#00acff"/><rect x="501.7" y="190.2" width="1.6" height="1.2" fill="#0010ff"/><rect x="406.6" y="193.2" width="1.6" height="1.2" fill="#001dff"/><rect x="476.7" y="188.6" width="1.6" height="1.2" fill="#0070ff"/><rect x="501.4" y="191.6" width="1.6" height="1.2" fill="#0008ff"/><rect x="438.2" y="186.1" width="1.6" height="1.2" fill="#00acff"/><rect x="492.5" y="189.2" width="1.6" height="1.2" fill="#004eff"/><rect x="444.0" y="188.5" width="1.6" height="1.2" fill="#0045ff"/><rect x="450.0" y="192.1" width="1.6" height="1.2" fill="#0011ff"/><rect x="395.2" y="194.7" width="1.6" height="1.2" fill="#0000f7"/><rect x="441.4" y="189.6" width="1.6" height="1.2" fill="#0052ff"/><rect x="396.6" y="193.5" width="1.6" height="1.2" fill="#0016ff"/><rect x="452.2" y="188.3" width="1.6" height="1.2" fill="#0070ff"/><rect x="470.7" y="188.9" width="1.6" height="1.2" fill="#005cff"/><rect x="455.8" y="189.0" width="1.6" height="1.2" fill="#0058ff"/><rect x="395.1" y="194.2" width="1.6" height="1.2" fill="#000cff"/><rect x="407.6" y="191.8" width="1.6" height="1.2" fill="#0042ff"/><rect x="445.8" y="189.9" width="1.6" height="1.2" fill="#0090ff"/><rect x="468.5" y="188.9" width="1.6" height="1.2" fill="#005cff"/><rect x="465.6" y="185.3" width="1.6" height="1.2" fill="#00c1ff"/><rect x="411.7" y="184.9" width="1.6" height="1.2" fill="#00f3ff"/><rect x="396.3" y="185.7" width="1.6" height="1.2" fill="#0092ff"/><rect x="452.9" y="188.6" width="1.6" height="1.2" fill="#001bff"/><rect x="503.7" y="192.4" width="1.6" height="1.2" fill="#001eff"/><rect x="464.5" y="192.2" width="1.6" height="1.2" fill="#0021ff"/><rect x="473.9" y="187.9" width="1.6" height="1.2" fill="#004cff"/><rect x="424.9" y="193.4" width="1.6" height="1.2" fill="#0018ff"/><rect x="490.5" y="195.3" width="1.6" height="1.2" fill="#002dff"/><rect x="446.1" y="190.2" width="1.6" height="1.2" fill="#00a4ff"/><rect x="402.3" y="192.5" width="1.6" height="1.2" fill="#007dff"/><rect x="414.7" y="187.6" width="1.6" height="1.2" fill="#0080ff"/><rect x="499.4" y="187.8" width="1.6" height="1.2" fill="#008aff"/><rect x="399.9" y="190.0" width="1.6" height="1.2" fill="#0080ff"/><rect x="489.0" y="185.7" width="1.6" height="1.2" fill="#00deff"/><rect x="434.9" y="192.5" width="1.6" height="1.2" fill="#006fff"/><rect x="430.6" y="192.2" width="1.6" height="1.2" fill="#0043ff"/><rect x="442.6" y="193.9" width="1.6" height="1.2" fill="#0039ff"/><rect x="419.3" y="187.8" width="1.6" height="1.2" fill="#00d2ff"/><rect x="451.8" y="188.5" width="1.6" height="1.2" fill="#00b0ff"/><rect x="394.3" y="193.2" width="1.6" height="1.2" fill="#0040ff"/><rect x="399.7" y="190.9" width="1.6" height="1.2" fill="#0037ff"/><rect x="416.3" y="192.5" width="1.6" height="1.2" fill="#005fff"/><rect x="498.4" y="186.4" width="1.6" height="1.2" fill="#00f5ff"/><rect x="405.5" y="195.4" width="1.6" height="1.2" fill="#0000fd"/><rect x="465.7" y="186.7" width="1.6" height="1.2" fill="#00ccff"/><rect x="457.3" y="186.8" width="1.6" height="1.2" fill="#0061ff"/><rect x="493.9" y="185.3" width="1.6" height="1.2" fill="#00b6ff"/><rect x="500.1" y="193.7" width="1.6" height="1.2" fill="#000bff"/><rect x="403.2" y="191.2" width="1.6" height="1.2" fill="#007aff"/><rect x="501.9" y="185.0" width="1.6" height="1.2" fill="#00baff"/><rect x="449.7" y="193.7" width="1.6" height="1.2" fill="#0000db"/><rect x="396.4" y="184.4" width="1.6" height="1.2" fill="#00deff"/><rect x="407.2" y="189.6" width="1.6" height="1.2" fill="#007bff"/><rect x="448.9" y="190.4" width="1.6" height="1.2" fill="#005aff"/><rect x="470.1" y="183.9" width="1.6" height="1.2" fill="#00edff"/><rect x="409.0" y="188.3" width="1.6" height="1.2" fill="#0067ff"/><rect x="486.4" y="194.0" width="1.6" height="1.2" fill="#004fff"/><rect x="452.0" y="193.0" width="1.6" height="1.2" fill="#0056ff"/><rect x="395.6" y="194.0" width="1.6" height="1.2" fill="#003bff"/><rect x="440.2" y="186.5" width="1.6" height="1.2" fill="#0081ff"/><rect x="416.1" y="186.5" width="1.6" height="1.2" fill="#0084ff"/><rect x="477.3" y="193.6" width="1.6" height="1.2" fill="#0000f4"/><rect x="499.5" y="188.2" width="1.6" height="1.2" fill="#00caff"/><rect x="455.1" y="188.1" width="1.6" height="1.2" fill="#00b0ff"/><rect x="457.0" y="194.1" width="1.6" height="1.2" fill="#0031ff"/><rect x="430.1" y="185.8" width="1.6" height="1.2" fill="#0081ff"/><rect x="463.6" y="186.1" width="1.6" height="1.2" fill="#00c5ff"/><rect x="401.0" y="184.5" width="1.6" height="1.2" fill="#00e4ff"/><rect x="480.1" y="189.8" width="1.6" height="1.2" fill="#0038ff"/><rect x="493.8" y="195.2" width="1.6" height="1.2" fill="#002cff"/><rect x="441.2" y="190.0" width="1.6" height="1.2" fill="#0059ff"/><rect x="400.8" y="188.7" width="1.6" height="1.2" fill="#0096ff"/><rect x="450.7" y="183.6" width="1.6" height="1.2" fill="#00d9ff"/><rect x="446.1" y="185.4" width="1.6" height="1.2" fill="#00bcff"/><rect x="456.8" y="191.9" width="1.6" height="1.2" fill="#005fff"/><rect x="441.4" y="183.5" width="1.6" height="1.2" fill="#00d6ff"/><rect x="437.8" y="186.5" width="1.6" height="1.2" fill="#00c4ff"/><rect x="462.9" y="189.7" width="1.6" height="1.2" fill="#008fff"/><rect x="394.8" y="183.8" width="1.6" height="1.2" fill="#20ffdf"/><rect x="437.6" y="190.1" width="1.6" height="1.2" fill="#004dff"/><rect x="469.6" y="195.3" width="1.6" height="1.2" fill="#003bff"/><rect x="415.1" y="192.1" width="1.6" height="1.2" fill="#0082ff"/><rect x="469.3" y="190.3" width="1.6" height="1.2" fill="#0052ff"/><rect x="413.2" y="186.2" width="1.6" height="1.2" fill="#00acff"/><rect x="491.3" y="192.0" width="1.6" height="1.2" fill="#0091ff"/><rect x="437.6" y="183.9" width="1.6" height="1.2" fill="#45ffba"/><rect x="490.8" y="188.0" width="1.6" height="1.2" fill="#0084ff"/><rect x="497.6" y="186.1" width="1.6" height="1.2" fill="#0096ff"/><rect x="434.8" y="187.8" width="1.6" height="1.2" fill="#00c1ff"/><rect x="422.3" y="186.6" width="1.6" height="1.2" fill="#0096ff"/><rect x="444.2" y="188.8" width="1.6" height="1.2" fill="#0075ff"/><rect x="436.3" y="193.3" width="1.6" height="1.2" fill="#0033ff"/><rect x="406.2" y="186.0" width="1.6" height="1.2" fill="#00afff"/><rect x="462.6" y="184.1" width="1.6" height="1.2" fill="#00ceff"/><rect x="449.4" y="191.6" width="1.6" height="1.2" fill="#006eff"/><rect x="464.2" y="194.0" width="1.6" height="1.2" fill="#0028ff"/><rect x="414.5" y="193.8" width="1.6" height="1.2" fill="#0006ff"/><rect x="392.4" y="192.8" width="1.6" height="1.2" fill="#0028ff"/><rect x="403.6" y="192.5" width="1.6" height="1.2" fill="#0005ff"/><rect x="494.8" y="189.0" width="1.6" height="1.2" fill="#0092ff"/><rect x="494.2" y="187.1" width="1.6" height="1.2" fill="#006fff"/><rect x="403.3" y="185.6" width="1.6" height="1.2" fill="#00b2ff"/><rect x="489.3" y="187.9" width="1.6" height="1.2" fill="#0080ff"/><rect x="418.1" y="189.4" width="1.6" height="1.2" fill="#007fff"/><rect x="408.1" y="186.2" width="1.6" height="1.2" fill="#00dfff"/><rect x="439.9" y="185.2" width="1.6" height="1.2" fill="#00b8ff"/><rect x="456.6" y="190.8" width="1.6" height="1.2" fill="#0089ff"/><rect x="455.7" y="184.1" width="1.6" height="1.2" fill="#00a7ff"/><rect x="460.0" y="189.5" width="1.6" height="1.2" fill="#0057ff"/><rect x="415.1" y="191.0" width="1.6" height="1.2" fill="#0043ff"/><rect x="400.2" y="192.6" width="1.6" height="1.2" fill="#005aff"/><rect x="462.6" y="192.9" width="1.6" height="1.2" fill="#004eff"/><rect x="473.9" y="192.3" width="1.6" height="1.2" fill="#0084ff"/><rect x="420.9" y="190.3" width="1.6" height="1.2" fill="#003eff"/><rect x="437.3" y="189.8" width="1.6" height="1.2" fill="#008bff"/><rect x="481.0" y="194.7" width="1.6" height="1.2" fill="#0000e5"/><rect x="394.6" y="194.3" width="1.6" height="1.2" fill="#0023ff"/><rect x="504.0" y="192.9" width="1.6" height="1.2" fill="#000fff"/><rect x="502.2" y="185.1" width="1.6" height="1.2" fill="#25ffda"/><rect x="455.0" y="194.4" width="1.6" height="1.2" fill="#0013ff"/><rect x="448.9" y="193.7" width="1.6" height="1.2" fill="#0000df"/><rect x="484.6" y="190.7" width="1.6" height="1.2" fill="#0047ff"/><rect x="447.9" y="193.0" width="1.6" height="1.2" fill="#0052ff"/><rect x="402.9" y="191.3" width="1.6" height="1.2" fill="#0039ff"/><rect x="492.5" y="187.6" width="1.6" height="1.2" fill="#0079ff"/><rect x="427.0" y="194.7" width="1.6" height="1.2" fill="#001aff"/><rect x="424.5" y="189.8" width="1.6" height="1.2" fill="#0049ff"/><rect x="461.7" y="191.6" width="1.6" height="1.2" fill="#0087ff"/><rect x="440.5" y="189.4" width="1.6" height="1.2" fill="#006eff"/><rect x="414.4" y="193.4" width="1.6" height="1.2" fill="#000cff"/><rect x="436.6" y="195.1" width="1.6" height="1.2" fill="#0000f7"/><rect x="449.3" y="189.8" width="1.6" height="1.2" fill="#009dff"/><rect x="451.3" y="184.6" width="1.6" height="1.2" fill="#00a9ff"/><rect x="430.2" y="191.4" width="1.6" height="1.2" fill="#008cff"/><rect x="503.5" y="192.3" width="1.6" height="1.2" fill="#0038ff"/><rect x="405.5" y="189.4" width="1.6" height="1.2" fill="#005aff"/><rect x="445.5" y="192.2" width="1.6" height="1.2" fill="#0057ff"/><rect x="399.0" y="191.0" width="1.6" height="1.2" fill="#0043ff"/><rect x="435.9" y="194.9" width="1.6" height="1.2" fill="#0000fe"/><rect x="415.0" y="189.5" width="1.6" height="1.2" fill="#0042ff"/><rect x="498.9" y="195.1" width="1.6" height="1.2" fill="#0038ff"/><rect x="479.3" y="188.9" width="1.6" height="1.2" fill="#0064ff"/><rect x="488.9" y="192.4" width="1.6" height="1.2" fill="#0067ff"/><rect x="478.6" y="194.4" width="1.6" height="1.2" fill="#000eff"/><rect x="420.7" y="183.6" width="1.6" height="1.2" fill="#00b7ff"/><rect x="465.7" y="187.9" width="1.6" height="1.2" fill="#00bcff"/><rect x="406.9" y="183.9" width="1.6" height="1.2" fill="#23ffdc"/><rect x="465.9" y="194.9" width="1.6" height="1.2" fill="#001dff"/><rect x="409.5" y="185.9" width="1.6" height="1.2" fill="#009fff"/><rect x="424.6" y="189.9" width="1.6" height="1.2" fill="#0088ff"/><rect x="463.8" y="184.0" width="1.6" height="1.2" fill="#00c4ff"/><rect x="451.8" y="189.9" width="1.6" height="1.2" fill="#0000cc"/><rect x="500.2" y="189.5" width="1.6" height="1.2" fill="#005aff"/><rect x="478.1" y="186.5" width="1.6" height="1.2" fill="#00acff"/><rect x="461.1" y="194.3" width="1.6" height="1.2" fill="#002aff"/><rect x="490.5" y="185.9" width="1.6" height="1.2" fill="#00adff"/><rect x="400.6" y="186.9" width="1.6" height="1.2" fill="#00ccff"/><rect x="402.5" y="192.8" width="1.6" height="1.2" fill="#0020ff"/><rect x="383.8" y="194.7" width="1.6" height="1.2" fill="#00cdff"/><rect x="318.7" y="191.1" width="1.6" height="1.2" fill="#4bffb4"/><rect x="331.4" y="192.0" width="1.6" height="1.2" fill="#a4ff5b"/><rect x="379.2" y="191.0" width="1.6" height="1.2" fill="#a5ff5a"/><rect x="374.5" y="192.4" width="1.6" height="1.2" fill="#58ffa7"/><rect x="381.1" y="195.0" width="1.6" height="1.2" fill="#20ffdf"/><rect x="376.2" y="192.7" width="1.6" height="1.2" fill="#33ffcc"/><rect x="330.7" y="194.9" width="1.6" height="1.2" fill="#00b2ff"/><rect x="318.5" y="195.2" width="1.6" height="1.2" fill="#00a6ff"/><rect x="384.3" y="191.9" width="1.6" height="1.2" fill="#3affc5"/><rect x="384.6" y="192.1" width="1.6" height="1.2" fill="#95ff6a"/><rect x="363.2" y="194.6" width="1.6" height="1.2" fill="#2fffd0"/><rect x="366.7" y="194.5" width="1.6" height="1.2" fill="#00caff"/><rect x="385.3" y="194.9" width="1.6" height="1.2" fill="#00a6ff"/><rect x="386.9" y="194.0" width="1.6" height="1.2" fill="#00d4ff"/><rect x="316.6" y="192.0" width="1.6" height="1.2" fill="#73ff8c"/><rect x="306.1" y="193.7" width="1.6" height="1.2" fill="#4dffb2"/><rect x="359.4" y="195.3" width="1.6" height="1.2" fill="#11ffee"/><rect x="358.5" y="192.5" width="1.6" height="1.2" fill="#1affe5"/><rect x="388.2" y="195.1" width="1.6" height="1.2" fill="#00ecff"/><rect x="333.4" y="194.2" width="1.6" height="1.2" fill="#37ffc8"/><rect x="376.5" y="193.3" width="1.6" height="1.2" fill="#26ffd9"/><rect x="328.4" y="191.8" width="1.6" height="1.2" fill="#4fffb0"/><rect x="334.3" y="190.6" width="1.6" height="1.2" fill="#90ff6f"/><rect x="386.8" y="193.5" width="1.6" height="1.2" fill="#6aff95"/><rect x="389.5" y="194.8" width="1.6" height="1.2" fill="#00f9ff"/><rect x="314.3" y="194.0" width="1.6" height="1.2" fill="#51ffae"/><rect x="374.1" y="192.3" width="1.6" height="1.2" fill="#92ff6d"/><rect x="389.2" y="194.7" width="1.6" height="1.2" fill="#09fff6"/><rect x="346.3" y="193.3" width="1.6" height="1.2" fill="#46ffb9"/><rect x="341.7" y="192.5" width="1.6" height="1.2" fill="#3affc5"/><rect x="359.0" y="191.9" width="1.6" height="1.2" fill="#31ffce"/><rect x="329.3" y="195.0" width="1.6" height="1.2" fill="#0afff5"/><rect x="317.2" y="191.1" width="1.6" height="1.2" fill="#86ff79"/><rect x="386.5" y="191.6" width="1.6" height="1.2" fill="#b0ff4f"/><rect x="346.8" y="192.6" width="1.6" height="1.2" fill="#70ff8f"/><rect x="374.7" y="194.5" width="1.6" height="1.2" fill="#33ffcc"/><rect x="357.0" y="191.3" width="1.6" height="1.2" fill="#93ff6c"/><rect x="334.4" y="193.3" width="1.6" height="1.2" fill="#5affa5"/><rect x="308.1" y="192.9" width="1.6" height="1.2" fill="#54ffab"/><rect x="319.1" y="194.7" width="1.6" height="1.2" fill="#00ddff"/><rect x="325.7" y="194.3" width="1.6" height="1.2" fill="#5fffa0"/><rect x="379.1" y="191.2" width="1.6" height="1.2" fill="#42ffbd"/><rect x="340.1" y="192.7" width="1.6" height="1.2" fill="#6bff94"/><rect x="315.0" y="195.3" width="1.6" height="1.2" fill="#0091ff"/><rect x="318.5" y="192.8" width="1.6" height="1.2" fill="#00f8ff"/><rect x="317.7" y="194.1" width="1.6" height="1.2" fill="#0afff5"/><rect x="367.4" y="194.6" width="1.6" height="1.2" fill="#00f6ff"/><rect x="392.0" y="194.0" width="1.6" height="1.2" fill="#98ff67"/><rect x="390.9" y="191.5" width="1.6" height="1.2" fill="#67ff98"/><rect x="346.3" y="192.8" width="1.6" height="1.2" fill="#70ff8f"/><rect x="338.6" y="194.4" width="1.6" height="1.2" fill="#00f8ff"/><rect x="362.6" y="193.9" width="1.6" height="1.2" fill="#16ffe9"/><rect x="305.1" y="192.4" width="1.6" height="1.2" fill="#cbff34"/><rect x="336.2" y="195.2" width="1.6" height="1.2" fill="#00fcff"/><rect x="349.1" y="195.3" width="1.6" height="1.2" fill="#2dffd2"/><rect x="346.3" y="195.0" width="1.6" height="1.2" fill="#0efff1"/><rect x="349.0" y="192.5" width="1.6" height="1.2" fill="#55ffaa"/><rect x="342.1" y="193.4" width="1.6" height="1.2" fill="#31ffce"/><rect x="308.5" y="191.2" width="1.6" height="1.2" fill="#5effa1"/><rect x="351.5" y="194.0" width="1.6" height="1.2" fill="#22ffdd"/><rect x="376.3" y="192.1" width="1.6" height="1.2" fill="#00e5ff"/><rect x="358.6" y="190.8" width="1.6" height="1.2" fill="#b9ff46"/><rect x="358.6" y="192.9" width="1.6" height="1.2" fill="#9aff65"/><rect x="309.9" y="190.6" width="1.6" height="1.2" fill="#62ff9d"/><rect x="378.1" y="190.7" width="1.6" height="1.2" fill="#5cffa3"/><rect x="355.6" y="191.2" width="1.6" height="1.2" fill="#adff52"/><rect x="356.5" y="193.5" width="1.6" height="1.2" fill="#3cffc3"/><rect x="305.0" y="190.8" width="1.6" height="1.2" fill="#47ffb8"/><rect x="331.5" y="191.5" width="1.6" height="1.2" fill="#1affe5"/><rect x="312.9" y="192.4" width="1.6" height="1.2" fill="#2cffd3"/><rect x="330.4" y="192.4" width="1.6" height="1.2" fill="#87ff78"/><rect x="373.4" y="191.1" width="1.6" height="1.2" fill="#2affd5"/><rect x="353.5" y="190.9" width="1.6" height="1.2" fill="#47ffb8"/><rect x="336.8" y="195.3" width="1.6" height="1.2" fill="#0084ff"/><rect x="351.6" y="190.8" width="1.6" height="1.2" fill="#97ff68"/><rect x="320.0" y="195.1" width="1.6" height="1.2" fill="#009cff"/><rect x="360.1" y="193.6" width="1.6" height="1.2" fill="#1effe1"/><rect x="342.8" y="195.1" width="1.6" height="1.2" fill="#0067ff"/><rect x="384.2" y="190.6" width="1.6" height="1.2" fill="#c0ff3f"/><rect x="358.2" y="194.2" width="1.6" height="1.2" fill="#2cffd3"/><rect x="334.1" y="195.0" width="1.6" height="1.2" fill="#00fdff"/><rect x="330.0" y="193.3" width="1.6" height="1.2" fill="#00e8ff"/><rect x="333.1" y="191.3" width="1.6" height="1.2" fill="#d4ff2b"/><rect x="390.9" y="191.7" width="1.6" height="1.2" fill="#eaff15"/><rect x="310.3" y="192.6" width="1.6" height="1.2" fill="#b3ff4c"/><rect x="368.7" y="193.6" width="1.6" height="1.2" fill="#00f5ff"/><rect x="318.6" y="192.5" width="1.6" height="1.2" fill="#17ffe8"/><rect x="331.8" y="191.2" width="1.6" height="1.2" fill="#7cff83"/><rect x="321.0" y="192.4" width="1.6" height="1.2" fill="#08fff7"/><rect x="318.6" y="194.3" width="1.6" height="1.2" fill="#00e1ff"/><rect x="377.2" y="190.6" width="1.6" height="1.2" fill="#93ff6c"/><rect x="349.5" y="193.1" width="1.6" height="1.2" fill="#74ff8b"/><rect x="384.7" y="194.2" width="1.6" height="1.2" fill="#00c7ff"/><rect x="372.5" y="194.5" width="1.6" height="1.2" fill="#31ffce"/><rect x="382.3" y="194.2" width="1.6" height="1.2" fill="#00ddff"/><rect x="349.2" y="193.9" width="1.6" height="1.2" fill="#1bffe4"/><rect x="348.7" y="192.1" width="1.6" height="1.2" fill="#6eff91"/><rect x="383.4" y="192.3" width="1.6" height="1.2" fill="#36ffc9"/><rect x="335.5" y="195.4" width="1.6" height="1.2" fill="#00e5ff"/><rect x="391.0" y="191.4" width="1.6" height="1.2" fill="#5cffa3"/><rect x="391.5" y="191.8" width="1.6" height="1.2" fill="#21ffde"/><rect x="326.8" y="192.2" width="1.6" height="1.2" fill="#21ffde"/><rect x="326.7" y="194.5" width="1.6" height="1.2" fill="#0099ff"/><rect x="339.0" y="191.1" width="1.6" height="1.2" fill="#acff53"/><rect x="317.8" y="192.3" width="1.6" height="1.2" fill="#1bffe4"/><rect x="383.1" y="191.9" width="1.6" height="1.2" fill="#7dff82"/><rect x="363.2" y="191.8" width="1.6" height="1.2" fill="#97ff68"/><rect x="367.2" y="195.3" width="1.6" height="1.2" fill="#00cbff"/><rect x="334.3" y="192.2" width="1.6" height="1.2" fill="#79ff86"/><rect x="331.8" y="192.5" width="1.6" height="1.2" fill="#5cffa3"/><rect x="368.8" y="194.0" width="1.6" height="1.2" fill="#02fffd"/><rect x="316.4" y="193.8" width="1.6" height="1.2" fill="#00eeff"/><rect x="378.6" y="194.9" width="1.6" height="1.2" fill="#00fbff"/><rect x="388.0" y="193.6" width="1.6" height="1.2" fill="#00f8ff"/><rect x="368.0" y="193.8" width="1.6" height="1.2" fill="#08fff7"/><rect x="355.8" y="195.3" width="1.6" height="1.2" fill="#3dffc2"/><rect x="343.7" y="195.3" width="1.6" height="1.2" fill="#00cfff"/><rect x="343.1" y="194.7" width="1.6" height="1.2" fill="#00fdff"/><rect x="316.8" y="193.0" width="1.6" height="1.2" fill="#86ff79"/>
<rect x="304.0" y="196.4" width="201.5" height="3.0" fill="#ffffff" opacity="0.5"/>
<rect x="444.0" y="197.8" width="1.3" height="1.0" fill="#ffffff" opacity="0.65"/><rect x="458.2" y="199.4" width="1.3" height="1.0" fill="#ffffff" opacity="0.87"/><rect x="334.7" y="199.4" width="1.3" height="1.0" fill="#ffffff" opacity="0.73"/><rect x="361.3" y="200.2" width="1.3" height="1.0" fill="#ffffff" opacity="0.65"/><rect x="432.1" y="200.4" width="1.3" height="1.0" fill="#ffffff" opacity="0.67"/><rect x="437.3" y="198.9" width="1.3" height="1.0" fill="#ffffff" opacity="0.82"/><rect x="438.9" y="197.2" width="1.3" height="1.0" fill="#ffffff" opacity="0.43"/><rect x="484.4" y="199.5" width="1.3" height="1.0" fill="#ffffff" opacity="0.46"/><rect x="478.0" y="199.1" width="1.3" height="1.0" fill="#ffffff" opacity="0.70"/><rect x="454.8" y="200.1" width="1.3" height="1.0" fill="#ffffff" opacity="0.55"/><rect x="316.1" y="199.2" width="1.3" height="1.0" fill="#ffffff" opacity="0.56"/><rect x="448.2" y="199.2" width="1.3" height="1.0" fill="#ffffff" opacity="0.74"/><rect x="466.7" y="197.3" width="1.3" height="1.0" fill="#ffffff" opacity="0.49"/><rect x="408.5" y="197.3" width="1.3" height="1.0" fill="#ffffff" opacity="0.65"/><rect x="358.3" y="200.3" width="1.3" height="1.0" fill="#ffffff" opacity="0.82"/><rect x="462.0" y="199.9" width="1.3" height="1.0" fill="#ffffff" opacity="0.52"/><rect x="410.6" y="199.0" width="1.3" height="1.0" fill="#ffffff" opacity="0.42"/><rect x="354.5" y="199.7" width="1.3" height="1.0" fill="#ffffff" opacity="0.53"/><rect x="485.2" y="198.4" width="1.3" height="1.0" fill="#ffffff" opacity="0.65"/><rect x="329.5" y="199.9" width="1.3" height="1.0" fill="#ffffff" opacity="0.60"/><rect x="349.1" y="197.3" width="1.3" height="1.0" fill="#ffffff" opacity="0.48"/><rect x="459.4" y="198.1" width="1.3" height="1.0" fill="#ffffff" opacity="0.70"/><rect x="374.0" y="200.1" width="1.3" height="1.0" fill="#ffffff" opacity="0.66"/><rect x="397.4" y="200.2" width="1.3" height="1.0" fill="#ffffff" opacity="0.81"/><rect x="500.1" y="199.5" width="1.3" height="1.0" fill="#ffffff" opacity="0.51"/><rect x="396.9" y="199.6" width="1.3" height="1.0" fill="#ffffff" opacity="0.52"/><rect x="393.9" y="197.2" width="1.3" height="1.0" fill="#ffffff" opacity="0.62"/><rect x="415.6" y="197.3" width="1.3" height="1.0" fill="#ffffff" opacity="0.70"/><rect x="334.4" y="198.5" width="1.3" height="1.0" fill="#ffffff" opacity="0.75"/><rect x="450.3" y="198.3" width="1.3" height="1.0" fill="#ffffff" opacity="0.49"/><rect x="499.4" y="198.7" width="1.3" height="1.0" fill="#ffffff" opacity="0.64"/><rect x="312.6" y="199.5" width="1.3" height="1.0" fill="#ffffff" opacity="0.79"/><rect x="448.2" y="198.4" width="1.3" height="1.0" fill="#ffffff" opacity="0.63"/><rect x="468.7" y="200.2" width="1.3" height="1.0" fill="#ffffff" opacity="0.70"/><rect x="432.3" y="199.8" width="1.3" height="1.0" fill="#ffffff" opacity="0.57"/><rect x="340.0" y="199.5" width="1.3" height="1.0" fill="#ffffff" opacity="0.71"/><rect x="372.8" y="199.8" width="1.3" height="1.0" fill="#ffffff" opacity="0.78"/><rect x="311.6" y="198.6" width="1.3" height="1.0" fill="#ffffff" opacity="0.75"/><rect x="485.4" y="199.3" width="1.3" height="1.0" fill="#ffffff" opacity="0.52"/><rect x="335.0" y="200.3" width="1.3" height="1.0" fill="#ffffff" opacity="0.83"/><rect x="389.3" y="198.2" width="1.3" height="1.0" fill="#ffffff" opacity="0.78"/><rect x="433.2" y="197.7" width="1.3" height="1.0" fill="#ffffff" opacity="0.64"/><rect x="499.7" y="198.4" width="1.3" height="1.0" fill="#ffffff" opacity="0.41"/><rect x="325.9" y="197.3" width="1.3" height="1.0" fill="#ffffff" opacity="0.73"/><rect x="378.2" y="199.1" width="1.3" height="1.0" fill="#ffffff" opacity="0.54"/><rect x="462.6" y="198.5" width="1.3" height="1.0" fill="#ffffff" opacity="0.87"/><rect x="457.3" y="198.5" width="1.3" height="1.0" fill="#ffffff" opacity="0.89"/><rect x="369.3" y="198.4" width="1.3" height="1.0" fill="#ffffff" opacity="0.58"/><rect x="311.4" y="197.8" width="1.3" height="1.0" fill="#ffffff" opacity="0.44"/><rect x="327.9" y="197.1" width="1.3" height="1.0" fill="#ffffff" opacity="0.59"/><rect x="415.7" y="198.8" width="1.3" height="1.0" fill="#ffffff" opacity="0.72"/><rect x="342.3" y="197.8" width="1.3" height="1.0" fill="#ffffff" opacity="0.46"/><rect x="485.2" y="197.3" width="1.3" height="1.0" fill="#ffffff" opacity="0.72"/><rect x="403.5" y="197.0" width="1.3" height="1.0" fill="#ffffff" opacity="0.82"/><rect x="405.9" y="198.8" width="1.3" height="1.0" fill="#ffffff" opacity="0.78"/><rect x="365.8" y="198.1" width="1.3" height="1.0" fill="#ffffff" opacity="0.47"/><rect x="479.7" y="198.1" width="1.3" height="1.0" fill="#ffffff" opacity="0.82"/><rect x="474.6" y="198.2" width="1.3" height="1.0" fill="#ffffff" opacity="0.70"/><rect x="352.2" y="198.5" width="1.3" height="1.0" fill="#ffffff" opacity="0.56"/><rect x="490.0" y="199.2" width="1.3" height="1.0" fill="#ffffff" opacity="0.85"/><rect x="354.5" y="197.5" width="1.3" height="1.0" fill="#ffffff" opacity="0.40"/><rect x="421.8" y="197.8" width="1.3" height="1.0" fill="#ffffff" opacity="0.54"/><rect x="394.8" y="198.8" width="1.3" height="1.0" fill="#ffffff" opacity="0.78"/><rect x="481.2" y="197.4" width="1.3" height="1.0" fill="#ffffff" opacity="0.65"/><rect x="488.0" y="197.9" width="1.3" height="1.0" fill="#ffffff" opacity="0.68"/><rect x="393.7" y="199.5" width="1.3" height="1.0" fill="#ffffff" opacity="0.76"/><rect x="384.4" y="197.7" width="1.3" height="1.0" fill="#ffffff" opacity="0.72"/><rect x="490.9" y="198.2" width="1.3" height="1.0" fill="#ffffff" opacity="0.65"/><rect x="354.1" y="200.0" width="1.3" height="1.0" fill="#ffffff" opacity="0.43"/><rect x="380.8" y="197.0" width="1.3" height="1.0" fill="#ffffff" opacity="0.62"/><rect x="424.4" y="197.1" width="1.3" height="1.0" fill="#ffffff" opacity="0.73"/><rect x="357.9" y="197.5" width="1.3" height="1.0" fill="#ffffff" opacity="0.57"/><rect x="489.9" y="200.0" width="1.3" height="1.0" fill="#ffffff" opacity="0.55"/><rect x="311.2" y="197.1" width="1.3" height="1.0" fill="#ffffff" opacity="0.63"/><rect x="310.1" y="199.2" width="1.3" height="1.0" fill="#ffffff" opacity="0.70"/><rect x="387.2" y="197.3" width="1.3" height="1.0" fill="#ffffff" opacity="0.88"/><rect x="378.3" y="197.6" width="1.3" height="1.0" fill="#ffffff" opacity="0.89"/><rect x="454.4" y="198.7" width="1.3" height="1.0" fill="#ffffff" opacity="0.58"/><rect x="465.9" y="199.3" width="1.3" height="1.0" fill="#ffffff" opacity="0.84"/><rect x="499.5" y="198.8" width="1.3" height="1.0" fill="#ffffff" opacity="0.81"/><rect x="486.8" y="197.5" width="1.3" height="1.0" fill="#ffffff" opacity="0.71"/><rect x="473.9" y="199.7" width="1.3" height="1.0" fill="#ffffff" opacity="0.77"/><rect x="396.4" y="199.9" width="1.3" height="1.0" fill="#ffffff" opacity="0.65"/><rect x="363.5" y="198.3" width="1.3" height="1.0" fill="#ffffff" opacity="0.81"/><rect x="320.7" y="196.7" width="1.3" height="1.0" fill="#ffffff" opacity="0.43"/><rect x="331.5" y="197.6" width="1.3" height="1.0" fill="#ffffff" opacity="0.47"/><rect x="308.6" y="197.7" width="1.3" height="1.0" fill="#ffffff" opacity="0.70"/><rect x="452.9" y="198.5" width="1.3" height="1.0" fill="#ffffff" opacity="0.86"/><rect x="313.6" y="200.0" width="1.3" height="1.0" fill="#ffffff" opacity="0.42"/><rect x="424.4" y="197.5" width="1.3" height="1.0" fill="#ffffff" opacity="0.76"/><rect x="453.7" y="199.7" width="1.3" height="1.0" fill="#ffffff" opacity="0.55"/><rect x="336.4" y="199.5" width="1.3" height="1.0" fill="#ffffff" opacity="0.74"/><rect x="395.5" y="198.3" width="1.3" height="1.0" fill="#ffffff" opacity="0.65"/><rect x="495.1" y="197.2" width="1.3" height="1.0" fill="#ffffff" opacity="0.70"/><rect x="475.8" y="197.1" width="1.3" height="1.0" fill="#ffffff" opacity="0.77"/><rect x="468.0" y="197.6" width="1.3" height="1.0" fill="#ffffff" opacity="0.57"/><rect x="390.1" y="200.4" width="1.3" height="1.0" fill="#ffffff" opacity="0.85"/><rect x="489.8" y="198.1" width="1.3" height="1.0" fill="#ffffff" opacity="0.84"/><rect x="403.7" y="198.9" width="1.3" height="1.0" fill="#ffffff" opacity="0.73"/><rect x="451.7" y="197.9" width="1.3" height="1.0" fill="#ffffff" opacity="0.59"/><rect x="329.8" y="199.9" width="1.3" height="1.0" fill="#ffffff" opacity="0.63"/><rect x="496.0" y="197.7" width="1.3" height="1.0" fill="#ffffff" opacity="0.71"/><rect x="503.4" y="199.3" width="1.3" height="1.0" fill="#ffffff" opacity="0.85"/><rect x="490.6" y="198.7" width="1.3" height="1.0" fill="#ffffff" opacity="0.49"/><rect x="430.2" y="199.1" width="1.3" height="1.0" fill="#ffffff" opacity="0.56"/><rect x="341.5" y="198.0" width="1.3" height="1.0" fill="#ffffff" opacity="0.79"/><rect x="368.3" y="199.6" width="1.3" height="1.0" fill="#ffffff" opacity="0.58"/><rect x="464.8" y="199.0" width="1.3" height="1.0" fill="#ffffff" opacity="0.87"/><rect x="350.0" y="199.6" width="1.3" height="1.0" fill="#ffffff" opacity="0.62"/><rect x="346.0" y="197.3" width="1.3" height="1.0" fill="#ffffff" opacity="0.52"/><rect x="440.2" y="199.8" width="1.3" height="1.0" fill="#ffffff" opacity="0.55"/><rect x="372.6" y="197.2" width="1.3" height="1.0" fill="#ffffff" opacity="0.66"/><rect x="327.0" y="197.9" width="1.3" height="1.0" fill="#ffffff" opacity="0.85"/><rect x="408.1" y="197.8" width="1.3" height="1.0" fill="#ffffff" opacity="0.78"/><rect x="305.2" y="199.4" width="1.3" height="1.0" fill="#ffffff" opacity="0.80"/><rect x="401.9" y="197.5" width="1.3" height="1.0" fill="#ffffff" opacity="0.51"/><rect x="484.1" y="199.3" width="1.3" height="1.0" fill="#ffffff" opacity="0.89"/><rect x="343.1" y="198.3" width="1.3" height="1.0" fill="#ffffff" opacity="0.79"/><rect x="421.6" y="198.5" width="1.3" height="1.0" fill="#ffffff" opacity="0.47"/><rect x="492.6" y="197.5" width="1.3" height="1.0" fill="#ffffff" opacity="0.76"/><rect x="425.2" y="199.6" width="1.3" height="1.0" fill="#ffffff" opacity="0.79"/><rect x="396.7" y="198.7" width="1.3" height="1.0" fill="#ffffff" opacity="0.44"/><rect x="454.5" y="197.7" width="1.3" height="1.0" fill="#ffffff" opacity="0.46"/><rect x="313.7" y="197.8" width="1.3" height="1.0" fill="#ffffff" opacity="0.47"/><rect x="338.6" y="198.2" width="1.3" height="1.0" fill="#ffffff" opacity="0.57"/><rect x="358.5" y="197.4" width="1.3" height="1.0" fill="#ffffff" opacity="0.71"/><rect x="412.3" y="198.1" width="1.3" height="1.0" fill="#ffffff" opacity="0.50"/><rect x="461.1" y="197.1" width="1.3" height="1.0" fill="#ffffff" opacity="0.59"/><rect x="346.1" y="199.4" width="1.3" height="1.0" fill="#ffffff" opacity="0.67"/><rect x="486.1" y="199.2" width="1.3" height="1.0" fill="#ffffff" opacity="0.72"/><rect x="320.7" y="196.7" width="1.3" height="1.0" fill="#ffffff" opacity="0.72"/><rect x="461.1" y="199.9" width="1.3" height="1.0" fill="#ffffff" opacity="0.89"/><rect x="479.4" y="198.7" width="1.3" height="1.0" fill="#ffffff" opacity="0.74"/><rect x="375.4" y="200.3" width="1.3" height="1.0" fill="#ffffff" opacity="0.89"/><rect x="445.8" y="197.6" width="1.3" height="1.0" fill="#ffffff" opacity="0.68"/><rect x="441.2" y="199.7" width="1.3" height="1.0" fill="#ffffff" opacity="0.72"/><rect x="464.0" y="199.6" width="1.3" height="1.0" fill="#ffffff" opacity="0.73"/><rect x="328.1" y="199.4" width="1.3" height="1.0" fill="#ffffff" opacity="0.63"/><rect x="463.9" y="197.1" width="1.3" height="1.0" fill="#ffffff" opacity="0.64"/><rect x="368.2" y="198.5" width="1.3" height="1.0" fill="#ffffff" opacity="0.89"/><rect x="458.2" y="200.0" width="1.3" height="1.0" fill="#ffffff" opacity="0.82"/><rect x="317.3" y="199.4" width="1.3" height="1.0" fill="#ffffff" opacity="0.77"/><rect x="455.8" y="197.6" width="1.3" height="1.0" fill="#ffffff" opacity="0.59"/><rect x="433.9" y="197.7" width="1.3" height="1.0" fill="#ffffff" opacity="0.65"/><rect x="387.0" y="197.0" width="1.3" height="1.0" fill="#ffffff" opacity="0.44"/><rect x="345.9" y="198.4" width="1.3" height="1.0" fill="#ffffff" opacity="0.86"/><rect x="456.8" y="197.8" width="1.3" height="1.0" fill="#ffffff" opacity="0.79"/><rect x="465.9" y="200.1" width="1.3" height="1.0" fill="#ffffff" opacity="0.75"/><rect x="427.8" y="199.2" width="1.3" height="1.0" fill="#ffffff" opacity="0.44"/><rect x="423.5" y="196.9" width="1.3" height="1.0" fill="#ffffff" opacity="0.72"/>
<text transform="translate(306.30,159.60) scale(1.0,1)" font-size="8.4" text-anchor="start" fill="#111" stroke="#111" stroke-width="0.2" >j</text>
<text transform="translate(307.00,202.90) scale(0.95,1)" font-size="8.4" text-anchor="start" fill="#111" stroke="#111" stroke-width="0.2" font-weight="bold">k</text>
<text transform="translate(302.30,159.85) scale(0.92,1)" font-size="7.4" text-anchor="end" fill="#262626" stroke="#262626" stroke-width="0.2" >10<tspan dy="-3.4" font-size="5.2">4</tspan></text>
<text transform="translate(302.30,173.45) scale(0.92,1)" font-size="7.4" text-anchor="end" fill="#262626" stroke="#262626" stroke-width="0.2" >10<tspan dy="-3.4" font-size="5.2">3</tspan></text>
<text transform="translate(302.30,186.85) scale(0.92,1)" font-size="7.4" text-anchor="end" fill="#262626" stroke="#262626" stroke-width="0.2" >10<tspan dy="-3.4" font-size="5.2">2</tspan></text>
<text transform="translate(302.30,207.25) scale(0.92,1)" font-size="7.4" text-anchor="end" fill="#262626" stroke="#262626" stroke-width="0.2" >10<tspan dy="-3.4" font-size="5.2">4</tspan></text>
<text transform="translate(302.30,220.85) scale(0.92,1)" font-size="7.4" text-anchor="end" fill="#262626" stroke="#262626" stroke-width="0.2" >10<tspan dy="-3.4" font-size="5.2">3</tspan></text>
<text transform="translate(302.30,234.25) scale(0.92,1)" font-size="7.4" text-anchor="end" fill="#262626" stroke="#262626" stroke-width="0.2" >10<tspan dy="-3.4" font-size="5.2">2</tspan></text>
<line x1="361.93" y1="54.50" x2="361.93" y2="7.30" stroke="#0a14e6" stroke-width="1.9" stroke-dasharray="6.8,7.4"/>
<line x1="370.71" y1="54.50" x2="370.71" y2="7.30" stroke="#e61414" stroke-width="1.9" stroke-dasharray="6.8,7.4"/>
<line x1="410.79" y1="54.50" x2="410.79" y2="7.30" stroke="#0a14e6" stroke-width="1.9" stroke-dasharray="6.8,7.4"/>
<line x1="361.93" y1="101.80" x2="361.93" y2="54.50" stroke="#0a14e6" stroke-width="1.9" stroke-dasharray="6.8,7.4"/>
<line x1="370.71" y1="101.80" x2="370.71" y2="54.50" stroke="#e61414" stroke-width="1.9" stroke-dasharray="6.8,7.4"/>
<line x1="410.79" y1="101.80" x2="410.79" y2="54.50" stroke="#0a14e6" stroke-width="1.9" stroke-dasharray="6.8,7.4"/>
<line x1="361.93" y1="149.00" x2="361.93" y2="101.80" stroke="#0a14e6" stroke-width="1.9" stroke-dasharray="6.8,7.4"/>
<line x1="370.71" y1="149.00" x2="370.71" y2="101.80" stroke="#e61414" stroke-width="1.9" stroke-dasharray="6.8,7.4"/>
<line x1="410.79" y1="149.00" x2="410.79" y2="101.80" stroke="#0a14e6" stroke-width="1.9" stroke-dasharray="6.8,7.4"/>
<line x1="361.93" y1="196.40" x2="361.93" y2="149.00" stroke="#0a14e6" stroke-width="1.9" stroke-dasharray="6.8,7.4"/>
<line x1="370.71" y1="196.40" x2="370.71" y2="149.00" stroke="#e61414" stroke-width="1.9" stroke-dasharray="6.8,7.4"/>
<line x1="410.79" y1="196.40" x2="410.79" y2="149.00" stroke="#0a14e6" stroke-width="1.9" stroke-dasharray="6.8,7.4"/>
<line x1="361.93" y1="243.60" x2="361.93" y2="196.40" stroke="#0a14e6" stroke-width="1.9" stroke-dasharray="6.8,7.4"/>
<line x1="370.71" y1="243.60" x2="370.71" y2="196.40" stroke="#e61414" stroke-width="1.9" stroke-dasharray="6.8,7.4"/>
<line x1="410.79" y1="243.60" x2="410.79" y2="196.40" stroke="#0a14e6" stroke-width="1.9" stroke-dasharray="6.8,7.4"/>
<rect x="304.0" y="7.3" width="201.50" height="47.20" fill="none" stroke="#8a8a8a" stroke-width="0.8"/>
<rect x="304.0" y="54.5" width="201.50" height="47.30" fill="none" stroke="#8a8a8a" stroke-width="0.8"/>
<rect x="304.0" y="101.8" width="201.50" height="47.20" fill="none" stroke="#8a8a8a" stroke-width="0.8"/>
<path d="M304.0,149.0V243.6M505.5,149.0V243.6" stroke="#9a9a9a" stroke-width="0.8" fill="none"/>
<line x1="304.0" y1="54.5" x2="505.5" y2="54.5" stroke="#3a3a3a" stroke-width="1.1"/>
<line x1="304.0" y1="101.8" x2="505.5" y2="101.8" stroke="#3a3a3a" stroke-width="1.1"/>
<text transform="translate(276.99,30.80) rotate(-90)" font-size="8.9" text-anchor="middle" fill="#262626" stroke="#262626" stroke-width="0.2" >E</text>
<text transform="translate(288.66,31.50) rotate(-90)" font-size="8.0" text-anchor="middle" fill="#262626" stroke="#262626" stroke-width="0.2" >[mV/m]</text>
<text transform="translate(272.19,79.00) rotate(-90)" font-size="8.9" text-anchor="middle" fill="#262626" stroke="#262626" stroke-width="0.2" >jcurl</text>
<text transform="translate(284.46,79.00) rotate(-90)" font-size="8.0" text-anchor="middle" fill="#262626" stroke="#262626" stroke-width="0.2" >[nAm<tspan dy="-3" font-size="6">-2</tspan><tspan dy="3">]</tspan></text>
<text transform="translate(281.06,125.00) rotate(-90)" font-size="8.0" text-anchor="middle" fill="#262626" stroke="#262626" stroke-width="0.2" font-style="italic" font-size="6.5">ρ</text>
<text transform="translate(293.46,125.00) rotate(-90)" font-size="8.0" text-anchor="middle" fill="#262626" stroke="#262626" stroke-width="0.2" >[e/m<tspan dy="-3" font-size="6">3</tspan><tspan dy="3">]</tspan></text>
<text transform="translate(276.37,172.50) rotate(-90)" font-size="8.3" text-anchor="middle" fill="#262626" stroke="#262626" stroke-width="0.2" >ion</text>
<text transform="translate(287.61,173.50) rotate(-90)" font-size="8.4" text-anchor="middle" fill="#262626" stroke="#262626" stroke-width="0.2" >omni</text>
<text transform="translate(276.30,220.30) rotate(-90)" font-size="8.1" text-anchor="middle" fill="#262626" stroke="#262626" stroke-width="0.2" >electron</text>
<text transform="translate(287.41,220.30) rotate(-90)" font-size="8.4" text-anchor="middle" fill="#262626" stroke="#262626" stroke-width="0.2" >omni</text>
<text transform="translate(509.30,20.54) scale(0.92,1)" font-size="8.9" text-anchor="start" fill="#c0303c" stroke="#c0303c" stroke-width="0.2" >Ex</text>
<text transform="translate(509.30,29.84) scale(0.92,1)" font-size="8.9" text-anchor="start" fill="#2ec82e" stroke="#2ec82e" stroke-width="0.2" >Ey</text>
<text transform="translate(509.30,38.64) scale(0.92,1)" font-size="8.9" text-anchor="start" fill="#2a2ab0" stroke="#2a2ab0" stroke-width="0.2" >Ez</text>
<text transform="translate(509.30,47.94) scale(0.92,1)" font-size="8.9" text-anchor="start" fill="#1a1a1a" stroke="#1a1a1a" stroke-width="0.2" >Et</text>
<text transform="translate(509.30,68.24) scale(0.92,1)" font-size="8.9" text-anchor="start" fill="#c0303c" stroke="#c0303c" stroke-width="0.2" >jx</text>
<text transform="translate(509.30,77.34) scale(0.92,1)" font-size="8.9" text-anchor="start" fill="#2ec82e" stroke="#2ec82e" stroke-width="0.2" >jy</text>
<text transform="translate(509.30,86.74) scale(0.92,1)" font-size="8.9" text-anchor="start" fill="#2a2ab0" stroke="#2a2ab0" stroke-width="0.2" >jz</text>
<text transform="translate(509.30,96.14) scale(0.92,1)" font-size="8.9" text-anchor="start" fill="#1a1a1a" stroke="#1a1a1a" stroke-width="0.2" >jt</text>
<text transform="translate(304.00,253.57) scale(0.835,1)" font-size="9.0" text-anchor="middle" fill="#262626" stroke="#262626" stroke-width="0.2" >17:26:04</text>
<text transform="translate(354.38,253.57) scale(0.835,1)" font-size="9.0" text-anchor="middle" fill="#262626" stroke="#262626" stroke-width="0.2" >17:26:11</text>
<text transform="translate(404.75,253.57) scale(0.835,1)" font-size="9.0" text-anchor="middle" fill="#262626" stroke="#262626" stroke-width="0.2" >17:26:18</text>
<text transform="translate(455.12,253.57) scale(0.835,1)" font-size="9.0" text-anchor="middle" fill="#262626" stroke="#262626" stroke-width="0.2" >17:26:25</text>
<text transform="translate(505.50,253.57) scale(0.835,1)" font-size="9.0" text-anchor="middle" fill="#262626" stroke="#262626" stroke-width="0.2" >17:26:32</text>
<rect x="511.4" y="150.7" width="8.200000000000045" height="43.30000000000001" fill="url(#g19)" stroke="#333" stroke-width="0.7"/>
<rect x="511.2" y="198.8" width="8.199999999999989" height="43.0" fill="url(#g20)" stroke="#333" stroke-width="0.7"/>
<text transform="translate(507.20,147.98) scale(0.92,1)" font-size="7.2" text-anchor="start" fill="#262626" stroke="#262626" stroke-width="0.2" >log10</text>
<text transform="translate(522.60,165.38) scale(0.92,1)" font-size="7.2" text-anchor="start" fill="#262626" stroke="#262626" stroke-width="0.2" >15</text>
<text transform="translate(522.60,176.88) scale(0.92,1)" font-size="7.2" text-anchor="start" fill="#262626" stroke="#262626" stroke-width="0.2" >12</text>
<text transform="translate(522.60,188.18) scale(0.92,1)" font-size="7.2" text-anchor="start" fill="#262626" stroke="#262626" stroke-width="0.2" >9</text>
<text transform="translate(522.60,202.38) scale(0.92,1)" font-size="7.2" text-anchor="start" fill="#262626" stroke="#262626" stroke-width="0.2" >20</text>
<text transform="translate(522.60,211.58) scale(0.92,1)" font-size="7.2" text-anchor="start" fill="#262626" stroke="#262626" stroke-width="0.2" >16</text>
<text transform="translate(522.60,222.98) scale(0.92,1)" font-size="7.2" text-anchor="start" fill="#262626" stroke="#262626" stroke-width="0.2" >11</text>
<text transform="translate(522.60,234.38) scale(0.92,1)" font-size="7.2" text-anchor="start" fill="#262626" stroke="#262626" stroke-width="0.2" >6</text>
<text transform="translate(544.87,187.00) rotate(-90)" font-size="9.7" text-anchor="middle" fill="#262626" stroke="#262626" stroke-width="0.2" >keV/(cm<tspan dy="-3.6" font-size="6.8">2</tspan><tspan dy="3.6"> s sr keV)</tspan></text>
<line x1="358.00" y1="271.2" x2="358.00" y2="343.3" stroke="#e6e6e6" stroke-width="0.6"/>
<line x1="304.0" y1="289.25" x2="376.0" y2="289.25" stroke="#e6e6e6" stroke-width="0.6"/>
<line x1="340.00" y1="271.2" x2="340.00" y2="343.3" stroke="#e6e6e6" stroke-width="0.6"/>
<line x1="304.0" y1="307.25" x2="376.0" y2="307.25" stroke="#e6e6e6" stroke-width="0.6"/>
<line x1="322.00" y1="271.2" x2="322.00" y2="343.3" stroke="#e6e6e6" stroke-width="0.6"/>
<line x1="304.0" y1="325.25" x2="376.0" y2="325.25" stroke="#e6e6e6" stroke-width="0.6"/>
<path d="M353.81,271.22 L353.15,271.47 L352.50,271.73 L351.87,271.99 L351.24,272.24 L350.64,272.50 L350.04,272.75 L349.46,273.01 L348.88,273.26 L348.32,273.51 L347.77,273.77 L347.23,274.02 L346.70,274.27 L346.18,274.52 L345.67,274.78 L345.17,275.03 L344.68,275.28 L344.20,275.53 L343.72,275.78 L343.26,276.03 L342.80,276.28 L342.35,276.54 L341.91,276.79 L341.48,277.04 L341.05,277.29 L340.63,277.54 L340.22,277.79 L339.82,278.04 L339.42,278.29 L339.03,278.54 L338.64,278.79 L338.27,279.04 L337.89,279.29 L337.53,279.54 L337.17,279.79 L336.82,280.05 L336.47,280.30 L336.13,280.55 L335.79,280.80 L335.46,281.05 L335.13,281.30 L334.81,281.55 L334.50,281.80 L334.19,282.05 L333.88,282.31 L333.58,282.56 L333.28,282.81 L332.99,283.06 L332.71,283.31 L332.43,283.56 L332.15,283.82 L331.88,284.07 L331.61,284.32 L331.34,284.57 L331.08,284.83 L330.83,285.08 L330.58,285.33 L330.33,285.59 L330.09,285.84 L329.85,286.09 L329.61,286.35 L329.38,286.60 L329.16,286.86 L328.93,287.11 L328.71,287.36 L328.50,287.62 L328.28,287.87 L328.07,288.13 L327.87,288.38 L327.67,288.64 L327.47,288.90 L327.28,289.15 L327.08,289.41 L326.90,289.66 L326.71,289.92 L326.53,290.18 L326.35,290.43 L326.18,290.69 L326.01,290.95 L325.84,291.20 L325.67,291.46 L325.51,291.72 L325.35,291.97 L325.20,292.23 L325.04,292.49 L324.89,292.75 L324.75,293.01 L324.60,293.26 L324.46,293.52 L324.33,293.78 L324.19,294.04 L324.06,294.30 L323.93,294.56 L323.81,294.82 L323.68,295.08 L323.56,295.34 L323.45,295.60 L323.33,295.86 L323.22,296.12 L323.11,296.38 L323.01,296.64 L322.90,296.90 L322.80,297.16 L322.70,297.42 L322.61,297.68 L322.52,297.94 L322.43,298.20 L322.34,298.46 L322.25,298.72 L322.17,298.98 L322.09,299.24 L322.02,299.51 L321.94,299.77 L321.87,300.03 L321.80,300.29 L321.74,300.55 L321.68,300.81 L321.61,301.08 L321.56,301.34 L321.50,301.60 L321.45,301.86 L321.40,302.13 L321.35,302.39 L321.30,302.65 L321.26,302.91 L321.22,303.18 L321.18,303.44 L321.15,303.70 L321.12,303.96 L321.09,304.23 L321.06,304.49 L321.03,304.75 L321.01,305.01 L320.99,305.28 L320.97,305.54 L320.96,305.80 L320.95,306.07 L320.94,306.33 L320.93,306.59 L320.92,306.86 L320.92,307.12 L320.92,307.38 L320.92,307.64 L320.93,307.91 L320.94,308.17 L320.95,308.43 L320.96,308.70 L320.97,308.96 L320.99,309.22 L321.01,309.49 L321.03,309.75 L321.06,310.01 L321.09,310.27 L321.12,310.54 L321.15,310.80 L321.18,311.06 L321.22,311.32 L321.26,311.59 L321.30,311.85 L321.35,312.11 L321.40,312.37 L321.45,312.64 L321.50,312.90 L321.56,313.16 L321.61,313.42 L321.68,313.69 L321.74,313.95 L321.80,314.21 L321.87,314.47 L321.94,314.73 L322.02,314.99 L322.09,315.26 L322.17,315.52 L322.25,315.78 L322.34,316.04 L322.43,316.30 L322.52,316.56 L322.61,316.82 L322.70,317.08 L322.80,317.34 L322.90,317.60 L323.01,317.86 L323.11,318.12 L323.22,318.38 L323.33,318.64 L323.45,318.90 L323.56,319.16 L323.68,319.42 L323.81,319.68 L323.93,319.94 L324.06,320.20 L324.19,320.46 L324.33,320.72 L324.46,320.98 L324.60,321.24 L324.75,321.49 L324.89,321.75 L325.04,322.01 L325.20,322.27 L325.35,322.53 L325.51,322.78 L325.67,323.04 L325.84,323.30 L326.01,323.55 L326.18,323.81 L326.35,324.07 L326.53,324.32 L326.71,324.58 L326.90,324.84 L327.08,325.09 L327.28,325.35 L327.47,325.60 L327.67,325.86 L327.87,326.12 L328.07,326.37 L328.28,326.63 L328.50,326.88 L328.71,327.14 L328.93,327.39 L329.16,327.64 L329.38,327.90 L329.61,328.15 L329.85,328.41 L330.09,328.66 L330.33,328.91 L330.58,329.17 L330.83,329.42 L331.08,329.67 L331.34,329.93 L331.61,330.18 L331.88,330.43 L332.15,330.68 L332.43,330.94 L332.71,331.19 L332.99,331.44 L333.28,331.69 L333.58,331.94 L333.88,332.19 L334.19,332.45 L334.50,332.70 L334.81,332.95 L335.13,333.20 L335.46,333.45 L335.79,333.70 L336.13,333.95 L336.47,334.20 L336.82,334.45 L337.17,334.71 L337.53,334.96 L337.89,335.21 L338.27,335.46 L338.64,335.71 L339.03,335.96 L339.42,336.21 L339.82,336.46 L340.22,336.71 L340.63,336.96 L341.05,337.21 L341.48,337.46 L341.91,337.71 L342.35,337.96 L342.80,338.22 L343.26,338.47 L343.72,338.72 L344.20,338.97 L344.68,339.22 L345.17,339.47 L345.67,339.72 L346.18,339.98 L346.70,340.23 L347.23,340.48 L347.77,340.73 L348.32,340.99 L348.88,341.24 L349.46,341.49 L350.04,341.75 L350.64,342.00 L351.24,342.26 L351.87,342.51 L352.50,342.77 L353.15,343.03 L353.81,343.28" fill="none" stroke="#333" stroke-width="0.9" stroke-dasharray="1.7,1.5"/>
<circle cx="340.0" cy="307.25" r="11.0" fill="none" stroke="#333" stroke-width="0.9" stroke-dasharray="1.7,1.5"/>
<circle cx="340.0" cy="307.25" r="1.9" fill="none" stroke="#555" stroke-width="0.6"/>
<line x1="337.68" y1="327.07" x2="327.20" y2="341.50" stroke="#e02020" stroke-width="0.8"/>
<path d="M327.20,341.50 L327.68,338.63 M327.20,341.50 L329.78,340.16" stroke="#e02020" stroke-width="0.8" fill="none"/>
<circle cx="337.68" cy="327.07" r="3.0" fill="#ee1111"/>
<rect x="304.0" y="271.2" width="72.00" height="72.10" fill="none" stroke="#777" stroke-width="0.8"/>
<path d="M376.00,343.3v-1.8M376.00,271.2v1.8M304.0,271.25h1.8M376.0,271.25h-1.8M358.00,343.3v-1.8M358.00,271.2v1.8M304.0,289.25h1.8M376.0,289.25h-1.8M340.00,343.3v-1.8M340.00,271.2v1.8M304.0,307.25h1.8M376.0,307.25h-1.8M322.00,343.3v-1.8M322.00,271.2v1.8M304.0,325.25h1.8M376.0,325.25h-1.8M304.00,343.3v-1.8M304.00,271.2v1.8M304.0,343.25h1.8M376.0,343.25h-1.8" stroke="#555" stroke-width="0.6" fill="none"/>
<text transform="translate(302.20,274.62) scale(0.835,1)" font-size="9.0" text-anchor="end" fill="#262626" stroke="#262626" stroke-width="0.2" >-20</text>
<text transform="translate(302.20,292.62) scale(0.835,1)" font-size="9.0" text-anchor="end" fill="#262626" stroke="#262626" stroke-width="0.2" >-10</text>
<text transform="translate(302.20,310.62) scale(0.835,1)" font-size="9.0" text-anchor="end" fill="#262626" stroke="#262626" stroke-width="0.2" >0</text>
<text transform="translate(302.20,328.62) scale(0.835,1)" font-size="9.0" text-anchor="end" fill="#262626" stroke="#262626" stroke-width="0.2" >10</text>
<text transform="translate(302.20,346.62) scale(0.835,1)" font-size="9.0" text-anchor="end" fill="#262626" stroke="#262626" stroke-width="0.2" >20</text>
<text transform="translate(304.00,352.97) scale(0.835,1)" font-size="9.0" text-anchor="middle" fill="#262626" stroke="#262626" stroke-width="0.2" >20</text>
<text transform="translate(340.00,352.97) scale(0.835,1)" font-size="9.0" text-anchor="middle" fill="#262626" stroke="#262626" stroke-width="0.2" >0</text>
<text transform="translate(376.00,352.97) scale(0.835,1)" font-size="9.0" text-anchor="middle" fill="#262626" stroke="#262626" stroke-width="0.2" >-20</text>
<text transform="translate(340.00,363.27) scale(0.92,1)" font-size="9.0" text-anchor="middle" fill="#262626" stroke="#262626" stroke-width="0.2" >X GSM (RE)</text>
<text transform="translate(289.17,307.25) rotate(-90)" font-size="8.3" text-anchor="middle" fill="#262626" stroke="#262626" stroke-width="0.2" >Y GSM (RE)</text>
<text transform="translate(308.60,280.80) scale(0.95,1)" font-size="9.2" text-anchor="start" fill="#222" stroke="#222" stroke-width="0.2" >l</text>
<line x1="488.00" y1="271.3" x2="488.00" y2="343.2" stroke="#e6e6e6" stroke-width="0.6"/>
<line x1="433.9" y1="289.25" x2="506.1" y2="289.25" stroke="#e6e6e6" stroke-width="0.6"/>
<line x1="470.00" y1="271.3" x2="470.00" y2="343.2" stroke="#e6e6e6" stroke-width="0.6"/>
<line x1="433.9" y1="307.25" x2="506.1" y2="307.25" stroke="#e6e6e6" stroke-width="0.6"/>
<line x1="452.00" y1="271.3" x2="452.00" y2="343.2" stroke="#e6e6e6" stroke-width="0.6"/>
<line x1="433.9" y1="325.25" x2="506.1" y2="325.25" stroke="#e6e6e6" stroke-width="0.6"/>
<path d="M483.15,271.47 L482.50,271.73 L481.87,271.99 L481.24,272.24 L480.64,272.50 L480.04,272.75 L479.46,273.01 L478.88,273.26 L478.32,273.51 L477.77,273.77 L477.23,274.02 L476.70,274.27 L476.18,274.52 L475.67,274.78 L475.17,275.03 L474.68,275.28 L474.20,275.53 L473.72,275.78 L473.26,276.03 L472.80,276.28 L472.35,276.54 L471.91,276.79 L471.48,277.04 L471.05,277.29 L470.63,277.54 L470.22,277.79 L469.82,278.04 L469.42,278.29 L469.03,278.54 L468.64,278.79 L468.27,279.04 L467.89,279.29 L467.53,279.54 L467.17,279.79 L466.82,280.05 L466.47,280.30 L466.13,280.55 L465.79,280.80 L465.46,281.05 L465.13,281.30 L464.81,281.55 L464.50,281.80 L464.19,282.05 L463.88,282.31 L463.58,282.56 L463.28,282.81 L462.99,283.06 L462.71,283.31 L462.43,283.56 L462.15,283.82 L461.88,284.07 L461.61,284.32 L461.34,284.57 L461.08,284.83 L460.83,285.08 L460.58,285.33 L460.33,285.59 L460.09,285.84 L459.85,286.09 L459.61,286.35 L459.38,286.60 L459.16,286.86 L458.93,287.11 L458.71,287.36 L458.50,287.62 L458.28,287.87 L458.07,288.13 L457.87,288.38 L457.67,288.64 L457.47,288.90 L457.28,289.15 L457.08,289.41 L456.90,289.66 L456.71,289.92 L456.53,290.18 L456.35,290.43 L456.18,290.69 L456.01,290.95 L455.84,291.20 L455.67,291.46 L455.51,291.72 L455.35,291.97 L455.20,292.23 L455.04,292.49 L454.89,292.75 L454.75,293.01 L454.60,293.26 L454.46,293.52 L454.33,293.78 L454.19,294.04 L454.06,294.30 L453.93,294.56 L453.81,294.82 L453.68,295.08 L453.56,295.34 L453.45,295.60 L453.33,295.86 L453.22,296.12 L453.11,296.38 L453.01,296.64 L452.90,296.90 L452.80,297.16 L452.70,297.42 L452.61,297.68 L452.52,297.94 L452.43,298.20 L452.34,298.46 L452.25,298.72 L452.17,298.98 L452.09,299.24 L452.02,299.51 L451.94,299.77 L451.87,300.03 L451.80,300.29 L451.74,300.55 L451.68,300.81 L451.61,301.08 L451.56,301.34 L451.50,301.60 L451.45,301.86 L451.40,302.13 L451.35,302.39 L451.30,302.65 L451.26,302.91 L451.22,303.18 L451.18,303.44 L451.15,303.70 L451.12,303.96 L451.09,304.23 L451.06,304.49 L451.03,304.75 L451.01,305.01 L450.99,305.28 L450.97,305.54 L450.96,305.80 L450.95,306.07 L450.94,306.33 L450.93,306.59 L450.92,306.86 L450.92,307.12 L450.92,307.38 L450.92,307.64 L450.93,307.91 L450.94,308.17 L450.95,308.43 L450.96,308.70 L450.97,308.96 L450.99,309.22 L451.01,309.49 L451.03,309.75 L451.06,310.01 L451.09,310.27 L451.12,310.54 L451.15,310.80 L451.18,311.06 L451.22,311.32 L451.26,311.59 L451.30,311.85 L451.35,312.11 L451.40,312.37 L451.45,312.64 L451.50,312.90 L451.56,313.16 L451.61,313.42 L451.68,313.69 L451.74,313.95 L451.80,314.21 L451.87,314.47 L451.94,314.73 L452.02,314.99 L452.09,315.26 L452.17,315.52 L452.25,315.78 L452.34,316.04 L452.43,316.30 L452.52,316.56 L452.61,316.82 L452.70,317.08 L452.80,317.34 L452.90,317.60 L453.01,317.86 L453.11,318.12 L453.22,318.38 L453.33,318.64 L453.45,318.90 L453.56,319.16 L453.68,319.42 L453.81,319.68 L453.93,319.94 L454.06,320.20 L454.19,320.46 L454.33,320.72 L454.46,320.98 L454.60,321.24 L454.75,321.49 L454.89,321.75 L455.04,322.01 L455.20,322.27 L455.35,322.53 L455.51,322.78 L455.67,323.04 L455.84,323.30 L456.01,323.55 L456.18,323.81 L456.35,324.07 L456.53,324.32 L456.71,324.58 L456.90,324.84 L457.08,325.09 L457.28,325.35 L457.47,325.60 L457.67,325.86 L457.87,326.12 L458.07,326.37 L458.28,326.63 L458.50,326.88 L458.71,327.14 L458.93,327.39 L459.16,327.64 L459.38,327.90 L459.61,328.15 L459.85,328.41 L460.09,328.66 L460.33,328.91 L460.58,329.17 L460.83,329.42 L461.08,329.67 L461.34,329.93 L461.61,330.18 L461.88,330.43 L462.15,330.68 L462.43,330.94 L462.71,331.19 L462.99,331.44 L463.28,331.69 L463.58,331.94 L463.88,332.19 L464.19,332.45 L464.50,332.70 L464.81,332.95 L465.13,333.20 L465.46,333.45 L465.79,333.70 L466.13,333.95 L466.47,334.20 L466.82,334.45 L467.17,334.71 L467.53,334.96 L467.89,335.21 L468.27,335.46 L468.64,335.71 L469.03,335.96 L469.42,336.21 L469.82,336.46 L470.22,336.71 L470.63,336.96 L471.05,337.21 L471.48,337.46 L471.91,337.71 L472.35,337.96 L472.80,338.22 L473.26,338.47 L473.72,338.72 L474.20,338.97 L474.68,339.22 L475.17,339.47 L475.67,339.72 L476.18,339.98 L476.70,340.23 L477.23,340.48 L477.77,340.73 L478.32,340.99 L478.88,341.24 L479.46,341.49 L480.04,341.75 L480.64,342.00 L481.24,342.26 L481.87,342.51 L482.50,342.77 L483.15,343.03" fill="none" stroke="#333" stroke-width="0.9" stroke-dasharray="1.7,1.5"/>
<circle cx="470.0" cy="307.25" r="11.0" fill="none" stroke="#333" stroke-width="0.9" stroke-dasharray="1.7,1.5"/>
<circle cx="470.0" cy="307.25" r="1.9" fill="none" stroke="#555" stroke-width="0.6"/>
<line x1="467.68" y1="315.35" x2="457.60" y2="320.20" stroke="#e02020" stroke-width="0.8"/>
<path d="M457.60,320.20 L459.38,317.90 M457.60,320.20 L460.51,320.24" stroke="#e02020" stroke-width="0.8" fill="none"/>
<circle cx="467.68" cy="315.35" r="3.0" fill="#ee1111"/>
<rect x="433.9" y="271.3" width="72.20" height="71.90" fill="none" stroke="#777" stroke-width="0.8"/>
<path d="M506.00,343.2v-1.8M506.00,271.3v1.8M433.9,271.25h1.8M506.1,271.25h-1.8M488.00,343.2v-1.8M488.00,271.3v1.8M433.9,289.25h1.8M506.1,289.25h-1.8M470.00,343.2v-1.8M470.00,271.3v1.8M433.9,307.25h1.8M506.1,307.25h-1.8M452.00,343.2v-1.8M452.00,271.3v1.8M433.9,325.25h1.8M506.1,325.25h-1.8M434.00,343.2v-1.8M434.00,271.3v1.8M433.9,343.25h1.8M506.1,343.25h-1.8" stroke="#555" stroke-width="0.6" fill="none"/>
<text transform="translate(432.10,274.62) scale(0.835,1)" font-size="9.0" text-anchor="end" fill="#262626" stroke="#262626" stroke-width="0.2" >20</text>
<text transform="translate(432.10,292.62) scale(0.835,1)" font-size="9.0" text-anchor="end" fill="#262626" stroke="#262626" stroke-width="0.2" >10</text>
<text transform="translate(432.10,310.62) scale(0.835,1)" font-size="9.0" text-anchor="end" fill="#262626" stroke="#262626" stroke-width="0.2" >0</text>
<text transform="translate(432.10,328.62) scale(0.835,1)" font-size="9.0" text-anchor="end" fill="#262626" stroke="#262626" stroke-width="0.2" >-10</text>
<text transform="translate(432.10,346.62) scale(0.835,1)" font-size="9.0" text-anchor="end" fill="#262626" stroke="#262626" stroke-width="0.2" >-20</text>
<text transform="translate(434.00,352.97) scale(0.835,1)" font-size="9.0" text-anchor="middle" fill="#262626" stroke="#262626" stroke-width="0.2" >20</text>
<text transform="translate(470.00,352.97) scale(0.835,1)" font-size="9.0" text-anchor="middle" fill="#262626" stroke="#262626" stroke-width="0.2" >0</text>
<text transform="translate(506.00,352.97) scale(0.835,1)" font-size="9.0" text-anchor="middle" fill="#262626" stroke="#262626" stroke-width="0.2" >-20</text>
<text transform="translate(470.00,363.27) scale(0.92,1)" font-size="9.0" text-anchor="middle" fill="#262626" stroke="#262626" stroke-width="0.2" >X GSM (RE)</text>
<text transform="translate(419.07,307.25) rotate(-90)" font-size="8.3" text-anchor="middle" fill="#262626" stroke="#262626" stroke-width="0.2" >Z GSM (RE)</text>
<text transform="translate(438.50,280.90) scale(0.95,1)" font-size="9.2" text-anchor="start" fill="#222" stroke="#222" stroke-width="0.2" >m</text>
</g></svg>
</body></html>
